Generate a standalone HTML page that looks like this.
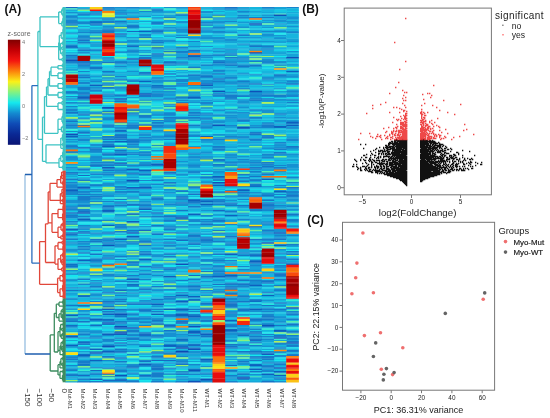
<!DOCTYPE html>
<html><head><meta charset="utf-8"><style>
html,body{margin:0;padding:0;background:#fff;width:550px;height:418px;overflow:hidden}
svg{display:block;font-family:"Liberation Sans",sans-serif;filter:blur(0.3px)}
</style></head><body>
<svg width="550" height="418" viewBox="0 0 550 418">
<rect width="550" height="418" fill="#fff"/>
<defs><linearGradient id="cb" x1="0" y1="0" x2="0" y2="1"><stop offset="0.000" stop-color="#800000"/><stop offset="0.050" stop-color="#a20003"/><stop offset="0.100" stop-color="#c40005"/><stop offset="0.150" stop-color="#dc0b0b"/><stop offset="0.200" stop-color="#f41610"/><stop offset="0.250" stop-color="#f84c0e"/><stop offset="0.300" stop-color="#fc820c"/><stop offset="0.350" stop-color="#fbba12"/><stop offset="0.400" stop-color="#faf219"/><stop offset="0.450" stop-color="#bef24d"/><stop offset="0.500" stop-color="#82f282"/><stop offset="0.550" stop-color="#4bedb8"/><stop offset="0.600" stop-color="#14e8ee"/><stop offset="0.650" stop-color="#14b9df"/><stop offset="0.700" stop-color="#148ad0"/><stop offset="0.750" stop-color="#126ac3"/><stop offset="0.800" stop-color="#0f4bb6"/><stop offset="0.850" stop-color="#0c3aa5"/><stop offset="0.900" stop-color="#0a2894"/><stop offset="0.950" stop-color="#0a1e84"/><stop offset="1.000" stop-color="#0a1473"/></linearGradient></defs><rect x="7.9" y="39.7" width="12.4" height="105.1" fill="url(#cb)"/>
<defs><filter id="bl" x="0" y="0" width="1" height="1"><feGaussianBlur stdDeviation="0.35"/></filter></defs><g filter="url(#bl)"><path fill="#126bc3" d="M65.3 7.0h12.67v1.55h-12.67zM65.3 23.3h12.67v1.55h-12.67zM65.3 45.8h12.67v1.55h-12.67zM65.3 54.5h12.67v1.55h-12.67zM65.3 90.8h12.67v1.55h-12.67zM65.3 95.8h12.67v1.55h-12.67zM65.3 102.1h12.67v1.55h-12.67zM65.3 105.8h12.67v1.55h-12.67zM65.3 130.8h12.67v1.55h-12.67zM65.3 138.4h12.67v1.55h-12.67zM65.3 233.4h12.67v1.55h-12.67zM65.3 263.5h12.67v1.55h-12.67zM65.3 321.0h12.67v1.55h-12.67zM65.3 324.8h12.67v1.55h-12.67zM77.6 70.8h12.67v1.55h-12.67zM77.6 113.3h12.67v1.55h-12.67zM77.6 124.6h12.67v1.55h-12.67zM77.6 172.1h12.67v1.55h-12.67zM77.6 174.6h12.67v1.55h-12.67zM77.6 210.9h12.67v1.55h-12.67zM77.6 215.9h12.67v1.55h-12.67zM77.6 296.0h12.67v1.55h-12.67zM77.6 304.7h12.67v1.55h-12.67zM77.6 341.0h12.67v2.80h-12.67zM77.6 374.8h12.67v1.55h-12.67zM89.8 22.0h12.67v1.55h-12.67zM89.8 240.9h12.67v1.55h-12.67zM89.8 324.8h12.67v1.55h-12.67zM89.8 369.8h12.67v1.55h-12.67zM102.1 28.3h12.67v1.55h-12.67zM102.1 158.4h12.67v1.55h-12.67zM102.1 200.9h12.67v1.55h-12.67zM102.1 205.9h12.67v1.55h-12.67zM102.1 210.9h12.67v1.55h-12.67zM102.1 318.5h12.67v1.55h-12.67zM102.1 373.5h12.67v1.55h-12.67zM102.1 379.8h12.67v1.55h-12.67zM114.4 129.6h12.67v1.55h-12.67zM114.4 267.2h12.67v1.55h-12.67zM114.4 289.7h12.67v1.55h-12.67zM114.4 301.0h12.67v1.55h-12.67zM114.4 303.5h12.67v1.55h-12.67zM114.4 308.5h12.67v1.55h-12.67zM114.4 321.0h12.67v1.55h-12.67zM114.4 331.0h12.67v1.55h-12.67zM114.4 379.8h12.67v1.55h-12.67zM126.6 30.8h12.67v1.55h-12.67zM126.6 45.8h12.67v1.55h-12.67zM126.6 172.1h12.67v1.55h-12.67zM126.6 283.5h12.67v1.55h-12.67zM126.6 292.2h12.67v1.55h-12.67zM126.6 353.5h12.67v1.55h-12.67zM126.6 367.3h12.67v1.55h-12.67zM138.9 229.7h12.67v1.55h-12.67zM138.9 278.5h12.67v1.55h-12.67zM138.9 333.5h12.67v2.80h-12.67zM138.9 346.0h12.67v1.55h-12.67zM138.9 361.0h12.67v1.55h-12.67zM138.9 374.8h12.67v1.55h-12.67zM151.2 8.3h12.67v1.55h-12.67zM151.2 47.0h12.67v1.55h-12.67zM151.2 84.6h12.67v1.55h-12.67zM151.2 98.3h12.67v1.55h-12.67zM151.2 308.5h12.67v1.55h-12.67zM151.2 359.8h12.67v1.55h-12.67zM163.5 324.8h12.67v1.55h-12.67zM163.5 346.0h12.67v1.55h-12.67zM163.5 359.8h12.67v1.55h-12.67zM175.7 47.0h12.67v1.55h-12.67zM175.7 63.3h12.67v1.55h-12.67zM175.7 239.7h12.67v1.55h-12.67zM175.7 317.2h12.67v1.55h-12.67zM175.7 338.5h12.67v1.55h-12.67zM175.7 346.0h12.67v1.55h-12.67zM175.7 371.0h12.67v1.55h-12.67zM188.0 49.5h12.67v1.55h-12.67zM188.0 124.6h12.67v1.55h-12.67zM188.0 242.2h12.67v1.55h-12.67zM188.0 274.7h12.67v1.55h-12.67zM188.0 298.5h12.67v1.55h-12.67zM188.0 344.8h12.67v1.55h-12.67zM188.0 347.3h12.67v1.55h-12.67zM200.3 336.0h12.67v1.55h-12.67zM200.3 351.0h12.67v1.55h-12.67zM212.5 62.0h12.67v1.55h-12.67zM212.5 158.4h12.67v1.55h-12.67zM212.5 163.4h12.67v1.55h-12.67zM212.5 209.7h12.67v1.55h-12.67zM212.5 248.4h12.67v1.55h-12.67zM224.8 64.5h12.67v1.55h-12.67zM224.8 232.2h12.67v1.55h-12.67zM224.8 235.9h12.67v1.55h-12.67zM224.8 282.2h12.67v1.55h-12.67zM224.8 287.2h12.67v1.55h-12.67zM224.8 302.2h12.67v1.55h-12.67zM224.8 328.5h12.67v1.55h-12.67zM224.8 364.8h12.67v1.55h-12.67zM237.1 180.9h12.67v1.55h-12.67zM237.1 185.9h12.67v1.55h-12.67zM237.1 198.4h12.67v1.55h-12.67zM237.1 266.0h12.67v1.55h-12.67zM237.1 334.8h12.67v1.55h-12.67zM237.1 361.0h12.67v1.55h-12.67zM237.1 378.5h12.67v1.55h-12.67zM249.3 64.5h12.67v1.55h-12.67zM249.3 132.1h12.67v1.55h-12.67zM249.3 168.4h12.67v1.55h-12.67zM249.3 185.9h12.67v1.55h-12.67zM249.3 254.7h12.67v1.55h-12.67zM249.3 301.0h12.67v1.55h-12.67zM249.3 323.5h12.67v1.55h-12.67zM249.3 328.5h12.67v1.55h-12.67zM249.3 339.8h12.67v1.55h-12.67zM249.3 356.0h12.67v1.55h-12.67zM249.3 363.5h12.67v1.55h-12.67zM261.6 17.0h12.67v1.55h-12.67zM261.6 165.9h12.67v1.55h-12.67zM261.6 318.5h12.67v1.55h-12.67zM261.6 351.0h12.67v1.55h-12.67zM261.6 358.5h12.67v1.55h-12.67zM261.6 362.3h12.67v1.55h-12.67zM273.9 127.1h12.67v1.55h-12.67zM273.9 193.4h12.67v1.55h-12.67zM273.9 202.2h12.67v1.55h-12.67zM273.9 272.2h12.67v1.55h-12.67zM286.2 102.1h12.67v1.55h-12.67zM286.2 213.4h12.67v1.55h-12.67zM286.2 341.0h12.67v1.55h-12.67z"/><path fill="#44ecbe" d="M65.3 8.3h12.67v1.55h-12.67zM65.3 128.3h12.67v1.55h-12.67zM77.6 276.0h12.67v1.55h-12.67zM77.6 282.2h12.67v1.55h-12.67zM89.8 108.3h12.67v1.55h-12.67zM89.8 135.9h12.67v1.55h-12.67zM102.1 179.6h12.67v1.55h-12.67zM102.1 188.4h12.67v1.55h-12.67zM102.1 272.2h12.67v1.55h-12.67zM102.1 368.5h12.67v1.55h-12.67zM114.4 18.3h12.67v1.55h-12.67zM114.4 291.0h12.67v1.55h-12.67zM138.9 67.0h12.67v1.55h-12.67zM138.9 104.6h12.67v1.55h-12.67zM138.9 149.6h12.67v1.55h-12.67zM138.9 159.6h12.67v1.55h-12.67zM138.9 217.2h12.67v1.55h-12.67zM138.9 294.7h12.67v1.55h-12.67zM138.9 348.5h12.67v1.55h-12.67zM138.9 358.5h12.67v1.55h-12.67zM151.2 269.7h12.67v1.55h-12.67zM151.2 287.2h12.67v1.55h-12.67zM163.5 13.3h12.67v1.55h-12.67zM163.5 49.5h12.67v1.55h-12.67zM163.5 89.6h12.67v1.55h-12.67zM163.5 183.4h12.67v1.55h-12.67zM163.5 209.7h12.67v1.55h-12.67zM163.5 247.2h12.67v1.55h-12.67zM163.5 309.7h12.67v1.55h-12.67zM175.7 167.1h12.67v1.55h-12.67zM175.7 342.3h12.67v1.55h-12.67zM200.3 89.6h12.67v1.55h-12.67zM200.3 94.6h12.67v1.55h-12.67zM200.3 174.6h12.67v1.55h-12.67zM200.3 357.3h12.67v1.55h-12.67zM212.5 135.9h12.67v1.55h-12.67zM212.5 157.1h12.67v1.55h-12.67zM212.5 162.1h12.67v1.55h-12.67zM212.5 167.1h12.67v1.55h-12.67zM212.5 194.7h12.67v1.55h-12.67zM224.8 55.8h12.67v1.55h-12.67zM224.8 207.2h12.67v1.55h-12.67zM224.8 359.8h12.67v1.55h-12.67zM237.1 276.0h12.67v1.55h-12.67zM237.1 337.3h12.67v2.80h-12.67zM249.3 112.1h12.67v1.55h-12.67zM249.3 182.1h12.67v1.55h-12.67zM249.3 376.0h12.67v1.55h-12.67zM261.6 84.6h12.67v1.55h-12.67zM261.6 138.4h12.67v1.55h-12.67zM273.9 13.3h12.67v1.55h-12.67zM273.9 93.3h12.67v1.55h-12.67zM286.2 180.9h12.67v1.55h-12.67zM286.2 309.7h12.67v1.55h-12.67z"/><path fill="#14a3d8" d="M65.3 9.5h12.67v1.55h-12.67zM65.3 14.5h12.67v1.55h-12.67zM65.3 18.3h12.67v1.55h-12.67zM65.3 28.3h12.67v1.55h-12.67zM65.3 32.0h12.67v1.55h-12.67zM65.3 40.8h12.67v1.55h-12.67zM65.3 52.0h12.67v1.55h-12.67zM65.3 63.3h12.67v1.55h-12.67zM65.3 68.3h12.67v2.80h-12.67zM65.3 84.6h12.67v4.05h-12.67zM65.3 99.6h12.67v1.55h-12.67zM65.3 103.3h12.67v1.55h-12.67zM65.3 110.8h12.67v1.55h-12.67zM65.3 119.6h12.67v1.55h-12.67zM65.3 125.8h12.67v1.55h-12.67zM65.3 147.1h12.67v2.80h-12.67zM65.3 159.6h12.67v1.55h-12.67zM65.3 168.4h12.67v1.55h-12.67zM65.3 175.9h12.67v1.55h-12.67zM65.3 183.4h12.67v1.55h-12.67zM65.3 195.9h12.67v1.55h-12.67zM65.3 204.7h12.67v1.55h-12.67zM65.3 209.7h12.67v1.55h-12.67zM65.3 213.4h12.67v1.55h-12.67zM65.3 222.2h12.67v1.55h-12.67zM65.3 237.2h12.67v1.55h-12.67zM65.3 240.9h12.67v1.55h-12.67zM65.3 243.4h12.67v1.55h-12.67zM65.3 250.9h12.67v1.55h-12.67zM65.3 255.9h12.67v1.55h-12.67zM65.3 259.7h12.67v1.55h-12.67zM65.3 262.2h12.67v1.55h-12.67zM65.3 267.2h12.67v1.55h-12.67zM65.3 272.2h12.67v1.55h-12.67zM65.3 278.5h12.67v1.55h-12.67zM65.3 292.2h12.67v2.80h-12.67zM65.3 313.5h12.67v1.55h-12.67zM65.3 327.3h12.67v1.55h-12.67zM65.3 331.0h12.67v1.55h-12.67zM65.3 339.8h12.67v1.55h-12.67zM65.3 346.0h12.67v2.80h-12.67zM65.3 351.0h12.67v1.55h-12.67zM65.3 367.3h12.67v1.55h-12.67zM65.3 381.0h12.67v1.55h-12.67zM77.6 17.0h12.67v1.55h-12.67zM77.6 20.8h12.67v1.55h-12.67zM77.6 25.8h12.67v1.55h-12.67zM77.6 29.5h12.67v2.80h-12.67zM77.6 34.5h12.67v1.55h-12.67zM77.6 40.8h12.67v1.55h-12.67zM77.6 47.0h12.67v1.55h-12.67zM77.6 67.0h12.67v1.55h-12.67zM77.6 73.3h12.67v1.55h-12.67zM77.6 75.8h12.67v1.55h-12.67zM77.6 79.6h12.67v1.55h-12.67zM77.6 83.3h12.67v1.55h-12.67zM77.6 85.8h12.67v1.55h-12.67zM77.6 89.6h12.67v2.80h-12.67zM77.6 94.6h12.67v1.55h-12.67zM77.6 99.6h12.67v1.55h-12.67zM77.6 104.6h12.67v1.55h-12.67zM77.6 112.1h12.67v1.55h-12.67zM77.6 117.1h12.67v1.55h-12.67zM77.6 137.1h12.67v1.55h-12.67zM77.6 143.4h12.67v1.55h-12.67zM77.6 157.1h12.67v1.55h-12.67zM77.6 159.6h12.67v1.55h-12.67zM77.6 164.6h12.67v1.55h-12.67zM77.6 169.6h12.67v1.55h-12.67zM77.6 192.1h12.67v1.55h-12.67zM77.6 203.4h12.67v1.55h-12.67zM77.6 225.9h12.67v1.55h-12.67zM77.6 234.7h12.67v1.55h-12.67zM77.6 247.2h12.67v1.55h-12.67zM77.6 258.5h12.67v1.55h-12.67zM77.6 268.5h12.67v1.55h-12.67zM77.6 271.0h12.67v1.55h-12.67zM77.6 273.5h12.67v1.55h-12.67zM77.6 311.0h12.67v1.55h-12.67zM77.6 318.5h12.67v1.55h-12.67zM77.6 324.8h12.67v1.55h-12.67zM77.6 328.5h12.67v2.80h-12.67zM77.6 332.3h12.67v1.55h-12.67zM77.6 334.8h12.67v1.55h-12.67zM77.6 348.5h12.67v1.55h-12.67zM77.6 357.3h12.67v1.55h-12.67zM77.6 373.5h12.67v1.55h-12.67zM77.6 376.0h12.67v1.55h-12.67zM89.8 12.0h12.67v1.55h-12.67zM89.8 17.0h12.67v1.55h-12.67zM89.8 37.0h12.67v1.55h-12.67zM89.8 43.3h12.67v4.05h-12.67zM89.8 48.3h12.67v1.55h-12.67zM89.8 58.3h12.67v1.55h-12.67zM89.8 65.8h12.67v1.55h-12.67zM89.8 78.3h12.67v2.80h-12.67zM89.8 88.3h12.67v1.55h-12.67zM89.8 90.8h12.67v1.55h-12.67zM89.8 104.6h12.67v1.55h-12.67zM89.8 127.1h12.67v1.55h-12.67zM89.8 137.1h12.67v1.55h-12.67zM89.8 152.1h12.67v1.55h-12.67zM89.8 163.4h12.67v1.55h-12.67zM89.8 172.1h12.67v1.55h-12.67zM89.8 175.9h12.67v2.80h-12.67zM89.8 179.6h12.67v1.55h-12.67zM89.8 183.4h12.67v1.55h-12.67zM89.8 189.6h12.67v1.55h-12.67zM89.8 194.7h12.67v1.55h-12.67zM89.8 207.2h12.67v1.55h-12.67zM89.8 209.7h12.67v2.80h-12.67zM89.8 213.4h12.67v4.05h-12.67zM89.8 224.7h12.67v4.05h-12.67zM89.8 233.4h12.67v1.55h-12.67zM89.8 242.2h12.67v1.55h-12.67zM89.8 257.2h12.67v1.55h-12.67zM89.8 266.0h12.67v1.55h-12.67zM89.8 277.2h12.67v1.55h-12.67zM89.8 283.5h12.67v2.80h-12.67zM89.8 287.2h12.67v1.55h-12.67zM89.8 292.2h12.67v1.55h-12.67zM89.8 298.5h12.67v1.55h-12.67zM89.8 304.7h12.67v1.55h-12.67zM89.8 323.5h12.67v1.55h-12.67zM89.8 329.8h12.67v1.55h-12.67zM89.8 334.8h12.67v1.55h-12.67zM89.8 346.0h12.67v1.55h-12.67zM89.8 353.5h12.67v1.55h-12.67zM102.1 17.0h12.67v1.55h-12.67zM102.1 27.0h12.67v1.55h-12.67zM102.1 59.5h12.67v2.80h-12.67zM102.1 72.1h12.67v1.55h-12.67zM102.1 82.1h12.67v1.55h-12.67zM102.1 94.6h12.67v1.55h-12.67zM102.1 100.8h12.67v1.55h-12.67zM102.1 108.3h12.67v1.55h-12.67zM102.1 119.6h12.67v1.55h-12.67zM102.1 123.3h12.67v1.55h-12.67zM102.1 127.1h12.67v1.55h-12.67zM102.1 130.8h12.67v1.55h-12.67zM102.1 142.1h12.67v1.55h-12.67zM102.1 160.9h12.67v1.55h-12.67zM102.1 163.4h12.67v1.55h-12.67zM102.1 174.6h12.67v1.55h-12.67zM102.1 178.4h12.67v1.55h-12.67zM102.1 192.1h12.67v2.80h-12.67zM102.1 198.4h12.67v1.55h-12.67zM102.1 208.4h12.67v1.55h-12.67zM102.1 212.2h12.67v1.55h-12.67zM102.1 217.2h12.67v1.55h-12.67zM102.1 230.9h12.67v1.55h-12.67zM102.1 233.4h12.67v1.55h-12.67zM102.1 240.9h12.67v1.55h-12.67zM102.1 243.4h12.67v1.55h-12.67zM102.1 247.2h12.67v1.55h-12.67zM102.1 255.9h12.67v1.55h-12.67zM102.1 267.2h12.67v1.55h-12.67zM102.1 271.0h12.67v1.55h-12.67zM102.1 276.0h12.67v1.55h-12.67zM102.1 278.5h12.67v1.55h-12.67zM102.1 281.0h12.67v1.55h-12.67zM102.1 288.5h12.67v4.05h-12.67zM102.1 298.5h12.67v2.80h-12.67zM102.1 303.5h12.67v2.80h-12.67zM102.1 312.2h12.67v1.55h-12.67zM102.1 316.0h12.67v1.55h-12.67zM102.1 321.0h12.67v1.55h-12.67zM102.1 331.0h12.67v1.55h-12.67zM102.1 343.5h12.67v1.55h-12.67zM102.1 363.5h12.67v1.55h-12.67zM114.4 8.3h12.67v1.55h-12.67zM114.4 10.8h12.67v1.55h-12.67zM114.4 15.8h12.67v1.55h-12.67zM114.4 22.0h12.67v1.55h-12.67zM114.4 29.5h12.67v2.80h-12.67zM114.4 34.5h12.67v1.55h-12.67zM114.4 38.3h12.67v1.55h-12.67zM114.4 40.8h12.67v1.55h-12.67zM114.4 47.0h12.67v1.55h-12.67zM114.4 50.8h12.67v1.55h-12.67zM114.4 72.1h12.67v1.55h-12.67zM114.4 79.6h12.67v1.55h-12.67zM114.4 88.3h12.67v2.80h-12.67zM114.4 93.3h12.67v1.55h-12.67zM114.4 95.8h12.67v1.55h-12.67zM114.4 99.6h12.67v1.55h-12.67zM114.4 128.3h12.67v1.55h-12.67zM114.4 144.6h12.67v1.55h-12.67zM114.4 150.9h12.67v1.55h-12.67zM114.4 158.4h12.67v1.55h-12.67zM114.4 163.4h12.67v1.55h-12.67zM114.4 167.1h12.67v2.80h-12.67zM114.4 170.9h12.67v1.55h-12.67zM114.4 173.4h12.67v1.55h-12.67zM114.4 182.1h12.67v2.80h-12.67zM114.4 193.4h12.67v1.55h-12.67zM114.4 195.9h12.67v1.55h-12.67zM114.4 214.7h12.67v1.55h-12.67zM114.4 219.7h12.67v1.55h-12.67zM114.4 228.4h12.67v1.55h-12.67zM114.4 233.4h12.67v1.55h-12.67zM114.4 237.2h12.67v1.55h-12.67zM114.4 242.2h12.67v1.55h-12.67zM114.4 254.7h12.67v1.55h-12.67zM114.4 273.5h12.67v2.80h-12.67zM114.4 279.7h12.67v1.55h-12.67zM114.4 283.5h12.67v1.55h-12.67zM114.4 299.7h12.67v1.55h-12.67zM114.4 306.0h12.67v1.55h-12.67zM114.4 311.0h12.67v1.55h-12.67zM114.4 323.5h12.67v2.80h-12.67zM114.4 358.5h12.67v1.55h-12.67zM114.4 366.0h12.67v1.55h-12.67zM114.4 368.5h12.67v1.55h-12.67zM114.4 376.0h12.67v1.55h-12.67zM126.6 8.3h12.67v1.55h-12.67zM126.6 13.3h12.67v1.55h-12.67zM126.6 15.8h12.67v1.55h-12.67zM126.6 22.0h12.67v1.55h-12.67zM126.6 42.0h12.67v1.55h-12.67zM126.6 48.3h12.67v1.55h-12.67zM126.6 52.0h12.67v1.55h-12.67zM126.6 60.8h12.67v1.55h-12.67zM126.6 63.3h12.67v2.80h-12.67zM126.6 78.3h12.67v1.55h-12.67zM126.6 114.6h12.67v1.55h-12.67zM126.6 119.6h12.67v1.55h-12.67zM126.6 122.1h12.67v1.55h-12.67zM126.6 132.1h12.67v1.55h-12.67zM126.6 134.6h12.67v1.55h-12.67zM126.6 144.6h12.67v1.55h-12.67zM126.6 147.1h12.67v1.55h-12.67zM126.6 165.9h12.67v1.55h-12.67zM126.6 192.1h12.67v1.55h-12.67zM126.6 195.9h12.67v1.55h-12.67zM126.6 207.2h12.67v1.55h-12.67zM126.6 209.7h12.67v1.55h-12.67zM126.6 222.2h12.67v1.55h-12.67zM126.6 227.2h12.67v1.55h-12.67zM126.6 230.9h12.67v1.55h-12.67zM126.6 237.2h12.67v1.55h-12.67zM126.6 249.7h12.67v1.55h-12.67zM126.6 254.7h12.67v1.55h-12.67zM126.6 288.5h12.67v1.55h-12.67zM126.6 294.7h12.67v2.80h-12.67zM126.6 309.7h12.67v1.55h-12.67zM126.6 314.7h12.67v1.55h-12.67zM126.6 319.8h12.67v1.55h-12.67zM126.6 324.8h12.67v1.55h-12.67zM126.6 341.0h12.67v1.55h-12.67zM126.6 348.5h12.67v2.80h-12.67zM126.6 369.8h12.67v1.55h-12.67zM138.9 7.0h12.67v1.55h-12.67zM138.9 20.8h12.67v1.55h-12.67zM138.9 23.3h12.67v1.55h-12.67zM138.9 27.0h12.67v1.55h-12.67zM138.9 35.8h12.67v1.55h-12.67zM138.9 40.8h12.67v1.55h-12.67zM138.9 52.0h12.67v1.55h-12.67zM138.9 74.6h12.67v1.55h-12.67zM138.9 84.6h12.67v1.55h-12.67zM138.9 88.3h12.67v1.55h-12.67zM138.9 92.1h12.67v1.55h-12.67zM138.9 98.3h12.67v1.55h-12.67zM138.9 108.3h12.67v5.30h-12.67zM138.9 119.6h12.67v2.80h-12.67zM138.9 132.1h12.67v1.55h-12.67zM138.9 138.4h12.67v1.55h-12.67zM138.9 140.9h12.67v2.80h-12.67zM138.9 145.9h12.67v1.55h-12.67zM138.9 150.9h12.67v1.55h-12.67zM138.9 158.4h12.67v1.55h-12.67zM138.9 170.9h12.67v2.80h-12.67zM138.9 174.6h12.67v1.55h-12.67zM138.9 184.6h12.67v1.55h-12.67zM138.9 188.4h12.67v1.55h-12.67zM138.9 198.4h12.67v1.55h-12.67zM138.9 202.2h12.67v1.55h-12.67zM138.9 205.9h12.67v1.55h-12.67zM138.9 212.2h12.67v1.55h-12.67zM138.9 228.4h12.67v1.55h-12.67zM138.9 237.2h12.67v2.80h-12.67zM138.9 254.7h12.67v1.55h-12.67zM138.9 262.2h12.67v1.55h-12.67zM138.9 272.2h12.67v1.55h-12.67zM138.9 291.0h12.67v1.55h-12.67zM138.9 301.0h12.67v1.55h-12.67zM138.9 327.3h12.67v1.55h-12.67zM138.9 337.3h12.67v1.55h-12.67zM138.9 343.5h12.67v1.55h-12.67zM138.9 366.0h12.67v1.55h-12.67zM138.9 369.8h12.67v2.80h-12.67zM138.9 373.5h12.67v1.55h-12.67zM151.2 12.0h12.67v1.55h-12.67zM151.2 18.3h12.67v1.55h-12.67zM151.2 20.8h12.67v1.55h-12.67zM151.2 28.3h12.67v1.55h-12.67zM151.2 32.0h12.67v1.55h-12.67zM151.2 37.0h12.67v1.55h-12.67zM151.2 57.0h12.67v2.80h-12.67zM151.2 62.0h12.67v1.55h-12.67zM151.2 78.3h12.67v1.55h-12.67zM151.2 82.1h12.67v1.55h-12.67zM151.2 92.1h12.67v1.55h-12.67zM151.2 99.6h12.67v1.55h-12.67zM151.2 112.1h12.67v2.80h-12.67zM151.2 130.8h12.67v1.55h-12.67zM151.2 137.1h12.67v1.55h-12.67zM151.2 160.9h12.67v1.55h-12.67zM151.2 177.1h12.67v1.55h-12.67zM151.2 187.1h12.67v1.55h-12.67zM151.2 192.1h12.67v1.55h-12.67zM151.2 195.9h12.67v1.55h-12.67zM151.2 199.7h12.67v1.55h-12.67zM151.2 205.9h12.67v1.55h-12.67zM151.2 209.7h12.67v1.55h-12.67zM151.2 213.4h12.67v1.55h-12.67zM151.2 219.7h12.67v1.55h-12.67zM151.2 225.9h12.67v1.55h-12.67zM151.2 232.2h12.67v1.55h-12.67zM151.2 244.7h12.67v1.55h-12.67zM151.2 253.4h12.67v1.55h-12.67zM151.2 259.7h12.67v1.55h-12.67zM151.2 263.5h12.67v1.55h-12.67zM151.2 266.0h12.67v1.55h-12.67zM151.2 272.2h12.67v1.55h-12.67zM151.2 283.5h12.67v1.55h-12.67zM151.2 288.5h12.67v1.55h-12.67zM151.2 292.2h12.67v1.55h-12.67zM151.2 299.7h12.67v4.05h-12.67zM151.2 304.7h12.67v1.55h-12.67zM151.2 322.3h12.67v1.55h-12.67zM151.2 327.3h12.67v1.55h-12.67zM151.2 339.8h12.67v1.55h-12.67zM151.2 346.0h12.67v1.55h-12.67zM151.2 354.8h12.67v1.55h-12.67zM151.2 362.3h12.67v1.55h-12.67zM151.2 369.8h12.67v1.55h-12.67zM151.2 379.8h12.67v1.55h-12.67zM163.5 10.8h12.67v2.80h-12.67zM163.5 14.5h12.67v2.80h-12.67zM163.5 19.5h12.67v2.80h-12.67zM163.5 24.5h12.67v1.55h-12.67zM163.5 28.3h12.67v1.55h-12.67zM163.5 35.8h12.67v1.55h-12.67zM163.5 80.8h12.67v1.55h-12.67zM163.5 84.6h12.67v1.55h-12.67zM163.5 92.1h12.67v2.80h-12.67zM163.5 97.1h12.67v1.55h-12.67zM163.5 123.3h12.67v1.55h-12.67zM163.5 132.1h12.67v2.80h-12.67zM163.5 142.1h12.67v4.05h-12.67zM163.5 178.4h12.67v1.55h-12.67zM163.5 189.6h12.67v1.55h-12.67zM163.5 198.4h12.67v1.55h-12.67zM163.5 200.9h12.67v2.80h-12.67zM163.5 204.7h12.67v1.55h-12.67zM163.5 217.2h12.67v2.80h-12.67zM163.5 224.7h12.67v1.55h-12.67zM163.5 229.7h12.67v1.55h-12.67zM163.5 235.9h12.67v1.55h-12.67zM163.5 240.9h12.67v1.55h-12.67zM163.5 245.9h12.67v1.55h-12.67zM163.5 269.7h12.67v2.80h-12.67zM163.5 279.7h12.67v2.80h-12.67zM163.5 284.7h12.67v1.55h-12.67zM163.5 289.7h12.67v1.55h-12.67zM163.5 292.2h12.67v1.55h-12.67zM163.5 301.0h12.67v1.55h-12.67zM163.5 331.0h12.67v1.55h-12.67zM163.5 351.0h12.67v1.55h-12.67zM163.5 364.8h12.67v1.55h-12.67zM163.5 368.5h12.67v1.55h-12.67zM163.5 371.0h12.67v1.55h-12.67zM163.5 377.3h12.67v1.55h-12.67zM163.5 381.0h12.67v1.55h-12.67zM175.7 8.3h12.67v1.55h-12.67zM175.7 27.0h12.67v1.55h-12.67zM175.7 32.0h12.67v1.55h-12.67zM175.7 40.8h12.67v1.55h-12.67zM175.7 43.3h12.67v1.55h-12.67zM175.7 53.3h12.67v4.05h-12.67zM175.7 60.8h12.67v1.55h-12.67zM175.7 64.5h12.67v1.55h-12.67zM175.7 69.6h12.67v1.55h-12.67zM175.7 72.1h12.67v1.55h-12.67zM175.7 74.6h12.67v1.55h-12.67zM175.7 85.8h12.67v1.55h-12.67zM175.7 113.3h12.67v1.55h-12.67zM175.7 149.6h12.67v2.80h-12.67zM175.7 153.4h12.67v1.55h-12.67zM175.7 163.4h12.67v2.80h-12.67zM175.7 169.6h12.67v2.80h-12.67zM175.7 174.6h12.67v1.55h-12.67zM175.7 193.4h12.67v2.80h-12.67zM175.7 199.7h12.67v2.80h-12.67zM175.7 227.2h12.67v1.55h-12.67zM175.7 230.9h12.67v1.55h-12.67zM175.7 235.9h12.67v2.80h-12.67zM175.7 243.4h12.67v2.80h-12.67zM175.7 252.2h12.67v2.80h-12.67zM175.7 261.0h12.67v1.55h-12.67zM175.7 271.0h12.67v1.55h-12.67zM175.7 273.5h12.67v1.55h-12.67zM175.7 284.7h12.67v1.55h-12.67zM175.7 303.5h12.67v1.55h-12.67zM175.7 307.2h12.67v1.55h-12.67zM175.7 312.2h12.67v1.55h-12.67zM175.7 334.8h12.67v2.80h-12.67zM175.7 341.0h12.67v1.55h-12.67zM175.7 343.5h12.67v1.55h-12.67zM175.7 353.5h12.67v2.80h-12.67zM175.7 358.5h12.67v1.55h-12.67zM175.7 366.0h12.67v1.55h-12.67zM175.7 377.3h12.67v1.55h-12.67zM188.0 52.0h12.67v1.55h-12.67zM188.0 57.0h12.67v1.55h-12.67zM188.0 65.8h12.67v1.55h-12.67zM188.0 73.3h12.67v1.55h-12.67zM188.0 75.8h12.67v1.55h-12.67zM188.0 79.6h12.67v1.55h-12.67zM188.0 87.1h12.67v1.55h-12.67zM188.0 93.3h12.67v2.80h-12.67zM188.0 99.6h12.67v2.80h-12.67zM188.0 104.6h12.67v1.55h-12.67zM188.0 109.6h12.67v1.55h-12.67zM188.0 113.3h12.67v1.55h-12.67zM188.0 125.8h12.67v2.80h-12.67zM188.0 132.1h12.67v1.55h-12.67zM188.0 152.1h12.67v1.55h-12.67zM188.0 158.4h12.67v2.80h-12.67zM188.0 162.1h12.67v2.80h-12.67zM188.0 167.1h12.67v1.55h-12.67zM188.0 169.6h12.67v1.55h-12.67zM188.0 175.9h12.67v2.80h-12.67zM188.0 188.4h12.67v1.55h-12.67zM188.0 195.9h12.67v1.55h-12.67zM188.0 203.4h12.67v1.55h-12.67zM188.0 207.2h12.67v1.55h-12.67zM188.0 214.7h12.67v1.55h-12.67zM188.0 224.7h12.67v1.55h-12.67zM188.0 233.4h12.67v1.55h-12.67zM188.0 237.2h12.67v2.80h-12.67zM188.0 240.9h12.67v1.55h-12.67zM188.0 245.9h12.67v1.55h-12.67zM188.0 249.7h12.67v1.55h-12.67zM188.0 263.5h12.67v4.05h-12.67zM188.0 292.2h12.67v1.55h-12.67zM188.0 306.0h12.67v1.55h-12.67zM188.0 319.8h12.67v1.55h-12.67zM188.0 324.8h12.67v1.55h-12.67zM188.0 346.0h12.67v1.55h-12.67zM188.0 353.5h12.67v2.80h-12.67zM188.0 358.5h12.67v1.55h-12.67zM188.0 364.8h12.67v1.55h-12.67zM188.0 377.3h12.67v2.80h-12.67zM200.3 15.8h12.67v1.55h-12.67zM200.3 20.8h12.67v1.55h-12.67zM200.3 23.3h12.67v1.55h-12.67zM200.3 27.0h12.67v1.55h-12.67zM200.3 29.5h12.67v1.55h-12.67zM200.3 32.0h12.67v1.55h-12.67zM200.3 34.5h12.67v2.80h-12.67zM200.3 49.5h12.67v1.55h-12.67zM200.3 55.8h12.67v1.55h-12.67zM200.3 70.8h12.67v4.05h-12.67zM200.3 93.3h12.67v1.55h-12.67zM200.3 103.3h12.67v2.80h-12.67zM200.3 109.6h12.67v1.55h-12.67zM200.3 112.1h12.67v1.55h-12.67zM200.3 122.1h12.67v1.55h-12.67zM200.3 124.6h12.67v1.55h-12.67zM200.3 140.9h12.67v2.80h-12.67zM200.3 144.6h12.67v2.80h-12.67zM200.3 150.9h12.67v1.55h-12.67zM200.3 153.4h12.67v1.55h-12.67zM200.3 157.1h12.67v1.55h-12.67zM200.3 162.1h12.67v4.05h-12.67zM200.3 167.1h12.67v1.55h-12.67zM200.3 169.6h12.67v1.55h-12.67zM200.3 175.9h12.67v1.55h-12.67zM200.3 198.4h12.67v1.55h-12.67zM200.3 205.9h12.67v1.55h-12.67zM200.3 215.9h12.67v1.55h-12.67zM200.3 219.7h12.67v1.55h-12.67zM200.3 222.2h12.67v1.55h-12.67zM200.3 224.7h12.67v1.55h-12.67zM200.3 230.9h12.67v1.55h-12.67zM200.3 235.9h12.67v1.55h-12.67zM200.3 244.7h12.67v1.55h-12.67zM200.3 250.9h12.67v1.55h-12.67zM200.3 254.7h12.67v1.55h-12.67zM200.3 261.0h12.67v1.55h-12.67zM200.3 264.7h12.67v1.55h-12.67zM200.3 273.5h12.67v2.80h-12.67zM200.3 284.7h12.67v1.55h-12.67zM200.3 297.2h12.67v1.55h-12.67zM200.3 329.8h12.67v2.80h-12.67zM200.3 337.3h12.67v1.55h-12.67zM200.3 342.3h12.67v1.55h-12.67zM200.3 346.0h12.67v1.55h-12.67zM200.3 354.8h12.67v1.55h-12.67zM200.3 368.5h12.67v2.80h-12.67zM200.3 376.0h12.67v1.55h-12.67zM212.5 7.0h12.67v1.55h-12.67zM212.5 10.8h12.67v1.55h-12.67zM212.5 17.0h12.67v1.55h-12.67zM212.5 23.3h12.67v1.55h-12.67zM212.5 25.8h12.67v1.55h-12.67zM212.5 39.5h12.67v2.80h-12.67zM212.5 53.3h12.67v1.55h-12.67zM212.5 75.8h12.67v2.80h-12.67zM212.5 79.6h12.67v1.55h-12.67zM212.5 82.1h12.67v2.80h-12.67zM212.5 85.8h12.67v2.80h-12.67zM212.5 104.6h12.67v1.55h-12.67zM212.5 108.3h12.67v1.55h-12.67zM212.5 113.3h12.67v1.55h-12.67zM212.5 119.6h12.67v1.55h-12.67zM212.5 134.6h12.67v1.55h-12.67zM212.5 137.1h12.67v1.55h-12.67zM212.5 139.6h12.67v5.30h-12.67zM212.5 153.4h12.67v1.55h-12.67zM212.5 155.9h12.67v1.55h-12.67zM212.5 160.9h12.67v1.55h-12.67zM212.5 165.9h12.67v1.55h-12.67zM212.5 172.1h12.67v2.80h-12.67zM212.5 187.1h12.67v1.55h-12.67zM212.5 202.2h12.67v1.55h-12.67zM212.5 207.2h12.67v1.55h-12.67zM212.5 210.9h12.67v1.55h-12.67zM212.5 213.4h12.67v2.80h-12.67zM212.5 218.4h12.67v1.55h-12.67zM212.5 233.4h12.67v1.55h-12.67zM212.5 238.4h12.67v2.80h-12.67zM212.5 250.9h12.67v1.55h-12.67zM212.5 257.2h12.67v2.80h-12.67zM212.5 261.0h12.67v1.55h-12.67zM212.5 268.5h12.67v1.55h-12.67zM212.5 278.5h12.67v1.55h-12.67zM212.5 289.7h12.67v1.55h-12.67zM224.8 9.5h12.67v1.55h-12.67zM224.8 17.0h12.67v1.55h-12.67zM224.8 23.3h12.67v1.55h-12.67zM224.8 25.8h12.67v2.80h-12.67zM224.8 30.8h12.67v1.55h-12.67zM224.8 40.8h12.67v2.80h-12.67zM224.8 49.5h12.67v4.05h-12.67zM224.8 58.3h12.67v2.80h-12.67zM224.8 67.0h12.67v1.55h-12.67zM224.8 69.6h12.67v1.55h-12.67zM224.8 74.6h12.67v2.80h-12.67zM224.8 85.8h12.67v1.55h-12.67zM224.8 110.8h12.67v1.55h-12.67zM224.8 115.8h12.67v1.55h-12.67zM224.8 118.3h12.67v4.05h-12.67zM224.8 125.8h12.67v2.80h-12.67zM224.8 129.6h12.67v2.80h-12.67zM224.8 133.4h12.67v2.80h-12.67zM224.8 137.1h12.67v1.55h-12.67zM224.8 142.1h12.67v1.55h-12.67zM224.8 145.9h12.67v2.80h-12.67zM224.8 155.9h12.67v1.55h-12.67zM224.8 158.4h12.67v1.55h-12.67zM224.8 163.4h12.67v1.55h-12.67zM224.8 167.1h12.67v1.55h-12.67zM224.8 185.9h12.67v1.55h-12.67zM224.8 197.2h12.67v1.55h-12.67zM224.8 209.7h12.67v1.55h-12.67zM224.8 219.7h12.67v2.80h-12.67zM224.8 233.4h12.67v2.80h-12.67zM224.8 248.4h12.67v1.55h-12.67zM224.8 263.5h12.67v1.55h-12.67zM224.8 271.0h12.67v1.55h-12.67zM224.8 273.5h12.67v1.55h-12.67zM224.8 278.5h12.67v1.55h-12.67zM224.8 284.7h12.67v1.55h-12.67zM224.8 299.7h12.67v1.55h-12.67zM224.8 321.0h12.67v1.55h-12.67zM224.8 334.8h12.67v4.05h-12.67zM224.8 341.0h12.67v1.55h-12.67zM224.8 358.5h12.67v1.55h-12.67zM224.8 376.0h12.67v1.55h-12.67zM224.8 378.5h12.67v1.55h-12.67zM237.1 7.0h12.67v1.55h-12.67zM237.1 12.0h12.67v1.55h-12.67zM237.1 15.8h12.67v1.55h-12.67zM237.1 18.3h12.67v1.55h-12.67zM237.1 25.8h12.67v1.55h-12.67zM237.1 29.5h12.67v1.55h-12.67zM237.1 33.3h12.67v1.55h-12.67zM237.1 40.8h12.67v1.55h-12.67zM237.1 44.5h12.67v1.55h-12.67zM237.1 48.3h12.67v1.55h-12.67zM237.1 55.8h12.67v1.55h-12.67zM237.1 59.5h12.67v1.55h-12.67zM237.1 63.3h12.67v1.55h-12.67zM237.1 67.0h12.67v1.55h-12.67zM237.1 72.1h12.67v1.55h-12.67zM237.1 79.6h12.67v1.55h-12.67zM237.1 82.1h12.67v1.55h-12.67zM237.1 84.6h12.67v1.55h-12.67zM237.1 99.6h12.67v1.55h-12.67zM237.1 103.3h12.67v1.55h-12.67zM237.1 105.8h12.67v1.55h-12.67zM237.1 109.6h12.67v1.55h-12.67zM237.1 113.3h12.67v5.30h-12.67zM237.1 138.4h12.67v1.55h-12.67zM237.1 144.6h12.67v2.80h-12.67zM237.1 148.4h12.67v5.30h-12.67zM237.1 159.6h12.67v1.55h-12.67zM237.1 164.6h12.67v1.55h-12.67zM237.1 174.6h12.67v1.55h-12.67zM237.1 193.4h12.67v1.55h-12.67zM237.1 202.2h12.67v1.55h-12.67zM237.1 205.9h12.67v2.80h-12.67zM237.1 225.9h12.67v2.80h-12.67zM237.1 248.4h12.67v4.05h-12.67zM237.1 253.4h12.67v1.55h-12.67zM237.1 269.7h12.67v1.55h-12.67zM237.1 278.5h12.67v1.55h-12.67zM237.1 287.2h12.67v1.55h-12.67zM237.1 289.7h12.67v1.55h-12.67zM237.1 297.2h12.67v4.05h-12.67zM237.1 304.7h12.67v1.55h-12.67zM237.1 307.2h12.67v1.55h-12.67zM237.1 311.0h12.67v1.55h-12.67zM237.1 326.0h12.67v1.55h-12.67zM237.1 358.5h12.67v2.80h-12.67zM237.1 381.0h12.67v1.55h-12.67zM249.3 10.8h12.67v1.55h-12.67zM249.3 20.8h12.67v2.80h-12.67zM249.3 29.5h12.67v4.05h-12.67zM249.3 34.5h12.67v1.55h-12.67zM249.3 49.5h12.67v1.55h-12.67zM249.3 63.3h12.67v1.55h-12.67zM249.3 74.6h12.67v1.55h-12.67zM249.3 80.8h12.67v2.80h-12.67zM249.3 88.3h12.67v1.55h-12.67zM249.3 97.1h12.67v1.55h-12.67zM249.3 102.1h12.67v1.55h-12.67zM249.3 119.6h12.67v1.55h-12.67zM249.3 125.8h12.67v1.55h-12.67zM249.3 134.6h12.67v1.55h-12.67zM249.3 144.6h12.67v1.55h-12.67zM249.3 148.4h12.67v1.55h-12.67zM249.3 150.9h12.67v2.80h-12.67zM249.3 154.6h12.67v1.55h-12.67zM249.3 157.1h12.67v1.55h-12.67zM249.3 160.9h12.67v1.55h-12.67zM249.3 163.4h12.67v1.55h-12.67zM249.3 173.4h12.67v2.80h-12.67zM249.3 215.9h12.67v1.55h-12.67zM249.3 218.4h12.67v6.56h-12.67zM249.3 233.4h12.67v1.55h-12.67zM249.3 239.7h12.67v1.55h-12.67zM249.3 249.7h12.67v1.55h-12.67zM249.3 263.5h12.67v1.55h-12.67zM249.3 266.0h12.67v4.05h-12.67zM249.3 287.2h12.67v2.80h-12.67zM249.3 296.0h12.67v1.55h-12.67zM249.3 304.7h12.67v1.55h-12.67zM249.3 321.0h12.67v1.55h-12.67zM249.3 327.3h12.67v1.55h-12.67zM249.3 333.5h12.67v2.80h-12.67zM249.3 337.3h12.67v1.55h-12.67zM249.3 341.0h12.67v1.55h-12.67zM249.3 349.8h12.67v1.55h-12.67zM249.3 353.5h12.67v1.55h-12.67zM249.3 377.3h12.67v2.80h-12.67zM249.3 381.0h12.67v1.55h-12.67zM261.6 12.0h12.67v1.55h-12.67zM261.6 24.5h12.67v1.55h-12.67zM261.6 35.8h12.67v1.55h-12.67zM261.6 44.5h12.67v1.55h-12.67zM261.6 47.0h12.67v1.55h-12.67zM261.6 49.5h12.67v5.30h-12.67zM261.6 63.3h12.67v1.55h-12.67zM261.6 73.3h12.67v1.55h-12.67zM261.6 75.8h12.67v1.55h-12.67zM261.6 79.6h12.67v1.55h-12.67zM261.6 85.8h12.67v1.55h-12.67zM261.6 88.3h12.67v1.55h-12.67zM261.6 92.1h12.67v1.55h-12.67zM261.6 100.8h12.67v1.55h-12.67zM261.6 105.8h12.67v1.55h-12.67zM261.6 108.3h12.67v1.55h-12.67zM261.6 144.6h12.67v1.55h-12.67zM261.6 150.9h12.67v1.55h-12.67zM261.6 155.9h12.67v1.55h-12.67zM261.6 168.4h12.67v2.80h-12.67zM261.6 195.9h12.67v1.55h-12.67zM261.6 198.4h12.67v1.55h-12.67zM261.6 215.9h12.67v1.55h-12.67zM261.6 224.7h12.67v1.55h-12.67zM261.6 230.9h12.67v1.55h-12.67zM261.6 233.4h12.67v1.55h-12.67zM261.6 263.5h12.67v1.55h-12.67zM261.6 267.2h12.67v1.55h-12.67zM261.6 284.7h12.67v2.80h-12.67zM261.6 291.0h12.67v1.55h-12.67zM261.6 302.2h12.67v1.55h-12.67zM261.6 309.7h12.67v1.55h-12.67zM261.6 339.8h12.67v2.80h-12.67zM261.6 344.8h12.67v1.55h-12.67zM261.6 361.0h12.67v1.55h-12.67zM261.6 368.5h12.67v1.55h-12.67zM261.6 374.8h12.67v4.05h-12.67zM261.6 379.8h12.67v1.55h-12.67zM273.9 7.0h12.67v2.80h-12.67zM273.9 15.8h12.67v4.05h-12.67zM273.9 25.8h12.67v1.55h-12.67zM273.9 29.5h12.67v1.55h-12.67zM273.9 40.8h12.67v2.80h-12.67zM273.9 52.0h12.67v2.80h-12.67zM273.9 77.1h12.67v1.55h-12.67zM273.9 79.6h12.67v1.55h-12.67zM273.9 102.1h12.67v1.55h-12.67zM273.9 105.8h12.67v1.55h-12.67zM273.9 112.1h12.67v1.55h-12.67zM273.9 114.6h12.67v1.55h-12.67zM273.9 133.4h12.67v1.55h-12.67zM273.9 138.4h12.67v1.55h-12.67zM273.9 143.4h12.67v1.55h-12.67zM273.9 145.9h12.67v1.55h-12.67zM273.9 154.6h12.67v1.55h-12.67zM273.9 159.6h12.67v1.55h-12.67zM273.9 205.9h12.67v2.80h-12.67zM273.9 233.4h12.67v1.55h-12.67zM273.9 235.9h12.67v1.55h-12.67zM273.9 243.4h12.67v1.55h-12.67zM273.9 249.7h12.67v1.55h-12.67zM273.9 253.4h12.67v1.55h-12.67zM273.9 258.5h12.67v4.05h-12.67zM273.9 268.5h12.67v1.55h-12.67zM273.9 298.5h12.67v1.55h-12.67zM273.9 306.0h12.67v1.55h-12.67zM273.9 311.0h12.67v1.55h-12.67zM273.9 318.5h12.67v2.80h-12.67zM273.9 322.3h12.67v1.55h-12.67zM273.9 327.3h12.67v1.55h-12.67zM273.9 339.8h12.67v1.55h-12.67zM273.9 346.0h12.67v1.55h-12.67zM273.9 348.5h12.67v1.55h-12.67zM273.9 361.0h12.67v1.55h-12.67zM273.9 364.8h12.67v1.55h-12.67zM273.9 372.3h12.67v1.55h-12.67zM286.2 12.0h12.67v1.55h-12.67zM286.2 15.8h12.67v1.55h-12.67zM286.2 22.0h12.67v2.80h-12.67zM286.2 38.3h12.67v2.80h-12.67zM286.2 45.8h12.67v1.55h-12.67zM286.2 48.3h12.67v1.55h-12.67zM286.2 53.3h12.67v4.05h-12.67zM286.2 60.8h12.67v1.55h-12.67zM286.2 63.3h12.67v2.80h-12.67zM286.2 73.3h12.67v2.80h-12.67zM286.2 77.1h12.67v1.55h-12.67zM286.2 79.6h12.67v1.55h-12.67zM286.2 82.1h12.67v1.55h-12.67zM286.2 89.6h12.67v1.55h-12.67zM286.2 92.1h12.67v2.80h-12.67zM286.2 104.6h12.67v2.80h-12.67zM286.2 110.8h12.67v4.05h-12.67zM286.2 119.6h12.67v1.55h-12.67zM286.2 128.3h12.67v1.55h-12.67zM286.2 133.4h12.67v1.55h-12.67zM286.2 135.9h12.67v2.80h-12.67zM286.2 154.6h12.67v2.80h-12.67zM286.2 158.4h12.67v2.80h-12.67zM286.2 167.1h12.67v1.55h-12.67zM286.2 173.4h12.67v1.55h-12.67zM286.2 175.9h12.67v1.55h-12.67zM286.2 197.2h12.67v1.55h-12.67zM286.2 209.7h12.67v1.55h-12.67zM286.2 212.2h12.67v1.55h-12.67zM286.2 222.2h12.67v1.55h-12.67zM286.2 224.7h12.67v1.55h-12.67zM286.2 237.2h12.67v1.55h-12.67zM286.2 240.9h12.67v1.55h-12.67zM286.2 245.9h12.67v1.55h-12.67zM286.2 252.2h12.67v1.55h-12.67zM286.2 261.0h12.67v1.55h-12.67zM286.2 314.7h12.67v1.55h-12.67zM286.2 329.8h12.67v1.55h-12.67zM286.2 336.0h12.67v1.55h-12.67zM286.2 339.8h12.67v1.55h-12.67zM286.2 343.5h12.67v1.55h-12.67z"/><path fill="#14c7e3" d="M65.3 10.8h12.67v1.55h-12.67zM65.3 13.3h12.67v1.55h-12.67zM65.3 37.0h12.67v1.55h-12.67zM65.3 42.0h12.67v2.80h-12.67zM65.3 49.5h12.67v1.55h-12.67zM65.3 65.8h12.67v1.55h-12.67zM65.3 88.3h12.67v1.55h-12.67zM65.3 97.1h12.67v1.55h-12.67zM65.3 113.3h12.67v1.55h-12.67zM65.3 115.8h12.67v1.55h-12.67zM65.3 122.1h12.67v1.55h-12.67zM65.3 137.1h12.67v1.55h-12.67zM65.3 142.1h12.67v1.55h-12.67zM65.3 165.9h12.67v1.55h-12.67zM65.3 170.9h12.67v1.55h-12.67zM65.3 177.1h12.67v1.55h-12.67zM65.3 180.9h12.67v1.55h-12.67zM65.3 194.7h12.67v1.55h-12.67zM65.3 197.2h12.67v2.80h-12.67zM65.3 210.9h12.67v1.55h-12.67zM65.3 219.7h12.67v1.55h-12.67zM65.3 225.9h12.67v1.55h-12.67zM65.3 235.9h12.67v1.55h-12.67zM65.3 239.7h12.67v1.55h-12.67zM65.3 257.2h12.67v1.55h-12.67zM65.3 286.0h12.67v1.55h-12.67zM65.3 299.7h12.67v2.80h-12.67zM65.3 303.5h12.67v1.55h-12.67zM65.3 307.2h12.67v1.55h-12.67zM65.3 311.0h12.67v1.55h-12.67zM65.3 322.3h12.67v1.55h-12.67zM65.3 362.3h12.67v1.55h-12.67zM65.3 372.3h12.67v1.55h-12.67zM65.3 376.0h12.67v1.55h-12.67zM77.6 53.3h12.67v1.55h-12.67zM77.6 72.1h12.67v1.55h-12.67zM77.6 103.3h12.67v1.55h-12.67zM77.6 105.8h12.67v1.55h-12.67zM77.6 120.8h12.67v2.80h-12.67zM77.6 140.9h12.67v1.55h-12.67zM77.6 145.9h12.67v1.55h-12.67zM77.6 148.4h12.67v2.80h-12.67zM77.6 152.1h12.67v2.80h-12.67zM77.6 158.4h12.67v1.55h-12.67zM77.6 170.9h12.67v1.55h-12.67zM77.6 178.4h12.67v1.55h-12.67zM77.6 213.4h12.67v1.55h-12.67zM77.6 220.9h12.67v1.55h-12.67zM77.6 229.7h12.67v1.55h-12.67zM77.6 239.7h12.67v1.55h-12.67zM77.6 263.5h12.67v2.80h-12.67zM77.6 269.7h12.67v1.55h-12.67zM77.6 274.7h12.67v1.55h-12.67zM77.6 277.2h12.67v1.55h-12.67zM77.6 284.7h12.67v2.80h-12.67zM77.6 292.2h12.67v1.55h-12.67zM77.6 301.0h12.67v1.55h-12.67zM77.6 303.5h12.67v1.55h-12.67zM77.6 316.0h12.67v1.55h-12.67zM77.6 319.8h12.67v1.55h-12.67zM77.6 322.3h12.67v1.55h-12.67zM77.6 336.0h12.67v1.55h-12.67zM77.6 338.5h12.67v1.55h-12.67zM89.8 33.3h12.67v1.55h-12.67zM89.8 54.5h12.67v1.55h-12.67zM89.8 64.5h12.67v1.55h-12.67zM89.8 73.3h12.67v1.55h-12.67zM89.8 77.1h12.67v1.55h-12.67zM89.8 83.3h12.67v1.55h-12.67zM89.8 85.8h12.67v1.55h-12.67zM89.8 103.3h12.67v1.55h-12.67zM89.8 117.1h12.67v1.55h-12.67zM89.8 119.6h12.67v1.55h-12.67zM89.8 123.3h12.67v4.05h-12.67zM89.8 153.4h12.67v1.55h-12.67zM89.8 160.9h12.67v1.55h-12.67zM89.8 174.6h12.67v1.55h-12.67zM89.8 205.9h12.67v1.55h-12.67zM89.8 220.9h12.67v1.55h-12.67zM89.8 252.2h12.67v1.55h-12.67zM89.8 255.9h12.67v1.55h-12.67zM89.8 267.2h12.67v1.55h-12.67zM89.8 271.0h12.67v1.55h-12.67zM89.8 281.0h12.67v1.55h-12.67zM89.8 288.5h12.67v1.55h-12.67zM89.8 317.2h12.67v1.55h-12.67zM89.8 333.5h12.67v1.55h-12.67zM89.8 338.5h12.67v1.55h-12.67zM89.8 357.3h12.67v2.80h-12.67zM89.8 377.3h12.67v1.55h-12.67zM102.1 65.8h12.67v2.80h-12.67zM102.1 78.3h12.67v1.55h-12.67zM102.1 97.1h12.67v1.55h-12.67zM102.1 104.6h12.67v2.80h-12.67zM102.1 114.6h12.67v1.55h-12.67zM102.1 120.8h12.67v2.80h-12.67zM102.1 139.6h12.67v1.55h-12.67zM102.1 165.9h12.67v1.55h-12.67zM102.1 168.4h12.67v1.55h-12.67zM102.1 170.9h12.67v1.55h-12.67zM102.1 185.9h12.67v1.55h-12.67zM102.1 199.7h12.67v1.55h-12.67zM102.1 218.4h12.67v1.55h-12.67zM102.1 222.2h12.67v1.55h-12.67zM102.1 227.2h12.67v2.80h-12.67zM102.1 245.9h12.67v1.55h-12.67zM102.1 262.2h12.67v1.55h-12.67zM102.1 277.2h12.67v1.55h-12.67zM102.1 309.7h12.67v1.55h-12.67zM102.1 326.0h12.67v1.55h-12.67zM102.1 336.0h12.67v1.55h-12.67zM102.1 354.8h12.67v1.55h-12.67zM102.1 361.0h12.67v1.55h-12.67zM114.4 14.5h12.67v1.55h-12.67zM114.4 19.5h12.67v1.55h-12.67zM114.4 37.0h12.67v1.55h-12.67zM114.4 48.3h12.67v1.55h-12.67zM114.4 58.3h12.67v1.55h-12.67zM114.4 70.8h12.67v1.55h-12.67zM114.4 82.1h12.67v1.55h-12.67zM114.4 90.8h12.67v1.55h-12.67zM114.4 97.1h12.67v1.55h-12.67zM114.4 132.1h12.67v1.55h-12.67zM114.4 175.9h12.67v1.55h-12.67zM114.4 184.6h12.67v1.55h-12.67zM114.4 189.6h12.67v1.55h-12.67zM114.4 209.7h12.67v2.80h-12.67zM114.4 220.9h12.67v1.55h-12.67zM114.4 232.2h12.67v1.55h-12.67zM114.4 247.2h12.67v1.55h-12.67zM114.4 252.2h12.67v1.55h-12.67zM114.4 259.7h12.67v1.55h-12.67zM114.4 268.5h12.67v1.55h-12.67zM114.4 293.5h12.67v1.55h-12.67zM114.4 317.2h12.67v1.55h-12.67zM114.4 338.5h12.67v1.55h-12.67zM114.4 346.0h12.67v1.55h-12.67zM114.4 359.8h12.67v1.55h-12.67zM114.4 373.5h12.67v1.55h-12.67zM114.4 377.3h12.67v1.55h-12.67zM126.6 19.5h12.67v1.55h-12.67zM126.6 23.3h12.67v1.55h-12.67zM126.6 28.3h12.67v1.55h-12.67zM126.6 43.3h12.67v1.55h-12.67zM126.6 57.0h12.67v1.55h-12.67zM126.6 67.0h12.67v1.55h-12.67zM126.6 69.6h12.67v1.55h-12.67zM126.6 102.1h12.67v1.55h-12.67zM126.6 117.1h12.67v1.55h-12.67zM126.6 120.8h12.67v1.55h-12.67zM126.6 130.8h12.67v1.55h-12.67zM126.6 133.4h12.67v1.55h-12.67zM126.6 135.9h12.67v2.80h-12.67zM126.6 150.9h12.67v1.55h-12.67zM126.6 154.6h12.67v1.55h-12.67zM126.6 167.1h12.67v1.55h-12.67zM126.6 170.9h12.67v1.55h-12.67zM126.6 182.1h12.67v1.55h-12.67zM126.6 193.4h12.67v1.55h-12.67zM126.6 198.4h12.67v1.55h-12.67zM126.6 212.2h12.67v1.55h-12.67zM126.6 219.7h12.67v1.55h-12.67zM126.6 267.2h12.67v1.55h-12.67zM126.6 279.7h12.67v1.55h-12.67zM126.6 282.2h12.67v1.55h-12.67zM126.6 291.0h12.67v1.55h-12.67zM126.6 297.2h12.67v1.55h-12.67zM126.6 301.0h12.67v1.55h-12.67zM126.6 306.0h12.67v2.80h-12.67zM126.6 316.0h12.67v1.55h-12.67zM126.6 339.8h12.67v1.55h-12.67zM126.6 346.0h12.67v2.80h-12.67zM126.6 354.8h12.67v1.55h-12.67zM126.6 359.8h12.67v1.55h-12.67zM138.9 29.5h12.67v1.55h-12.67zM138.9 43.3h12.67v1.55h-12.67zM138.9 47.0h12.67v1.55h-12.67zM138.9 55.8h12.67v1.55h-12.67zM138.9 105.8h12.67v1.55h-12.67zM138.9 130.8h12.67v1.55h-12.67zM138.9 135.9h12.67v1.55h-12.67zM138.9 155.9h12.67v1.55h-12.67zM138.9 160.9h12.67v1.55h-12.67zM138.9 165.9h12.67v2.80h-12.67zM138.9 182.1h12.67v1.55h-12.67zM138.9 197.2h12.67v1.55h-12.67zM138.9 214.7h12.67v1.55h-12.67zM138.9 219.7h12.67v1.55h-12.67zM138.9 234.7h12.67v2.80h-12.67zM138.9 249.7h12.67v1.55h-12.67zM138.9 255.9h12.67v1.55h-12.67zM138.9 267.2h12.67v2.80h-12.67zM138.9 279.7h12.67v1.55h-12.67zM138.9 283.5h12.67v1.55h-12.67zM138.9 286.0h12.67v1.55h-12.67zM138.9 306.0h12.67v2.80h-12.67zM138.9 328.5h12.67v1.55h-12.67zM138.9 331.0h12.67v1.55h-12.67zM138.9 362.3h12.67v1.55h-12.67zM151.2 25.8h12.67v2.80h-12.67zM151.2 43.3h12.67v1.55h-12.67zM151.2 52.0h12.67v1.55h-12.67zM151.2 63.3h12.67v1.55h-12.67zM151.2 89.6h12.67v1.55h-12.67zM151.2 97.1h12.67v1.55h-12.67zM151.2 100.8h12.67v1.55h-12.67zM151.2 103.3h12.67v1.55h-12.67zM151.2 120.8h12.67v1.55h-12.67zM151.2 139.6h12.67v1.55h-12.67zM151.2 150.9h12.67v1.55h-12.67zM151.2 153.4h12.67v1.55h-12.67zM151.2 157.1h12.67v1.55h-12.67zM151.2 159.6h12.67v1.55h-12.67zM151.2 165.9h12.67v1.55h-12.67zM151.2 178.4h12.67v1.55h-12.67zM151.2 182.1h12.67v1.55h-12.67zM151.2 184.6h12.67v1.55h-12.67zM151.2 193.4h12.67v1.55h-12.67zM151.2 207.2h12.67v1.55h-12.67zM151.2 210.9h12.67v1.55h-12.67zM151.2 217.2h12.67v1.55h-12.67zM151.2 234.7h12.67v4.05h-12.67zM151.2 240.9h12.67v1.55h-12.67zM151.2 245.9h12.67v1.55h-12.67zM151.2 258.5h12.67v1.55h-12.67zM151.2 277.2h12.67v1.55h-12.67zM151.2 294.7h12.67v2.80h-12.67zM151.2 309.7h12.67v1.55h-12.67zM151.2 348.5h12.67v1.55h-12.67zM151.2 353.5h12.67v1.55h-12.67zM163.5 25.8h12.67v1.55h-12.67zM163.5 33.3h12.67v1.55h-12.67zM163.5 42.0h12.67v2.80h-12.67zM163.5 53.3h12.67v1.55h-12.67zM163.5 77.1h12.67v1.55h-12.67zM163.5 87.1h12.67v1.55h-12.67zM163.5 99.6h12.67v2.80h-12.67zM163.5 109.6h12.67v1.55h-12.67zM163.5 122.1h12.67v1.55h-12.67zM163.5 137.1h12.67v1.55h-12.67zM163.5 140.9h12.67v1.55h-12.67zM163.5 180.9h12.67v1.55h-12.67zM163.5 208.4h12.67v1.55h-12.67zM163.5 210.9h12.67v1.55h-12.67zM163.5 239.7h12.67v1.55h-12.67zM163.5 254.7h12.67v1.55h-12.67zM163.5 257.2h12.67v1.55h-12.67zM163.5 272.2h12.67v1.55h-12.67zM163.5 294.7h12.67v1.55h-12.67zM163.5 318.5h12.67v1.55h-12.67zM163.5 358.5h12.67v1.55h-12.67zM163.5 363.5h12.67v1.55h-12.67zM163.5 369.8h12.67v1.55h-12.67zM163.5 372.3h12.67v1.55h-12.67zM163.5 376.0h12.67v1.55h-12.67zM175.7 9.5h12.67v2.80h-12.67zM175.7 23.3h12.67v2.80h-12.67zM175.7 33.3h12.67v1.55h-12.67zM175.7 35.8h12.67v1.55h-12.67zM175.7 42.0h12.67v1.55h-12.67zM175.7 45.8h12.67v1.55h-12.67zM175.7 49.5h12.67v1.55h-12.67zM175.7 59.5h12.67v1.55h-12.67zM175.7 67.0h12.67v1.55h-12.67zM175.7 70.8h12.67v1.55h-12.67zM175.7 73.3h12.67v1.55h-12.67zM175.7 88.3h12.67v2.80h-12.67zM175.7 93.3h12.67v1.55h-12.67zM175.7 98.3h12.67v1.55h-12.67zM175.7 100.8h12.67v1.55h-12.67zM175.7 110.8h12.67v1.55h-12.67zM175.7 172.1h12.67v1.55h-12.67zM175.7 178.4h12.67v1.55h-12.67zM175.7 183.4h12.67v1.55h-12.67zM175.7 185.9h12.67v1.55h-12.67zM175.7 234.7h12.67v1.55h-12.67zM175.7 245.9h12.67v1.55h-12.67zM175.7 250.9h12.67v1.55h-12.67zM175.7 255.9h12.67v2.80h-12.67zM175.7 262.2h12.67v1.55h-12.67zM175.7 268.5h12.67v2.80h-12.67zM175.7 282.2h12.67v2.80h-12.67zM175.7 304.7h12.67v1.55h-12.67zM175.7 332.3h12.67v1.55h-12.67zM175.7 368.5h12.67v1.55h-12.67zM188.0 47.0h12.67v1.55h-12.67zM188.0 60.8h12.67v2.80h-12.67zM188.0 72.1h12.67v1.55h-12.67zM188.0 80.8h12.67v1.55h-12.67zM188.0 85.8h12.67v1.55h-12.67zM188.0 98.3h12.67v1.55h-12.67zM188.0 133.4h12.67v1.55h-12.67zM188.0 178.4h12.67v1.55h-12.67zM188.0 192.1h12.67v1.55h-12.67zM188.0 210.9h12.67v1.55h-12.67zM188.0 215.9h12.67v1.55h-12.67zM188.0 228.4h12.67v1.55h-12.67zM188.0 253.4h12.67v2.80h-12.67zM188.0 259.7h12.67v2.80h-12.67zM188.0 267.2h12.67v1.55h-12.67zM188.0 273.5h12.67v1.55h-12.67zM188.0 281.0h12.67v1.55h-12.67zM188.0 291.0h12.67v1.55h-12.67zM188.0 302.2h12.67v1.55h-12.67zM188.0 309.7h12.67v1.55h-12.67zM188.0 321.0h12.67v1.55h-12.67zM188.0 328.5h12.67v1.55h-12.67zM188.0 333.5h12.67v1.55h-12.67zM188.0 339.8h12.67v1.55h-12.67zM188.0 349.8h12.67v1.55h-12.67zM188.0 372.3h12.67v1.55h-12.67zM188.0 374.8h12.67v2.80h-12.67zM200.3 19.5h12.67v1.55h-12.67zM200.3 43.3h12.67v1.55h-12.67zM200.3 63.3h12.67v1.55h-12.67zM200.3 85.8h12.67v1.55h-12.67zM200.3 88.3h12.67v1.55h-12.67zM200.3 90.8h12.67v1.55h-12.67zM200.3 97.1h12.67v1.55h-12.67zM200.3 108.3h12.67v1.55h-12.67zM200.3 128.3h12.67v4.05h-12.67zM200.3 133.4h12.67v1.55h-12.67zM200.3 147.1h12.67v2.80h-12.67zM200.3 210.9h12.67v1.55h-12.67zM200.3 229.7h12.67v1.55h-12.67zM200.3 232.2h12.67v1.55h-12.67zM200.3 278.5h12.67v2.80h-12.67zM200.3 283.5h12.67v1.55h-12.67zM200.3 286.0h12.67v1.55h-12.67zM200.3 291.0h12.67v1.55h-12.67zM200.3 298.5h12.67v1.55h-12.67zM200.3 323.5h12.67v1.55h-12.67zM200.3 338.5h12.67v1.55h-12.67zM200.3 347.3h12.67v1.55h-12.67zM200.3 356.0h12.67v1.55h-12.67zM200.3 363.5h12.67v2.80h-12.67zM200.3 374.8h12.67v1.55h-12.67zM212.5 9.5h12.67v1.55h-12.67zM212.5 12.0h12.67v2.80h-12.67zM212.5 19.5h12.67v1.55h-12.67zM212.5 33.3h12.67v1.55h-12.67zM212.5 35.8h12.67v1.55h-12.67zM212.5 43.3h12.67v1.55h-12.67zM212.5 45.8h12.67v2.80h-12.67zM212.5 52.0h12.67v1.55h-12.67zM212.5 57.0h12.67v1.55h-12.67zM212.5 67.0h12.67v2.80h-12.67zM212.5 88.3h12.67v1.55h-12.67zM212.5 92.1h12.67v1.55h-12.67zM212.5 103.3h12.67v1.55h-12.67zM212.5 105.8h12.67v1.55h-12.67zM212.5 110.8h12.67v2.80h-12.67zM212.5 115.8h12.67v1.55h-12.67zM212.5 118.3h12.67v1.55h-12.67zM212.5 125.8h12.67v1.55h-12.67zM212.5 154.6h12.67v1.55h-12.67zM212.5 185.9h12.67v1.55h-12.67zM212.5 212.2h12.67v1.55h-12.67zM212.5 249.7h12.67v1.55h-12.67zM212.5 294.7h12.67v2.80h-12.67zM224.8 10.8h12.67v1.55h-12.67zM224.8 15.8h12.67v1.55h-12.67zM224.8 19.5h12.67v1.55h-12.67zM224.8 28.3h12.67v1.55h-12.67zM224.8 43.3h12.67v1.55h-12.67zM224.8 72.1h12.67v1.55h-12.67zM224.8 84.6h12.67v1.55h-12.67zM224.8 89.6h12.67v1.55h-12.67zM224.8 102.1h12.67v1.55h-12.67zM224.8 109.6h12.67v1.55h-12.67zM224.8 113.3h12.67v1.55h-12.67zM224.8 132.1h12.67v1.55h-12.67zM224.8 140.9h12.67v1.55h-12.67zM224.8 148.4h12.67v1.55h-12.67zM224.8 198.4h12.67v1.55h-12.67zM224.8 213.4h12.67v1.55h-12.67zM224.8 217.2h12.67v1.55h-12.67zM224.8 224.7h12.67v1.55h-12.67zM224.8 228.4h12.67v1.55h-12.67zM224.8 238.4h12.67v1.55h-12.67zM224.8 261.0h12.67v1.55h-12.67zM224.8 281.0h12.67v1.55h-12.67zM224.8 291.0h12.67v1.55h-12.67zM224.8 317.2h12.67v2.80h-12.67zM224.8 322.3h12.67v1.55h-12.67zM224.8 327.3h12.67v1.55h-12.67zM224.8 348.5h12.67v1.55h-12.67zM224.8 353.5h12.67v1.55h-12.67zM224.8 357.3h12.67v1.55h-12.67zM237.1 30.8h12.67v2.80h-12.67zM237.1 35.8h12.67v1.55h-12.67zM237.1 38.3h12.67v1.55h-12.67zM237.1 45.8h12.67v1.55h-12.67zM237.1 49.5h12.67v1.55h-12.67zM237.1 54.5h12.67v1.55h-12.67zM237.1 69.6h12.67v2.80h-12.67zM237.1 75.8h12.67v2.80h-12.67zM237.1 90.8h12.67v1.55h-12.67zM237.1 93.3h12.67v1.55h-12.67zM237.1 110.8h12.67v1.55h-12.67zM237.1 129.6h12.67v2.80h-12.67zM237.1 143.4h12.67v1.55h-12.67zM237.1 147.1h12.67v1.55h-12.67zM237.1 154.6h12.67v1.55h-12.67zM237.1 175.9h12.67v1.55h-12.67zM237.1 182.1h12.67v1.55h-12.67zM237.1 208.4h12.67v1.55h-12.67zM237.1 213.4h12.67v1.55h-12.67zM237.1 215.9h12.67v1.55h-12.67zM237.1 235.9h12.67v1.55h-12.67zM237.1 263.5h12.67v1.55h-12.67zM237.1 273.5h12.67v1.55h-12.67zM237.1 288.5h12.67v1.55h-12.67zM237.1 302.2h12.67v2.80h-12.67zM237.1 306.0h12.67v1.55h-12.67zM237.1 341.0h12.67v1.55h-12.67zM237.1 346.0h12.67v1.55h-12.67zM237.1 348.5h12.67v1.55h-12.67zM237.1 353.5h12.67v1.55h-12.67zM237.1 364.8h12.67v1.55h-12.67zM237.1 379.8h12.67v1.55h-12.67zM249.3 9.5h12.67v1.55h-12.67zM249.3 13.3h12.67v1.55h-12.67zM249.3 15.8h12.67v1.55h-12.67zM249.3 25.8h12.67v1.55h-12.67zM249.3 28.3h12.67v1.55h-12.67zM249.3 38.3h12.67v1.55h-12.67zM249.3 43.3h12.67v1.55h-12.67zM249.3 47.0h12.67v1.55h-12.67zM249.3 69.6h12.67v2.80h-12.67zM249.3 75.8h12.67v1.55h-12.67zM249.3 84.6h12.67v1.55h-12.67zM249.3 87.1h12.67v1.55h-12.67zM249.3 104.6h12.67v1.55h-12.67zM249.3 115.8h12.67v1.55h-12.67zM249.3 120.8h12.67v1.55h-12.67zM249.3 129.6h12.67v1.55h-12.67zM249.3 189.6h12.67v2.80h-12.67zM249.3 193.4h12.67v1.55h-12.67zM249.3 234.7h12.67v1.55h-12.67zM249.3 245.9h12.67v1.55h-12.67zM249.3 258.5h12.67v1.55h-12.67zM249.3 292.2h12.67v1.55h-12.67zM249.3 329.8h12.67v1.55h-12.67zM249.3 347.3h12.67v1.55h-12.67zM249.3 358.5h12.67v1.55h-12.67zM249.3 362.3h12.67v1.55h-12.67zM249.3 367.3h12.67v1.55h-12.67zM249.3 369.8h12.67v1.55h-12.67zM261.6 13.3h12.67v1.55h-12.67zM261.6 65.8h12.67v1.55h-12.67zM261.6 68.3h12.67v2.80h-12.67zM261.6 74.6h12.67v1.55h-12.67zM261.6 87.1h12.67v1.55h-12.67zM261.6 107.1h12.67v1.55h-12.67zM261.6 114.6h12.67v2.80h-12.67zM261.6 118.3h12.67v1.55h-12.67zM261.6 132.1h12.67v1.55h-12.67zM261.6 158.4h12.67v1.55h-12.67zM261.6 177.1h12.67v1.55h-12.67zM261.6 182.1h12.67v1.55h-12.67zM261.6 197.2h12.67v1.55h-12.67zM261.6 210.9h12.67v2.80h-12.67zM261.6 225.9h12.67v2.80h-12.67zM261.6 235.9h12.67v1.55h-12.67zM261.6 271.0h12.67v1.55h-12.67zM261.6 296.0h12.67v2.80h-12.67zM261.6 327.3h12.67v1.55h-12.67zM261.6 331.0h12.67v1.55h-12.67zM261.6 334.8h12.67v1.55h-12.67zM261.6 337.3h12.67v1.55h-12.67zM273.9 9.5h12.67v2.80h-12.67zM273.9 32.0h12.67v1.55h-12.67zM273.9 63.3h12.67v1.55h-12.67zM273.9 70.8h12.67v1.55h-12.67zM273.9 83.3h12.67v2.80h-12.67zM273.9 87.1h12.67v1.55h-12.67zM273.9 107.1h12.67v1.55h-12.67zM273.9 124.6h12.67v1.55h-12.67zM273.9 128.3h12.67v1.55h-12.67zM273.9 139.6h12.67v2.80h-12.67zM273.9 149.6h12.67v2.80h-12.67zM273.9 160.9h12.67v1.55h-12.67zM273.9 177.1h12.67v1.55h-12.67zM273.9 180.9h12.67v2.80h-12.67zM273.9 185.9h12.67v1.55h-12.67zM273.9 192.1h12.67v1.55h-12.67zM273.9 199.7h12.67v1.55h-12.67zM273.9 239.7h12.67v1.55h-12.67zM273.9 282.2h12.67v2.80h-12.67zM273.9 287.2h12.67v1.55h-12.67zM273.9 292.2h12.67v1.55h-12.67zM273.9 297.2h12.67v1.55h-12.67zM273.9 301.0h12.67v1.55h-12.67zM273.9 312.2h12.67v1.55h-12.67zM273.9 326.0h12.67v1.55h-12.67zM273.9 328.5h12.67v1.55h-12.67zM273.9 333.5h12.67v1.55h-12.67zM273.9 358.5h12.67v1.55h-12.67zM273.9 376.0h12.67v1.55h-12.67zM273.9 379.8h12.67v1.55h-12.67zM286.2 10.8h12.67v1.55h-12.67zM286.2 19.5h12.67v1.55h-12.67zM286.2 24.5h12.67v1.55h-12.67zM286.2 27.0h12.67v1.55h-12.67zM286.2 42.0h12.67v2.80h-12.67zM286.2 47.0h12.67v1.55h-12.67zM286.2 52.0h12.67v1.55h-12.67zM286.2 62.0h12.67v1.55h-12.67zM286.2 65.8h12.67v1.55h-12.67zM286.2 69.6h12.67v1.55h-12.67zM286.2 72.1h12.67v1.55h-12.67zM286.2 84.6h12.67v1.55h-12.67zM286.2 100.8h12.67v1.55h-12.67zM286.2 103.3h12.67v1.55h-12.67zM286.2 118.3h12.67v1.55h-12.67zM286.2 129.6h12.67v1.55h-12.67zM286.2 132.1h12.67v1.55h-12.67zM286.2 140.9h12.67v1.55h-12.67zM286.2 143.4h12.67v2.80h-12.67zM286.2 152.1h12.67v1.55h-12.67zM286.2 160.9h12.67v1.55h-12.67zM286.2 184.6h12.67v1.55h-12.67zM286.2 215.9h12.67v1.55h-12.67zM286.2 235.9h12.67v1.55h-12.67zM286.2 308.5h12.67v1.55h-12.67zM286.2 322.3h12.67v1.55h-12.67zM286.2 326.0h12.67v1.55h-12.67z"/><path fill="#1491d2" d="M65.3 12.0h12.67v1.55h-12.67zM65.3 17.0h12.67v1.55h-12.67zM65.3 24.5h12.67v1.55h-12.67zM65.3 27.0h12.67v1.55h-12.67zM65.3 33.3h12.67v1.55h-12.67zM65.3 38.3h12.67v1.55h-12.67zM65.3 55.8h12.67v2.80h-12.67zM65.3 98.3h12.67v1.55h-12.67zM65.3 118.3h12.67v1.55h-12.67zM65.3 123.3h12.67v1.55h-12.67zM65.3 127.1h12.67v1.55h-12.67zM65.3 134.6h12.67v1.55h-12.67zM65.3 140.9h12.67v1.55h-12.67zM65.3 157.1h12.67v2.80h-12.67zM65.3 167.1h12.67v1.55h-12.67zM65.3 188.4h12.67v1.55h-12.67zM65.3 199.7h12.67v4.05h-12.67zM65.3 205.9h12.67v1.55h-12.67zM65.3 229.7h12.67v1.55h-12.67zM65.3 234.7h12.67v1.55h-12.67zM65.3 242.2h12.67v1.55h-12.67zM65.3 248.4h12.67v2.80h-12.67zM65.3 269.7h12.67v1.55h-12.67zM65.3 279.7h12.67v1.55h-12.67zM65.3 298.5h12.67v1.55h-12.67zM65.3 334.8h12.67v1.55h-12.67zM65.3 337.3h12.67v1.55h-12.67zM65.3 361.0h12.67v1.55h-12.67zM65.3 368.5h12.67v1.55h-12.67zM65.3 377.3h12.67v1.55h-12.67zM77.6 12.0h12.67v1.55h-12.67zM77.6 18.3h12.67v1.55h-12.67zM77.6 28.3h12.67v1.55h-12.67zM77.6 37.0h12.67v1.55h-12.67zM77.6 48.3h12.67v1.55h-12.67zM77.6 65.8h12.67v1.55h-12.67zM77.6 68.3h12.67v1.55h-12.67zM77.6 110.8h12.67v1.55h-12.67zM77.6 127.1h12.67v1.55h-12.67zM77.6 130.8h12.67v1.55h-12.67zM77.6 134.6h12.67v1.55h-12.67zM77.6 150.9h12.67v1.55h-12.67zM77.6 177.1h12.67v1.55h-12.67zM77.6 183.4h12.67v1.55h-12.67zM77.6 188.4h12.67v1.55h-12.67zM77.6 200.9h12.67v2.80h-12.67zM77.6 205.9h12.67v1.55h-12.67zM77.6 228.4h12.67v1.55h-12.67zM77.6 242.2h12.67v2.80h-12.67zM77.6 255.9h12.67v1.55h-12.67zM77.6 287.2h12.67v1.55h-12.67zM77.6 306.0h12.67v1.55h-12.67zM77.6 309.7h12.67v1.55h-12.67zM77.6 331.0h12.67v1.55h-12.67zM77.6 337.3h12.67v1.55h-12.67zM77.6 356.0h12.67v1.55h-12.67zM77.6 359.8h12.67v1.55h-12.67zM77.6 371.0h12.67v1.55h-12.67zM89.8 10.8h12.67v1.55h-12.67zM89.8 18.3h12.67v1.55h-12.67zM89.8 29.5h12.67v2.80h-12.67zM89.8 42.0h12.67v1.55h-12.67zM89.8 53.3h12.67v1.55h-12.67zM89.8 60.8h12.67v4.05h-12.67zM89.8 75.8h12.67v1.55h-12.67zM89.8 87.1h12.67v1.55h-12.67zM89.8 112.1h12.67v1.55h-12.67zM89.8 115.8h12.67v1.55h-12.67zM89.8 120.8h12.67v1.55h-12.67zM89.8 138.4h12.67v1.55h-12.67zM89.8 143.4h12.67v2.80h-12.67zM89.8 157.1h12.67v4.05h-12.67zM89.8 165.9h12.67v1.55h-12.67zM89.8 188.4h12.67v1.55h-12.67zM89.8 197.2h12.67v2.80h-12.67zM89.8 203.4h12.67v1.55h-12.67zM89.8 239.7h12.67v1.55h-12.67zM89.8 244.7h12.67v1.55h-12.67zM89.8 261.0h12.67v1.55h-12.67zM89.8 264.7h12.67v1.55h-12.67zM89.8 274.7h12.67v1.55h-12.67zM89.8 279.7h12.67v1.55h-12.67zM89.8 293.5h12.67v2.80h-12.67zM89.8 297.2h12.67v1.55h-12.67zM89.8 303.5h12.67v1.55h-12.67zM89.8 314.7h12.67v1.55h-12.67zM89.8 331.0h12.67v2.80h-12.67zM89.8 336.0h12.67v1.55h-12.67zM89.8 341.0h12.67v2.80h-12.67zM89.8 362.3h12.67v1.55h-12.67zM89.8 372.3h12.67v1.55h-12.67zM102.1 25.8h12.67v1.55h-12.67zM102.1 58.3h12.67v1.55h-12.67zM102.1 77.1h12.67v1.55h-12.67zM102.1 79.6h12.67v1.55h-12.67zM102.1 84.6h12.67v1.55h-12.67zM102.1 95.8h12.67v1.55h-12.67zM102.1 137.1h12.67v1.55h-12.67zM102.1 154.6h12.67v1.55h-12.67zM102.1 172.1h12.67v1.55h-12.67zM102.1 182.1h12.67v4.05h-12.67zM102.1 194.7h12.67v2.80h-12.67zM102.1 238.4h12.67v1.55h-12.67zM102.1 254.7h12.67v1.55h-12.67zM102.1 258.5h12.67v1.55h-12.67zM102.1 268.5h12.67v1.55h-12.67zM102.1 296.0h12.67v1.55h-12.67zM102.1 341.0h12.67v1.55h-12.67zM102.1 349.8h12.67v1.55h-12.67zM102.1 352.3h12.67v1.55h-12.67zM102.1 357.3h12.67v1.55h-12.67zM102.1 381.0h12.67v1.55h-12.67zM114.4 7.0h12.67v1.55h-12.67zM114.4 9.5h12.67v1.55h-12.67zM114.4 12.0h12.67v1.55h-12.67zM114.4 23.3h12.67v1.55h-12.67zM114.4 25.8h12.67v1.55h-12.67zM114.4 28.3h12.67v1.55h-12.67zM114.4 35.8h12.67v1.55h-12.67zM114.4 42.0h12.67v1.55h-12.67zM114.4 52.0h12.67v1.55h-12.67zM114.4 63.3h12.67v1.55h-12.67zM114.4 68.3h12.67v1.55h-12.67zM114.4 124.6h12.67v1.55h-12.67zM114.4 133.4h12.67v1.55h-12.67zM114.4 152.1h12.67v1.55h-12.67zM114.4 154.6h12.67v1.55h-12.67zM114.4 157.1h12.67v1.55h-12.67zM114.4 159.6h12.67v1.55h-12.67zM114.4 172.1h12.67v1.55h-12.67zM114.4 178.4h12.67v1.55h-12.67zM114.4 180.9h12.67v1.55h-12.67zM114.4 187.1h12.67v1.55h-12.67zM114.4 192.1h12.67v1.55h-12.67zM114.4 213.4h12.67v1.55h-12.67zM114.4 217.2h12.67v1.55h-12.67zM114.4 224.7h12.67v1.55h-12.67zM114.4 243.4h12.67v4.05h-12.67zM114.4 262.2h12.67v1.55h-12.67zM114.4 266.0h12.67v1.55h-12.67zM114.4 288.5h12.67v1.55h-12.67zM114.4 309.7h12.67v1.55h-12.67zM114.4 312.2h12.67v1.55h-12.67zM114.4 339.8h12.67v1.55h-12.67zM114.4 349.8h12.67v1.55h-12.67zM114.4 363.5h12.67v1.55h-12.67zM114.4 367.3h12.67v1.55h-12.67zM114.4 381.0h12.67v1.55h-12.67zM126.6 12.0h12.67v1.55h-12.67zM126.6 17.0h12.67v1.55h-12.67zM126.6 39.5h12.67v2.80h-12.67zM126.6 49.5h12.67v1.55h-12.67zM126.6 62.0h12.67v1.55h-12.67zM126.6 70.8h12.67v1.55h-12.67zM126.6 74.6h12.67v1.55h-12.67zM126.6 79.6h12.67v1.55h-12.67zM126.6 112.1h12.67v1.55h-12.67zM126.6 123.3h12.67v1.55h-12.67zM126.6 142.1h12.67v1.55h-12.67zM126.6 145.9h12.67v1.55h-12.67zM126.6 152.1h12.67v1.55h-12.67zM126.6 158.4h12.67v1.55h-12.67zM126.6 169.6h12.67v1.55h-12.67zM126.6 197.2h12.67v1.55h-12.67zM126.6 200.9h12.67v1.55h-12.67zM126.6 238.4h12.67v1.55h-12.67zM126.6 242.2h12.67v2.80h-12.67zM126.6 255.9h12.67v1.55h-12.67zM126.6 263.5h12.67v2.80h-12.67zM126.6 268.5h12.67v1.55h-12.67zM126.6 286.0h12.67v1.55h-12.67zM126.6 289.7h12.67v1.55h-12.67zM126.6 308.5h12.67v1.55h-12.67zM126.6 312.2h12.67v1.55h-12.67zM126.6 321.0h12.67v1.55h-12.67zM126.6 333.5h12.67v1.55h-12.67zM126.6 351.0h12.67v1.55h-12.67zM126.6 363.5h12.67v1.55h-12.67zM126.6 373.5h12.67v1.55h-12.67zM126.6 379.8h12.67v1.55h-12.67zM138.9 8.3h12.67v1.55h-12.67zM138.9 13.3h12.67v1.55h-12.67zM138.9 15.8h12.67v1.55h-12.67zM138.9 49.5h12.67v1.55h-12.67zM138.9 78.3h12.67v1.55h-12.67zM138.9 85.8h12.67v1.55h-12.67zM138.9 99.6h12.67v1.55h-12.67zM138.9 102.1h12.67v1.55h-12.67zM138.9 117.1h12.67v1.55h-12.67zM138.9 133.4h12.67v2.80h-12.67zM138.9 147.1h12.67v1.55h-12.67zM138.9 153.4h12.67v1.55h-12.67zM138.9 162.1h12.67v2.80h-12.67zM138.9 183.4h12.67v1.55h-12.67zM138.9 185.9h12.67v1.55h-12.67zM138.9 193.4h12.67v1.55h-12.67zM138.9 203.4h12.67v1.55h-12.67zM138.9 215.9h12.67v1.55h-12.67zM138.9 223.4h12.67v1.55h-12.67zM138.9 232.2h12.67v1.55h-12.67zM138.9 239.7h12.67v1.55h-12.67zM138.9 247.2h12.67v1.55h-12.67zM138.9 252.2h12.67v1.55h-12.67zM138.9 259.7h12.67v1.55h-12.67zM138.9 269.7h12.67v1.55h-12.67zM138.9 287.2h12.67v1.55h-12.67zM138.9 297.2h12.67v1.55h-12.67zM138.9 299.7h12.67v1.55h-12.67zM138.9 311.0h12.67v1.55h-12.67zM138.9 316.0h12.67v1.55h-12.67zM138.9 336.0h12.67v1.55h-12.67zM138.9 338.5h12.67v2.80h-12.67zM138.9 352.3h12.67v1.55h-12.67zM138.9 356.0h12.67v1.55h-12.67zM151.2 10.8h12.67v1.55h-12.67zM151.2 14.5h12.67v1.55h-12.67zM151.2 17.0h12.67v1.55h-12.67zM151.2 33.3h12.67v1.55h-12.67zM151.2 40.8h12.67v1.55h-12.67zM151.2 44.5h12.67v1.55h-12.67zM151.2 54.5h12.67v2.80h-12.67zM151.2 79.6h12.67v2.80h-12.67zM151.2 88.3h12.67v1.55h-12.67zM151.2 90.8h12.67v1.55h-12.67zM151.2 127.1h12.67v1.55h-12.67zM151.2 129.6h12.67v1.55h-12.67zM151.2 138.4h12.67v1.55h-12.67zM151.2 144.6h12.67v1.55h-12.67zM151.2 149.6h12.67v1.55h-12.67zM151.2 238.4h12.67v1.55h-12.67zM151.2 242.2h12.67v1.55h-12.67zM151.2 247.2h12.67v2.80h-12.67zM151.2 254.7h12.67v2.80h-12.67zM151.2 264.7h12.67v1.55h-12.67zM151.2 271.0h12.67v1.55h-12.67zM151.2 289.7h12.67v1.55h-12.67zM151.2 306.0h12.67v1.55h-12.67zM151.2 317.2h12.67v2.80h-12.67zM151.2 321.0h12.67v1.55h-12.67zM151.2 331.0h12.67v1.55h-12.67zM151.2 336.0h12.67v1.55h-12.67zM151.2 351.0h12.67v1.55h-12.67zM151.2 378.5h12.67v1.55h-12.67zM163.5 7.0h12.67v1.55h-12.67zM163.5 27.0h12.67v1.55h-12.67zM163.5 29.5h12.67v1.55h-12.67zM163.5 39.5h12.67v2.80h-12.67zM163.5 48.3h12.67v1.55h-12.67zM163.5 54.5h12.67v1.55h-12.67zM163.5 63.3h12.67v1.55h-12.67zM163.5 70.8h12.67v1.55h-12.67zM163.5 79.6h12.67v1.55h-12.67zM163.5 90.8h12.67v1.55h-12.67zM163.5 94.6h12.67v1.55h-12.67zM163.5 108.3h12.67v1.55h-12.67zM163.5 118.3h12.67v2.80h-12.67zM163.5 124.6h12.67v4.05h-12.67zM163.5 184.6h12.67v1.55h-12.67zM163.5 188.4h12.67v1.55h-12.67zM163.5 220.9h12.67v1.55h-12.67zM163.5 225.9h12.67v1.55h-12.67zM163.5 248.4h12.67v1.55h-12.67zM163.5 252.2h12.67v1.55h-12.67zM163.5 262.2h12.67v1.55h-12.67zM163.5 288.5h12.67v1.55h-12.67zM163.5 302.2h12.67v1.55h-12.67zM163.5 313.5h12.67v1.55h-12.67zM163.5 323.5h12.67v1.55h-12.67zM163.5 332.3h12.67v5.30h-12.67zM163.5 341.0h12.67v1.55h-12.67zM163.5 343.5h12.67v1.55h-12.67zM163.5 362.3h12.67v1.55h-12.67zM175.7 7.0h12.67v1.55h-12.67zM175.7 13.3h12.67v1.55h-12.67zM175.7 18.3h12.67v1.55h-12.67zM175.7 20.8h12.67v2.80h-12.67zM175.7 28.3h12.67v4.05h-12.67zM175.7 34.5h12.67v1.55h-12.67zM175.7 48.3h12.67v1.55h-12.67zM175.7 58.3h12.67v1.55h-12.67zM175.7 62.0h12.67v1.55h-12.67zM175.7 75.8h12.67v1.55h-12.67zM175.7 84.6h12.67v1.55h-12.67zM175.7 95.8h12.67v1.55h-12.67zM175.7 120.8h12.67v1.55h-12.67zM175.7 157.1h12.67v1.55h-12.67zM175.7 173.4h12.67v1.55h-12.67zM175.7 189.6h12.67v1.55h-12.67zM175.7 203.4h12.67v2.80h-12.67zM175.7 214.7h12.67v1.55h-12.67zM175.7 222.2h12.67v1.55h-12.67zM175.7 238.4h12.67v1.55h-12.67zM175.7 247.2h12.67v2.80h-12.67zM175.7 259.7h12.67v1.55h-12.67zM175.7 266.0h12.67v1.55h-12.67zM175.7 287.2h12.67v1.55h-12.67zM175.7 299.7h12.67v1.55h-12.67zM175.7 316.0h12.67v1.55h-12.67zM175.7 319.8h12.67v1.55h-12.67zM175.7 327.3h12.67v1.55h-12.67zM175.7 331.0h12.67v1.55h-12.67zM175.7 333.5h12.67v1.55h-12.67zM175.7 337.3h12.67v1.55h-12.67zM175.7 349.8h12.67v1.55h-12.67zM175.7 352.3h12.67v1.55h-12.67zM175.7 359.8h12.67v1.55h-12.67zM175.7 362.3h12.67v1.55h-12.67zM175.7 372.3h12.67v1.55h-12.67zM175.7 376.0h12.67v1.55h-12.67zM175.7 378.5h12.67v1.55h-12.67zM188.0 38.3h12.67v1.55h-12.67zM188.0 45.8h12.67v1.55h-12.67zM188.0 70.8h12.67v1.55h-12.67zM188.0 77.1h12.67v2.80h-12.67zM188.0 84.6h12.67v1.55h-12.67zM188.0 92.1h12.67v1.55h-12.67zM188.0 102.1h12.67v1.55h-12.67zM188.0 157.1h12.67v1.55h-12.67zM188.0 165.9h12.67v1.55h-12.67zM188.0 190.9h12.67v1.55h-12.67zM188.0 218.4h12.67v1.55h-12.67zM188.0 223.4h12.67v1.55h-12.67zM188.0 232.2h12.67v1.55h-12.67zM188.0 239.7h12.67v1.55h-12.67zM188.0 252.2h12.67v1.55h-12.67zM188.0 255.9h12.67v1.55h-12.67zM188.0 282.2h12.67v1.55h-12.67zM188.0 284.7h12.67v1.55h-12.67zM188.0 287.2h12.67v1.55h-12.67zM188.0 289.7h12.67v1.55h-12.67zM188.0 317.2h12.67v2.80h-12.67zM188.0 323.5h12.67v1.55h-12.67zM188.0 329.8h12.67v1.55h-12.67zM188.0 337.3h12.67v1.55h-12.67zM188.0 351.0h12.67v2.80h-12.67zM188.0 357.3h12.67v1.55h-12.67zM188.0 361.0h12.67v1.55h-12.67zM188.0 371.0h12.67v1.55h-12.67zM188.0 379.8h12.67v1.55h-12.67zM200.3 10.8h12.67v2.80h-12.67zM200.3 28.3h12.67v1.55h-12.67zM200.3 30.8h12.67v1.55h-12.67zM200.3 37.0h12.67v2.80h-12.67zM200.3 45.8h12.67v1.55h-12.67zM200.3 57.0h12.67v1.55h-12.67zM200.3 74.6h12.67v1.55h-12.67zM200.3 77.1h12.67v1.55h-12.67zM200.3 79.6h12.67v4.05h-12.67zM200.3 87.1h12.67v1.55h-12.67zM200.3 99.6h12.67v1.55h-12.67zM200.3 107.1h12.67v1.55h-12.67zM200.3 114.6h12.67v1.55h-12.67zM200.3 117.1h12.67v1.55h-12.67zM200.3 120.8h12.67v1.55h-12.67zM200.3 125.8h12.67v1.55h-12.67zM200.3 139.6h12.67v1.55h-12.67zM200.3 152.1h12.67v1.55h-12.67zM200.3 155.9h12.67v1.55h-12.67zM200.3 170.9h12.67v1.55h-12.67zM200.3 180.9h12.67v2.80h-12.67zM200.3 204.7h12.67v1.55h-12.67zM200.3 209.7h12.67v1.55h-12.67zM200.3 240.9h12.67v2.80h-12.67zM200.3 248.4h12.67v1.55h-12.67zM200.3 253.4h12.67v1.55h-12.67zM200.3 258.5h12.67v1.55h-12.67zM200.3 268.5h12.67v1.55h-12.67zM200.3 277.2h12.67v1.55h-12.67zM200.3 281.0h12.67v1.55h-12.67zM200.3 294.7h12.67v1.55h-12.67zM200.3 324.8h12.67v2.80h-12.67zM200.3 332.3h12.67v1.55h-12.67zM200.3 341.0h12.67v1.55h-12.67zM200.3 352.3h12.67v2.80h-12.67zM200.3 366.0h12.67v1.55h-12.67zM200.3 373.5h12.67v1.55h-12.67zM200.3 381.0h12.67v1.55h-12.67zM212.5 8.3h12.67v1.55h-12.67zM212.5 18.3h12.67v1.55h-12.67zM212.5 20.8h12.67v2.80h-12.67zM212.5 28.3h12.67v1.55h-12.67zM212.5 32.0h12.67v1.55h-12.67zM212.5 37.0h12.67v2.80h-12.67zM212.5 50.8h12.67v1.55h-12.67zM212.5 59.5h12.67v1.55h-12.67zM212.5 63.3h12.67v2.80h-12.67zM212.5 70.8h12.67v1.55h-12.67zM212.5 95.8h12.67v1.55h-12.67zM212.5 98.3h12.67v1.55h-12.67zM212.5 100.8h12.67v1.55h-12.67zM212.5 109.6h12.67v1.55h-12.67zM212.5 114.6h12.67v1.55h-12.67zM212.5 120.8h12.67v2.80h-12.67zM212.5 133.4h12.67v1.55h-12.67zM212.5 147.1h12.67v1.55h-12.67zM212.5 149.6h12.67v1.55h-12.67zM212.5 168.4h12.67v1.55h-12.67zM212.5 178.4h12.67v1.55h-12.67zM212.5 223.4h12.67v2.80h-12.67zM212.5 247.2h12.67v1.55h-12.67zM212.5 264.7h12.67v1.55h-12.67zM212.5 267.2h12.67v1.55h-12.67zM212.5 269.7h12.67v1.55h-12.67zM212.5 272.2h12.67v2.80h-12.67zM212.5 279.7h12.67v1.55h-12.67zM212.5 288.5h12.67v1.55h-12.67zM212.5 291.0h12.67v1.55h-12.67zM224.8 18.3h12.67v1.55h-12.67zM224.8 32.0h12.67v1.55h-12.67zM224.8 38.3h12.67v2.80h-12.67zM224.8 54.5h12.67v1.55h-12.67zM224.8 60.8h12.67v2.80h-12.67zM224.8 78.3h12.67v1.55h-12.67zM224.8 80.8h12.67v4.05h-12.67zM224.8 112.1h12.67v1.55h-12.67zM224.8 114.6h12.67v1.55h-12.67zM224.8 117.1h12.67v1.55h-12.67zM224.8 153.4h12.67v2.80h-12.67zM224.8 157.1h12.67v1.55h-12.67zM224.8 160.9h12.67v1.55h-12.67zM224.8 164.6h12.67v1.55h-12.67zM224.8 168.4h12.67v2.80h-12.67zM224.8 189.6h12.67v1.55h-12.67zM224.8 192.1h12.67v1.55h-12.67zM224.8 195.9h12.67v1.55h-12.67zM224.8 199.7h12.67v1.55h-12.67zM224.8 203.4h12.67v1.55h-12.67zM224.8 237.2h12.67v1.55h-12.67zM224.8 240.9h12.67v1.55h-12.67zM224.8 243.4h12.67v2.80h-12.67zM224.8 262.2h12.67v1.55h-12.67zM224.8 277.2h12.67v1.55h-12.67zM224.8 307.2h12.67v1.55h-12.67zM224.8 313.5h12.67v4.05h-12.67zM224.8 332.3h12.67v2.80h-12.67zM224.8 344.8h12.67v1.55h-12.67zM224.8 371.0h12.67v1.55h-12.67zM224.8 377.3h12.67v1.55h-12.67zM237.1 8.3h12.67v1.55h-12.67zM237.1 22.0h12.67v1.55h-12.67zM237.1 27.0h12.67v1.55h-12.67zM237.1 37.0h12.67v1.55h-12.67zM237.1 43.3h12.67v1.55h-12.67zM237.1 57.0h12.67v1.55h-12.67zM237.1 60.8h12.67v1.55h-12.67zM237.1 64.5h12.67v1.55h-12.67zM237.1 73.3h12.67v1.55h-12.67zM237.1 83.3h12.67v1.55h-12.67zM237.1 85.8h12.67v1.55h-12.67zM237.1 94.6h12.67v1.55h-12.67zM237.1 98.3h12.67v1.55h-12.67zM237.1 100.8h12.67v2.80h-12.67zM237.1 107.1h12.67v1.55h-12.67zM237.1 112.1h12.67v1.55h-12.67zM237.1 118.3h12.67v1.55h-12.67zM237.1 120.8h12.67v1.55h-12.67zM237.1 133.4h12.67v1.55h-12.67zM237.1 137.1h12.67v1.55h-12.67zM237.1 142.1h12.67v1.55h-12.67zM237.1 155.9h12.67v1.55h-12.67zM237.1 160.9h12.67v2.80h-12.67zM237.1 167.1h12.67v1.55h-12.67zM237.1 179.6h12.67v1.55h-12.67zM237.1 188.4h12.67v1.55h-12.67zM237.1 195.9h12.67v1.55h-12.67zM237.1 212.2h12.67v1.55h-12.67zM237.1 214.7h12.67v1.55h-12.67zM237.1 224.7h12.67v1.55h-12.67zM237.1 282.2h12.67v1.55h-12.67zM237.1 284.7h12.67v1.55h-12.67zM237.1 294.7h12.67v1.55h-12.67zM237.1 313.5h12.67v1.55h-12.67zM237.1 324.8h12.67v1.55h-12.67zM237.1 327.3h12.67v4.05h-12.67zM237.1 347.3h12.67v1.55h-12.67zM237.1 352.3h12.67v1.55h-12.67zM237.1 356.0h12.67v1.55h-12.67zM237.1 362.3h12.67v2.80h-12.67zM237.1 372.3h12.67v1.55h-12.67zM249.3 24.5h12.67v1.55h-12.67zM249.3 37.0h12.67v1.55h-12.67zM249.3 40.8h12.67v1.55h-12.67zM249.3 44.5h12.67v1.55h-12.67zM249.3 48.3h12.67v1.55h-12.67zM249.3 53.3h12.67v1.55h-12.67zM249.3 57.0h12.67v1.55h-12.67zM249.3 65.8h12.67v1.55h-12.67zM249.3 73.3h12.67v1.55h-12.67zM249.3 92.1h12.67v2.80h-12.67zM249.3 95.8h12.67v1.55h-12.67zM249.3 108.3h12.67v1.55h-12.67zM249.3 113.3h12.67v1.55h-12.67zM249.3 124.6h12.67v1.55h-12.67zM249.3 142.1h12.67v1.55h-12.67zM249.3 159.6h12.67v1.55h-12.67zM249.3 164.6h12.67v1.55h-12.67zM249.3 178.4h12.67v1.55h-12.67zM249.3 192.1h12.67v1.55h-12.67zM249.3 194.7h12.67v2.80h-12.67zM249.3 242.2h12.67v2.80h-12.67zM249.3 250.9h12.67v1.55h-12.67zM249.3 255.9h12.67v1.55h-12.67zM249.3 269.7h12.67v1.55h-12.67zM249.3 274.7h12.67v4.05h-12.67zM249.3 281.0h12.67v4.05h-12.67zM249.3 298.5h12.67v1.55h-12.67zM249.3 303.5h12.67v1.55h-12.67zM249.3 309.7h12.67v2.80h-12.67zM261.6 8.3h12.67v1.55h-12.67zM261.6 14.5h12.67v1.55h-12.67zM261.6 19.5h12.67v1.55h-12.67zM261.6 22.0h12.67v1.55h-12.67zM261.6 27.0h12.67v1.55h-12.67zM261.6 33.3h12.67v2.80h-12.67zM261.6 38.3h12.67v1.55h-12.67zM261.6 40.8h12.67v1.55h-12.67zM261.6 58.3h12.67v2.80h-12.67zM261.6 77.1h12.67v1.55h-12.67zM261.6 93.3h12.67v1.55h-12.67zM261.6 95.8h12.67v1.55h-12.67zM261.6 99.6h12.67v1.55h-12.67zM261.6 109.6h12.67v4.05h-12.67zM261.6 123.3h12.67v1.55h-12.67zM261.6 147.1h12.67v2.80h-12.67zM261.6 154.6h12.67v1.55h-12.67zM261.6 164.6h12.67v1.55h-12.67zM261.6 167.1h12.67v1.55h-12.67zM261.6 192.1h12.67v2.80h-12.67zM261.6 205.9h12.67v1.55h-12.67zM261.6 208.4h12.67v1.55h-12.67zM261.6 214.7h12.67v1.55h-12.67zM261.6 220.9h12.67v1.55h-12.67zM261.6 223.4h12.67v1.55h-12.67zM261.6 239.7h12.67v1.55h-12.67zM261.6 299.7h12.67v1.55h-12.67zM261.6 307.2h12.67v1.55h-12.67zM261.6 319.8h12.67v1.55h-12.67zM261.6 322.3h12.67v2.80h-12.67zM261.6 346.0h12.67v1.55h-12.67zM261.6 348.5h12.67v1.55h-12.67zM261.6 367.3h12.67v1.55h-12.67zM273.9 19.5h12.67v2.80h-12.67zM273.9 34.5h12.67v1.55h-12.67zM273.9 37.0h12.67v2.80h-12.67zM273.9 58.3h12.67v1.55h-12.67zM273.9 60.8h12.67v2.80h-12.67zM273.9 67.0h12.67v1.55h-12.67zM273.9 75.8h12.67v1.55h-12.67zM273.9 82.1h12.67v1.55h-12.67zM273.9 88.3h12.67v1.55h-12.67zM273.9 98.3h12.67v2.80h-12.67zM273.9 119.6h12.67v2.80h-12.67zM273.9 123.3h12.67v1.55h-12.67zM273.9 135.9h12.67v1.55h-12.67zM273.9 144.6h12.67v1.55h-12.67zM273.9 147.1h12.67v1.55h-12.67zM273.9 153.4h12.67v1.55h-12.67zM273.9 170.9h12.67v1.55h-12.67zM273.9 189.6h12.67v1.55h-12.67zM273.9 228.4h12.67v4.05h-12.67zM273.9 237.2h12.67v1.55h-12.67zM273.9 248.4h12.67v1.55h-12.67zM273.9 266.0h12.67v2.80h-12.67zM273.9 276.0h12.67v1.55h-12.67zM273.9 279.7h12.67v1.55h-12.67zM273.9 293.5h12.67v1.55h-12.67zM273.9 304.7h12.67v1.55h-12.67zM273.9 309.7h12.67v1.55h-12.67zM273.9 316.0h12.67v2.80h-12.67zM273.9 321.0h12.67v1.55h-12.67zM273.9 351.0h12.67v2.80h-12.67zM273.9 356.0h12.67v1.55h-12.67zM273.9 362.3h12.67v1.55h-12.67zM273.9 378.5h12.67v1.55h-12.67zM273.9 381.0h12.67v1.55h-12.67zM286.2 17.0h12.67v2.80h-12.67zM286.2 20.8h12.67v1.55h-12.67zM286.2 25.8h12.67v1.55h-12.67zM286.2 30.8h12.67v1.55h-12.67zM286.2 40.8h12.67v1.55h-12.67zM286.2 50.8h12.67v1.55h-12.67zM286.2 75.8h12.67v1.55h-12.67zM286.2 99.6h12.67v1.55h-12.67zM286.2 108.3h12.67v1.55h-12.67zM286.2 117.1h12.67v1.55h-12.67zM286.2 147.1h12.67v2.80h-12.67zM286.2 153.4h12.67v1.55h-12.67zM286.2 163.4h12.67v4.05h-12.67zM286.2 168.4h12.67v1.55h-12.67zM286.2 172.1h12.67v1.55h-12.67zM286.2 188.4h12.67v1.55h-12.67zM286.2 192.1h12.67v2.80h-12.67zM286.2 198.4h12.67v2.80h-12.67zM286.2 204.7h12.67v1.55h-12.67zM286.2 208.4h12.67v1.55h-12.67zM286.2 214.7h12.67v1.55h-12.67zM286.2 220.9h12.67v1.55h-12.67zM286.2 225.9h12.67v1.55h-12.67zM286.2 244.7h12.67v1.55h-12.67zM286.2 262.2h12.67v1.55h-12.67zM286.2 312.2h12.67v1.55h-12.67zM286.2 324.8h12.67v1.55h-12.67zM286.2 332.3h12.67v1.55h-12.67z"/><path fill="#1485ce" d="M65.3 15.8h12.67v1.55h-12.67zM65.3 19.5h12.67v4.05h-12.67zM65.3 44.5h12.67v1.55h-12.67zM65.3 62.0h12.67v1.55h-12.67zM65.3 108.3h12.67v2.80h-12.67zM65.3 144.6h12.67v1.55h-12.67zM65.3 150.9h12.67v2.80h-12.67zM65.3 155.9h12.67v1.55h-12.67zM65.3 163.4h12.67v1.55h-12.67zM65.3 182.1h12.67v1.55h-12.67zM65.3 184.6h12.67v4.05h-12.67zM65.3 190.9h12.67v4.05h-12.67zM65.3 208.4h12.67v1.55h-12.67zM65.3 215.9h12.67v2.80h-12.67zM65.3 220.9h12.67v1.55h-12.67zM65.3 223.4h12.67v1.55h-12.67zM65.3 273.5h12.67v1.55h-12.67zM65.3 287.2h12.67v1.55h-12.67zM65.3 297.2h12.67v1.55h-12.67zM65.3 308.5h12.67v1.55h-12.67zM65.3 318.5h12.67v2.80h-12.67zM65.3 326.0h12.67v1.55h-12.67zM65.3 356.0h12.67v2.80h-12.67zM65.3 364.8h12.67v1.55h-12.67zM65.3 373.5h12.67v1.55h-12.67zM77.6 13.3h12.67v2.80h-12.67zM77.6 22.0h12.67v2.80h-12.67zM77.6 32.0h12.67v1.55h-12.67zM77.6 35.8h12.67v1.55h-12.67zM77.6 38.3h12.67v1.55h-12.67zM77.6 52.0h12.67v1.55h-12.67zM77.6 64.5h12.67v1.55h-12.67zM77.6 74.6h12.67v1.55h-12.67zM77.6 92.1h12.67v1.55h-12.67zM77.6 102.1h12.67v1.55h-12.67zM77.6 114.6h12.67v1.55h-12.67zM77.6 118.3h12.67v1.55h-12.67zM77.6 138.4h12.67v2.80h-12.67zM77.6 185.9h12.67v1.55h-12.67zM77.6 199.7h12.67v1.55h-12.67zM77.6 208.4h12.67v2.80h-12.67zM77.6 219.7h12.67v1.55h-12.67zM77.6 224.7h12.67v1.55h-12.67zM77.6 227.2h12.67v1.55h-12.67zM77.6 230.9h12.67v1.55h-12.67zM77.6 240.9h12.67v1.55h-12.67zM77.6 262.2h12.67v1.55h-12.67zM77.6 272.2h12.67v1.55h-12.67zM77.6 283.5h12.67v1.55h-12.67zM77.6 289.7h12.67v1.55h-12.67zM77.6 351.0h12.67v1.55h-12.67zM77.6 367.3h12.67v1.55h-12.67zM89.8 24.5h12.67v1.55h-12.67zM89.8 80.8h12.67v1.55h-12.67zM89.8 89.6h12.67v1.55h-12.67zM89.8 113.3h12.67v1.55h-12.67zM89.8 149.6h12.67v2.80h-12.67zM89.8 155.9h12.67v1.55h-12.67zM89.8 162.1h12.67v1.55h-12.67zM89.8 173.4h12.67v1.55h-12.67zM89.8 190.9h12.67v1.55h-12.67zM89.8 193.4h12.67v1.55h-12.67zM89.8 232.2h12.67v1.55h-12.67zM89.8 247.2h12.67v1.55h-12.67zM89.8 249.7h12.67v1.55h-12.67zM89.8 258.5h12.67v1.55h-12.67zM89.8 262.2h12.67v1.55h-12.67zM89.8 272.2h12.67v1.55h-12.67zM89.8 282.2h12.67v1.55h-12.67zM89.8 289.7h12.67v1.55h-12.67zM89.8 309.7h12.67v1.55h-12.67zM89.8 337.3h12.67v1.55h-12.67zM102.1 7.0h12.67v1.55h-12.67zM102.1 22.0h12.67v1.55h-12.67zM102.1 29.5h12.67v1.55h-12.67zM102.1 32.0h12.67v1.55h-12.67zM102.1 57.0h12.67v1.55h-12.67zM102.1 83.3h12.67v1.55h-12.67zM102.1 93.3h12.67v1.55h-12.67zM102.1 98.3h12.67v1.55h-12.67zM102.1 117.1h12.67v2.80h-12.67zM102.1 124.6h12.67v2.80h-12.67zM102.1 143.4h12.67v1.55h-12.67zM102.1 152.1h12.67v1.55h-12.67zM102.1 157.1h12.67v1.55h-12.67zM102.1 162.1h12.67v1.55h-12.67zM102.1 173.4h12.67v1.55h-12.67zM102.1 204.7h12.67v1.55h-12.67zM102.1 207.2h12.67v1.55h-12.67zM102.1 219.7h12.67v1.55h-12.67zM102.1 237.2h12.67v1.55h-12.67zM102.1 239.7h12.67v1.55h-12.67zM102.1 252.2h12.67v1.55h-12.67zM102.1 263.5h12.67v1.55h-12.67zM102.1 273.5h12.67v2.80h-12.67zM102.1 287.2h12.67v1.55h-12.67zM102.1 334.8h12.67v1.55h-12.67zM102.1 338.5h12.67v2.80h-12.67zM102.1 359.8h12.67v1.55h-12.67zM114.4 17.0h12.67v1.55h-12.67zM114.4 60.8h12.67v1.55h-12.67zM114.4 65.8h12.67v1.55h-12.67zM114.4 75.8h12.67v1.55h-12.67zM114.4 83.3h12.67v1.55h-12.67zM114.4 87.1h12.67v1.55h-12.67zM114.4 122.1h12.67v1.55h-12.67zM114.4 127.1h12.67v1.55h-12.67zM114.4 135.9h12.67v1.55h-12.67zM114.4 145.9h12.67v1.55h-12.67zM114.4 164.6h12.67v1.55h-12.67zM114.4 169.6h12.67v1.55h-12.67zM114.4 185.9h12.67v1.55h-12.67zM114.4 188.4h12.67v1.55h-12.67zM114.4 190.9h12.67v1.55h-12.67zM114.4 200.9h12.67v1.55h-12.67zM114.4 223.4h12.67v1.55h-12.67zM114.4 225.9h12.67v2.80h-12.67zM114.4 240.9h12.67v1.55h-12.67zM114.4 258.5h12.67v1.55h-12.67zM114.4 276.0h12.67v1.55h-12.67zM114.4 281.0h12.67v1.55h-12.67zM114.4 294.7h12.67v1.55h-12.67zM114.4 344.8h12.67v1.55h-12.67zM114.4 352.3h12.67v1.55h-12.67zM126.6 7.0h12.67v1.55h-12.67zM126.6 24.5h12.67v1.55h-12.67zM126.6 27.0h12.67v1.55h-12.67zM126.6 37.0h12.67v1.55h-12.67zM126.6 44.5h12.67v1.55h-12.67zM126.6 50.8h12.67v1.55h-12.67zM126.6 80.8h12.67v1.55h-12.67zM126.6 97.1h12.67v1.55h-12.67zM126.6 113.3h12.67v1.55h-12.67zM126.6 125.8h12.67v1.55h-12.67zM126.6 128.3h12.67v1.55h-12.67zM126.6 138.4h12.67v1.55h-12.67zM126.6 143.4h12.67v1.55h-12.67zM126.6 153.4h12.67v1.55h-12.67zM126.6 164.6h12.67v1.55h-12.67zM126.6 177.1h12.67v1.55h-12.67zM126.6 180.9h12.67v1.55h-12.67zM126.6 188.4h12.67v1.55h-12.67zM126.6 204.7h12.67v1.55h-12.67zM126.6 217.2h12.67v1.55h-12.67zM126.6 225.9h12.67v1.55h-12.67zM126.6 271.0h12.67v1.55h-12.67zM126.6 277.2h12.67v1.55h-12.67zM126.6 281.0h12.67v1.55h-12.67zM126.6 302.2h12.67v1.55h-12.67zM126.6 313.5h12.67v1.55h-12.67zM126.6 334.8h12.67v1.55h-12.67zM126.6 343.5h12.67v1.55h-12.67zM126.6 364.8h12.67v1.55h-12.67zM126.6 372.3h12.67v1.55h-12.67zM138.9 10.8h12.67v1.55h-12.67zM138.9 33.3h12.67v2.80h-12.67zM138.9 44.5h12.67v1.55h-12.67zM138.9 54.5h12.67v1.55h-12.67zM138.9 65.8h12.67v1.55h-12.67zM138.9 83.3h12.67v1.55h-12.67zM138.9 123.3h12.67v1.55h-12.67zM138.9 137.1h12.67v1.55h-12.67zM138.9 139.6h12.67v1.55h-12.67zM138.9 152.1h12.67v1.55h-12.67zM138.9 154.6h12.67v1.55h-12.67zM138.9 179.6h12.67v1.55h-12.67zM138.9 192.1h12.67v1.55h-12.67zM138.9 194.7h12.67v1.55h-12.67zM138.9 200.9h12.67v1.55h-12.67zM138.9 210.9h12.67v1.55h-12.67zM138.9 225.9h12.67v1.55h-12.67zM138.9 242.2h12.67v1.55h-12.67zM138.9 250.9h12.67v1.55h-12.67zM138.9 292.2h12.67v1.55h-12.67zM138.9 302.2h12.67v1.55h-12.67zM138.9 317.2h12.67v2.80h-12.67zM138.9 321.0h12.67v2.80h-12.67zM138.9 324.8h12.67v1.55h-12.67zM138.9 344.8h12.67v1.55h-12.67zM138.9 359.8h12.67v1.55h-12.67zM138.9 376.0h12.67v1.55h-12.67zM151.2 9.5h12.67v1.55h-12.67zM151.2 29.5h12.67v1.55h-12.67zM151.2 39.5h12.67v1.55h-12.67zM151.2 48.3h12.67v1.55h-12.67zM151.2 77.1h12.67v1.55h-12.67zM151.2 93.3h12.67v4.05h-12.67zM151.2 114.6h12.67v1.55h-12.67zM151.2 119.6h12.67v1.55h-12.67zM151.2 125.8h12.67v1.55h-12.67zM151.2 135.9h12.67v1.55h-12.67zM151.2 168.4h12.67v1.55h-12.67zM151.2 183.4h12.67v1.55h-12.67zM151.2 274.7h12.67v1.55h-12.67zM151.2 337.3h12.67v1.55h-12.67zM151.2 342.3h12.67v1.55h-12.67zM151.2 357.3h12.67v1.55h-12.67zM151.2 363.5h12.67v2.80h-12.67zM163.5 17.0h12.67v1.55h-12.67zM163.5 58.3h12.67v1.55h-12.67zM163.5 60.8h12.67v1.55h-12.67zM163.5 64.5h12.67v1.55h-12.67zM163.5 75.8h12.67v1.55h-12.67zM163.5 85.8h12.67v1.55h-12.67zM163.5 105.8h12.67v1.55h-12.67zM163.5 112.1h12.67v4.05h-12.67zM163.5 120.8h12.67v1.55h-12.67zM163.5 130.8h12.67v1.55h-12.67zM163.5 134.6h12.67v1.55h-12.67zM163.5 173.4h12.67v1.55h-12.67zM163.5 175.9h12.67v1.55h-12.67zM163.5 203.4h12.67v1.55h-12.67zM163.5 214.7h12.67v1.55h-12.67zM163.5 227.2h12.67v1.55h-12.67zM163.5 244.7h12.67v1.55h-12.67zM163.5 253.4h12.67v1.55h-12.67zM163.5 282.2h12.67v1.55h-12.67zM163.5 286.0h12.67v1.55h-12.67zM163.5 297.2h12.67v2.80h-12.67zM163.5 316.0h12.67v1.55h-12.67zM163.5 352.3h12.67v2.80h-12.67zM163.5 357.3h12.67v1.55h-12.67zM175.7 52.0h12.67v1.55h-12.67zM175.7 57.0h12.67v1.55h-12.67zM175.7 78.3h12.67v4.05h-12.67zM175.7 99.6h12.67v1.55h-12.67zM175.7 118.3h12.67v1.55h-12.67zM175.7 160.9h12.67v1.55h-12.67zM175.7 195.9h12.67v1.55h-12.67zM175.7 198.4h12.67v1.55h-12.67zM175.7 215.9h12.67v1.55h-12.67zM175.7 218.4h12.67v1.55h-12.67zM175.7 225.9h12.67v1.55h-12.67zM175.7 267.2h12.67v1.55h-12.67zM175.7 286.0h12.67v1.55h-12.67zM175.7 356.0h12.67v1.55h-12.67zM175.7 361.0h12.67v1.55h-12.67zM188.0 37.0h12.67v1.55h-12.67zM188.0 40.8h12.67v1.55h-12.67zM188.0 50.8h12.67v1.55h-12.67zM188.0 95.8h12.67v1.55h-12.67zM188.0 108.3h12.67v1.55h-12.67zM188.0 134.6h12.67v2.80h-12.67zM188.0 138.4h12.67v1.55h-12.67zM188.0 145.9h12.67v1.55h-12.67zM188.0 155.9h12.67v1.55h-12.67zM188.0 164.6h12.67v1.55h-12.67zM188.0 170.9h12.67v2.80h-12.67zM188.0 182.1h12.67v1.55h-12.67zM188.0 187.1h12.67v1.55h-12.67zM188.0 198.4h12.67v1.55h-12.67zM188.0 219.7h12.67v2.80h-12.67zM188.0 248.4h12.67v1.55h-12.67zM188.0 257.2h12.67v1.55h-12.67zM188.0 262.2h12.67v1.55h-12.67zM188.0 288.5h12.67v1.55h-12.67zM188.0 311.0h12.67v1.55h-12.67zM188.0 313.5h12.67v1.55h-12.67zM188.0 363.5h12.67v1.55h-12.67zM188.0 373.5h12.67v1.55h-12.67zM200.3 8.3h12.67v1.55h-12.67zM200.3 17.0h12.67v1.55h-12.67zM200.3 22.0h12.67v1.55h-12.67zM200.3 54.5h12.67v1.55h-12.67zM200.3 113.3h12.67v1.55h-12.67zM200.3 123.3h12.67v1.55h-12.67zM200.3 127.1h12.67v1.55h-12.67zM200.3 138.4h12.67v1.55h-12.67zM200.3 173.4h12.67v1.55h-12.67zM200.3 214.7h12.67v1.55h-12.67zM200.3 218.4h12.67v1.55h-12.67zM200.3 220.9h12.67v1.55h-12.67zM200.3 233.4h12.67v1.55h-12.67zM200.3 259.7h12.67v1.55h-12.67zM200.3 263.5h12.67v1.55h-12.67zM200.3 267.2h12.67v1.55h-12.67zM200.3 287.2h12.67v1.55h-12.67zM200.3 289.7h12.67v1.55h-12.67zM200.3 292.2h12.67v1.55h-12.67zM200.3 308.5h12.67v1.55h-12.67zM200.3 316.0h12.67v1.55h-12.67zM200.3 321.0h12.67v1.55h-12.67zM200.3 334.8h12.67v1.55h-12.67zM200.3 344.8h12.67v1.55h-12.67zM200.3 372.3h12.67v1.55h-12.67zM212.5 27.0h12.67v1.55h-12.67zM212.5 30.8h12.67v1.55h-12.67zM212.5 48.3h12.67v1.55h-12.67zM212.5 60.8h12.67v1.55h-12.67zM212.5 69.6h12.67v1.55h-12.67zM212.5 94.6h12.67v1.55h-12.67zM212.5 164.6h12.67v1.55h-12.67zM212.5 170.9h12.67v1.55h-12.67zM212.5 177.1h12.67v1.55h-12.67zM212.5 179.6h12.67v1.55h-12.67zM212.5 190.9h12.67v2.80h-12.67zM212.5 195.9h12.67v1.55h-12.67zM212.5 198.4h12.67v2.80h-12.67zM212.5 217.2h12.67v1.55h-12.67zM212.5 227.2h12.67v1.55h-12.67zM212.5 262.2h12.67v1.55h-12.67zM212.5 266.0h12.67v1.55h-12.67zM212.5 274.7h12.67v1.55h-12.67zM212.5 286.0h12.67v1.55h-12.67zM224.8 8.3h12.67v1.55h-12.67zM224.8 20.8h12.67v1.55h-12.67zM224.8 48.3h12.67v1.55h-12.67zM224.8 53.3h12.67v1.55h-12.67zM224.8 63.3h12.67v1.55h-12.67zM224.8 77.1h12.67v1.55h-12.67zM224.8 92.1h12.67v1.55h-12.67zM224.8 97.1h12.67v1.55h-12.67zM224.8 124.6h12.67v1.55h-12.67zM224.8 135.9h12.67v1.55h-12.67zM224.8 138.4h12.67v1.55h-12.67zM224.8 162.1h12.67v1.55h-12.67zM224.8 223.4h12.67v1.55h-12.67zM224.8 242.2h12.67v1.55h-12.67zM224.8 259.7h12.67v1.55h-12.67zM224.8 276.0h12.67v1.55h-12.67zM224.8 286.0h12.67v1.55h-12.67zM224.8 288.5h12.67v1.55h-12.67zM224.8 297.2h12.67v2.80h-12.67zM224.8 301.0h12.67v1.55h-12.67zM224.8 311.0h12.67v1.55h-12.67zM224.8 323.5h12.67v1.55h-12.67zM224.8 331.0h12.67v1.55h-12.67zM224.8 339.8h12.67v1.55h-12.67zM224.8 356.0h12.67v1.55h-12.67zM224.8 362.3h12.67v1.55h-12.67zM237.1 10.8h12.67v1.55h-12.67zM237.1 14.5h12.67v1.55h-12.67zM237.1 17.0h12.67v1.55h-12.67zM237.1 58.3h12.67v1.55h-12.67zM237.1 125.8h12.67v1.55h-12.67zM237.1 135.9h12.67v1.55h-12.67zM237.1 158.4h12.67v1.55h-12.67zM237.1 194.7h12.67v1.55h-12.67zM237.1 252.2h12.67v1.55h-12.67zM237.1 268.5h12.67v1.55h-12.67zM237.1 274.7h12.67v1.55h-12.67zM237.1 286.0h12.67v1.55h-12.67zM237.1 292.2h12.67v1.55h-12.67zM237.1 333.5h12.67v1.55h-12.67zM237.1 343.5h12.67v2.80h-12.67zM237.1 376.0h12.67v1.55h-12.67zM249.3 94.6h12.67v1.55h-12.67zM249.3 109.6h12.67v1.55h-12.67zM249.3 127.1h12.67v1.55h-12.67zM249.3 139.6h12.67v1.55h-12.67zM249.3 162.1h12.67v1.55h-12.67zM249.3 183.4h12.67v1.55h-12.67zM249.3 208.4h12.67v1.55h-12.67zM249.3 247.2h12.67v1.55h-12.67zM249.3 264.7h12.67v1.55h-12.67zM249.3 313.5h12.67v1.55h-12.67zM249.3 317.2h12.67v1.55h-12.67zM249.3 331.0h12.67v1.55h-12.67zM249.3 373.5h12.67v1.55h-12.67zM261.6 7.0h12.67v1.55h-12.67zM261.6 30.8h12.67v1.55h-12.67zM261.6 48.3h12.67v1.55h-12.67zM261.6 60.8h12.67v2.80h-12.67zM261.6 78.3h12.67v1.55h-12.67zM261.6 83.3h12.67v1.55h-12.67zM261.6 90.8h12.67v1.55h-12.67zM261.6 122.1h12.67v1.55h-12.67zM261.6 127.1h12.67v1.55h-12.67zM261.6 134.6h12.67v2.80h-12.67zM261.6 153.4h12.67v1.55h-12.67zM261.6 157.1h12.67v1.55h-12.67zM261.6 163.4h12.67v1.55h-12.67zM261.6 172.1h12.67v1.55h-12.67zM261.6 185.9h12.67v1.55h-12.67zM261.6 209.7h12.67v1.55h-12.67zM261.6 222.2h12.67v1.55h-12.67zM261.6 232.2h12.67v1.55h-12.67zM261.6 279.7h12.67v1.55h-12.67zM261.6 311.0h12.67v1.55h-12.67zM261.6 313.5h12.67v2.80h-12.67zM261.6 317.2h12.67v1.55h-12.67zM261.6 326.0h12.67v1.55h-12.67zM261.6 333.5h12.67v1.55h-12.67zM261.6 336.0h12.67v1.55h-12.67zM261.6 338.5h12.67v1.55h-12.67zM261.6 352.3h12.67v1.55h-12.67zM261.6 364.8h12.67v1.55h-12.67zM261.6 369.8h12.67v2.80h-12.67zM273.9 23.3h12.67v1.55h-12.67zM273.9 30.8h12.67v1.55h-12.67zM273.9 64.5h12.67v1.55h-12.67zM273.9 73.3h12.67v1.55h-12.67zM273.9 90.8h12.67v1.55h-12.67zM273.9 113.3h12.67v1.55h-12.67zM273.9 117.1h12.67v1.55h-12.67zM273.9 142.1h12.67v1.55h-12.67zM273.9 164.6h12.67v1.55h-12.67zM273.9 168.4h12.67v1.55h-12.67zM273.9 184.6h12.67v1.55h-12.67zM273.9 187.1h12.67v1.55h-12.67zM273.9 195.9h12.67v2.80h-12.67zM273.9 204.7h12.67v1.55h-12.67zM273.9 234.7h12.67v1.55h-12.67zM273.9 252.2h12.67v1.55h-12.67zM273.9 255.9h12.67v1.55h-12.67zM273.9 264.7h12.67v1.55h-12.67zM273.9 269.7h12.67v1.55h-12.67zM273.9 288.5h12.67v1.55h-12.67zM273.9 336.0h12.67v1.55h-12.67zM273.9 342.3h12.67v2.80h-12.67zM273.9 347.3h12.67v1.55h-12.67zM273.9 354.8h12.67v1.55h-12.67zM286.2 7.0h12.67v1.55h-12.67zM286.2 32.0h12.67v1.55h-12.67zM286.2 80.8h12.67v1.55h-12.67zM286.2 90.8h12.67v1.55h-12.67zM286.2 94.6h12.67v2.80h-12.67zM286.2 98.3h12.67v1.55h-12.67zM286.2 120.8h12.67v1.55h-12.67zM286.2 127.1h12.67v1.55h-12.67zM286.2 138.4h12.67v2.80h-12.67zM286.2 177.1h12.67v1.55h-12.67zM286.2 182.1h12.67v1.55h-12.67zM286.2 195.9h12.67v1.55h-12.67zM286.2 205.9h12.67v1.55h-12.67zM286.2 218.4h12.67v1.55h-12.67zM286.2 302.2h12.67v1.55h-12.67zM286.2 311.0h12.67v1.55h-12.67zM286.2 337.3h12.67v2.80h-12.67zM286.2 346.0h12.67v1.55h-12.67zM286.2 351.0h12.67v1.55h-12.67zM286.2 353.5h12.67v1.55h-12.67z"/><path fill="#9bf26c" d="M65.3 25.8h12.67v1.55h-12.67zM65.3 117.1h12.67v1.55h-12.67zM65.3 153.4h12.67v1.55h-12.67zM65.3 379.8h12.67v1.55h-12.67zM77.6 155.9h12.67v1.55h-12.67zM89.8 114.6h12.67v1.55h-12.67zM89.8 129.6h12.67v1.55h-12.67zM89.8 228.4h12.67v1.55h-12.67zM89.8 356.0h12.67v1.55h-12.67zM102.1 23.3h12.67v1.55h-12.67zM102.1 85.8h12.67v1.55h-12.67zM102.1 102.1h12.67v1.55h-12.67zM102.1 112.1h12.67v1.55h-12.67zM102.1 134.6h12.67v1.55h-12.67zM102.1 159.6h12.67v1.55h-12.67zM102.1 187.1h12.67v1.55h-12.67zM102.1 266.0h12.67v1.55h-12.67zM102.1 307.2h12.67v1.55h-12.67zM102.1 358.5h12.67v1.55h-12.67zM114.4 27.0h12.67v1.55h-12.67zM114.4 147.1h12.67v1.55h-12.67zM114.4 174.6h12.67v1.55h-12.67zM114.4 222.2h12.67v1.55h-12.67zM114.4 229.7h12.67v1.55h-12.67zM114.4 329.8h12.67v1.55h-12.67zM126.6 148.4h12.67v1.55h-12.67zM126.6 162.1h12.67v1.55h-12.67zM126.6 210.9h12.67v1.55h-12.67zM126.6 223.4h12.67v1.55h-12.67zM138.9 243.4h12.67v1.55h-12.67zM138.9 351.0h12.67v1.55h-12.67zM151.2 118.3h12.67v1.55h-12.67zM151.2 203.4h12.67v1.55h-12.67zM151.2 349.8h12.67v1.55h-12.67zM163.5 18.3h12.67v1.55h-12.67zM163.5 52.0h12.67v1.55h-12.67zM163.5 261.0h12.67v1.55h-12.67zM175.7 12.0h12.67v1.55h-12.67zM175.7 219.7h12.67v1.55h-12.67zM175.7 329.8h12.67v1.55h-12.67zM175.7 364.8h12.67v1.55h-12.67zM212.5 319.8h12.67v2.80h-12.67zM249.3 33.3h12.67v1.55h-12.67zM249.3 114.6h12.67v1.55h-12.67zM261.6 55.8h12.67v1.55h-12.67zM261.6 113.3h12.67v1.55h-12.67zM261.6 160.9h12.67v1.55h-12.67zM261.6 243.4h12.67v1.55h-12.67zM273.9 134.6h12.67v1.55h-12.67zM273.9 247.2h12.67v1.55h-12.67zM273.9 286.0h12.67v1.55h-12.67zM286.2 185.9h12.67v1.55h-12.67zM286.2 202.2h12.67v1.55h-12.67zM286.2 254.7h12.67v1.55h-12.67zM286.2 306.0h12.67v1.55h-12.67z"/><path fill="#14e6ed" d="M65.3 29.5h12.67v1.55h-12.67zM65.3 34.5h12.67v1.55h-12.67zM65.3 39.5h12.67v1.55h-12.67zM65.3 48.3h12.67v1.55h-12.67zM65.3 50.8h12.67v1.55h-12.67zM65.3 94.6h12.67v1.55h-12.67zM65.3 100.8h12.67v1.55h-12.67zM65.3 132.1h12.67v1.55h-12.67zM65.3 230.9h12.67v1.55h-12.67zM65.3 274.7h12.67v2.80h-12.67zM65.3 338.5h12.67v1.55h-12.67zM65.3 341.0h12.67v1.55h-12.67zM65.3 348.5h12.67v1.55h-12.67zM77.6 10.8h12.67v1.55h-12.67zM77.6 54.5h12.67v1.55h-12.67zM77.6 144.6h12.67v1.55h-12.67zM77.6 175.9h12.67v1.55h-12.67zM77.6 222.2h12.67v1.55h-12.67zM77.6 253.4h12.67v1.55h-12.67zM77.6 257.2h12.67v1.55h-12.67zM77.6 266.0h12.67v1.55h-12.67zM77.6 307.2h12.67v1.55h-12.67zM77.6 323.5h12.67v1.55h-12.67zM77.6 344.8h12.67v1.55h-12.67zM77.6 349.8h12.67v1.55h-12.67zM89.8 15.8h12.67v1.55h-12.67zM89.8 105.8h12.67v1.55h-12.67zM89.8 167.1h12.67v1.55h-12.67zM89.8 222.2h12.67v1.55h-12.67zM89.8 278.5h12.67v1.55h-12.67zM89.8 311.0h12.67v1.55h-12.67zM89.8 327.3h12.67v1.55h-12.67zM89.8 379.8h12.67v1.55h-12.67zM102.1 55.8h12.67v1.55h-12.67zM102.1 64.5h12.67v1.55h-12.67zM102.1 103.3h12.67v1.55h-12.67zM102.1 128.3h12.67v1.55h-12.67zM102.1 149.6h12.67v1.55h-12.67zM102.1 197.2h12.67v1.55h-12.67zM102.1 234.7h12.67v1.55h-12.67zM102.1 269.7h12.67v1.55h-12.67zM102.1 324.8h12.67v1.55h-12.67zM102.1 347.3h12.67v1.55h-12.67zM114.4 53.3h12.67v1.55h-12.67zM114.4 92.1h12.67v1.55h-12.67zM114.4 142.1h12.67v1.55h-12.67zM114.4 155.9h12.67v1.55h-12.67zM114.4 199.7h12.67v1.55h-12.67zM114.4 235.9h12.67v1.55h-12.67zM114.4 248.4h12.67v1.55h-12.67zM114.4 257.2h12.67v1.55h-12.67zM114.4 282.2h12.67v1.55h-12.67zM114.4 341.0h12.67v1.55h-12.67zM114.4 353.5h12.67v1.55h-12.67zM126.6 77.1h12.67v1.55h-12.67zM126.6 178.4h12.67v1.55h-12.67zM126.6 205.9h12.67v1.55h-12.67zM126.6 247.2h12.67v1.55h-12.67zM126.6 273.5h12.67v1.55h-12.67zM126.6 287.2h12.67v1.55h-12.67zM126.6 311.0h12.67v1.55h-12.67zM126.6 357.3h12.67v1.55h-12.67zM126.6 378.5h12.67v1.55h-12.67zM138.9 17.0h12.67v1.55h-12.67zM138.9 22.0h12.67v1.55h-12.67zM138.9 24.5h12.67v1.55h-12.67zM138.9 143.4h12.67v2.80h-12.67zM138.9 168.4h12.67v1.55h-12.67zM138.9 178.4h12.67v1.55h-12.67zM138.9 209.7h12.67v1.55h-12.67zM138.9 218.4h12.67v1.55h-12.67zM138.9 224.7h12.67v1.55h-12.67zM138.9 296.0h12.67v1.55h-12.67zM138.9 349.8h12.67v1.55h-12.67zM138.9 357.3h12.67v1.55h-12.67zM138.9 367.3h12.67v1.55h-12.67zM138.9 379.8h12.67v1.55h-12.67zM151.2 24.5h12.67v1.55h-12.67zM151.2 35.8h12.67v1.55h-12.67zM151.2 108.3h12.67v1.55h-12.67zM151.2 133.4h12.67v1.55h-12.67zM151.2 152.1h12.67v1.55h-12.67zM151.2 180.9h12.67v1.55h-12.67zM151.2 189.6h12.67v1.55h-12.67zM151.2 228.4h12.67v1.55h-12.67zM151.2 249.7h12.67v1.55h-12.67zM151.2 278.5h12.67v1.55h-12.67zM151.2 312.2h12.67v1.55h-12.67zM151.2 341.0h12.67v1.55h-12.67zM163.5 74.6h12.67v1.55h-12.67zM163.5 222.2h12.67v1.55h-12.67zM163.5 237.2h12.67v1.55h-12.67zM163.5 264.7h12.67v2.80h-12.67zM163.5 291.0h12.67v1.55h-12.67zM175.7 19.5h12.67v1.55h-12.67zM175.7 39.5h12.67v1.55h-12.67zM175.7 114.6h12.67v1.55h-12.67zM175.7 233.4h12.67v1.55h-12.67zM175.7 281.0h12.67v1.55h-12.67zM175.7 291.0h12.67v1.55h-12.67zM175.7 306.0h12.67v1.55h-12.67zM188.0 103.3h12.67v1.55h-12.67zM188.0 105.8h12.67v1.55h-12.67zM188.0 137.1h12.67v1.55h-12.67zM188.0 174.6h12.67v1.55h-12.67zM188.0 179.6h12.67v1.55h-12.67zM188.0 197.2h12.67v1.55h-12.67zM188.0 217.2h12.67v1.55h-12.67zM188.0 250.9h12.67v1.55h-12.67zM188.0 303.5h12.67v1.55h-12.67zM188.0 362.3h12.67v1.55h-12.67zM200.3 9.5h12.67v1.55h-12.67zM200.3 52.0h12.67v1.55h-12.67zM200.3 110.8h12.67v1.55h-12.67zM200.3 132.1h12.67v1.55h-12.67zM200.3 172.1h12.67v1.55h-12.67zM200.3 197.2h12.67v1.55h-12.67zM200.3 234.7h12.67v1.55h-12.67zM200.3 313.5h12.67v2.80h-12.67zM200.3 322.3h12.67v1.55h-12.67zM200.3 377.3h12.67v1.55h-12.67zM212.5 102.1h12.67v1.55h-12.67zM212.5 180.9h12.67v1.55h-12.67zM212.5 222.2h12.67v1.55h-12.67zM212.5 228.4h12.67v1.55h-12.67zM212.5 242.2h12.67v1.55h-12.67zM212.5 254.7h12.67v1.55h-12.67zM224.8 170.9h12.67v1.55h-12.67zM224.8 188.4h12.67v1.55h-12.67zM224.8 249.7h12.67v1.55h-12.67zM224.8 269.7h12.67v1.55h-12.67zM237.1 203.4h12.67v1.55h-12.67zM237.1 257.2h12.67v1.55h-12.67zM237.1 349.8h12.67v1.55h-12.67zM249.3 72.1h12.67v1.55h-12.67zM249.3 212.2h12.67v1.55h-12.67zM249.3 354.8h12.67v1.55h-12.67zM249.3 361.0h12.67v1.55h-12.67zM249.3 372.3h12.67v1.55h-12.67zM261.6 129.6h12.67v1.55h-12.67zM261.6 140.9h12.67v1.55h-12.67zM261.6 143.4h12.67v1.55h-12.67zM261.6 149.6h12.67v1.55h-12.67zM261.6 200.9h12.67v1.55h-12.67zM261.6 247.2h12.67v1.55h-12.67zM261.6 332.3h12.67v1.55h-12.67zM261.6 349.8h12.67v1.55h-12.67zM273.9 33.3h12.67v1.55h-12.67zM273.9 55.8h12.67v1.55h-12.67zM273.9 137.1h12.67v1.55h-12.67zM273.9 174.6h12.67v1.55h-12.67zM273.9 307.2h12.67v1.55h-12.67zM273.9 359.8h12.67v1.55h-12.67zM286.2 49.5h12.67v1.55h-12.67zM286.2 78.3h12.67v1.55h-12.67zM286.2 107.1h12.67v1.55h-12.67zM286.2 170.9h12.67v1.55h-12.67zM286.2 174.6h12.67v1.55h-12.67zM286.2 247.2h12.67v1.55h-12.67zM286.2 249.7h12.67v1.55h-12.67zM286.2 255.9h12.67v1.55h-12.67zM286.2 347.3h12.67v1.55h-12.67z"/><path fill="#14d7e9" d="M65.3 30.8h12.67v1.55h-12.67zM65.3 35.8h12.67v1.55h-12.67zM65.3 89.6h12.67v1.55h-12.67zM65.3 104.6h12.67v1.55h-12.67zM65.3 154.6h12.67v1.55h-12.67zM65.3 160.9h12.67v1.55h-12.67zM65.3 245.9h12.67v1.55h-12.67zM65.3 261.0h12.67v1.55h-12.67zM65.3 277.2h12.67v1.55h-12.67zM65.3 282.2h12.67v1.55h-12.67zM65.3 296.0h12.67v1.55h-12.67zM65.3 342.3h12.67v1.55h-12.67zM65.3 349.8h12.67v1.55h-12.67zM65.3 363.5h12.67v1.55h-12.67zM65.3 371.0h12.67v1.55h-12.67zM77.6 15.8h12.67v1.55h-12.67zM77.6 19.5h12.67v1.55h-12.67zM77.6 24.5h12.67v1.55h-12.67zM77.6 27.0h12.67v1.55h-12.67zM77.6 44.5h12.67v2.80h-12.67zM77.6 69.6h12.67v1.55h-12.67zM77.6 109.6h12.67v1.55h-12.67zM77.6 115.8h12.67v1.55h-12.67zM77.6 128.3h12.67v1.55h-12.67zM77.6 133.4h12.67v1.55h-12.67zM77.6 160.9h12.67v1.55h-12.67zM77.6 173.4h12.67v1.55h-12.67zM77.6 223.4h12.67v1.55h-12.67zM77.6 233.4h12.67v1.55h-12.67zM77.6 235.9h12.67v1.55h-12.67zM77.6 254.7h12.67v1.55h-12.67zM77.6 261.0h12.67v1.55h-12.67zM77.6 267.2h12.67v1.55h-12.67zM77.6 279.7h12.67v1.55h-12.67zM77.6 326.0h12.67v2.80h-12.67zM77.6 339.8h12.67v1.55h-12.67zM77.6 368.5h12.67v1.55h-12.67zM89.8 19.5h12.67v1.55h-12.67zM89.8 25.8h12.67v1.55h-12.67zM89.8 40.8h12.67v1.55h-12.67zM89.8 47.0h12.67v1.55h-12.67zM89.8 52.0h12.67v1.55h-12.67zM89.8 70.8h12.67v2.80h-12.67zM89.8 92.1h12.67v1.55h-12.67zM89.8 107.1h12.67v1.55h-12.67zM89.8 142.1h12.67v1.55h-12.67zM89.8 178.4h12.67v1.55h-12.67zM89.8 187.1h12.67v1.55h-12.67zM89.8 218.4h12.67v1.55h-12.67zM89.8 223.4h12.67v1.55h-12.67zM89.8 235.9h12.67v1.55h-12.67zM89.8 250.9h12.67v1.55h-12.67zM89.8 254.7h12.67v1.55h-12.67zM89.8 291.0h12.67v1.55h-12.67zM89.8 299.7h12.67v1.55h-12.67zM89.8 312.2h12.67v1.55h-12.67zM89.8 328.5h12.67v1.55h-12.67zM89.8 343.5h12.67v1.55h-12.67zM102.1 69.6h12.67v1.55h-12.67zM102.1 99.6h12.67v1.55h-12.67zM102.1 109.6h12.67v1.55h-12.67zM102.1 150.9h12.67v1.55h-12.67zM102.1 155.9h12.67v1.55h-12.67zM102.1 177.1h12.67v1.55h-12.67zM102.1 180.9h12.67v1.55h-12.67zM102.1 214.7h12.67v2.80h-12.67zM102.1 229.7h12.67v1.55h-12.67zM102.1 259.7h12.67v2.80h-12.67zM102.1 283.5h12.67v1.55h-12.67zM102.1 328.5h12.67v2.80h-12.67zM114.4 32.0h12.67v1.55h-12.67zM114.4 39.5h12.67v1.55h-12.67zM114.4 45.8h12.67v1.55h-12.67zM114.4 49.5h12.67v1.55h-12.67zM114.4 69.6h12.67v1.55h-12.67zM114.4 102.1h12.67v1.55h-12.67zM114.4 207.2h12.67v1.55h-12.67zM114.4 249.7h12.67v1.55h-12.67zM114.4 264.7h12.67v1.55h-12.67zM114.4 278.5h12.67v1.55h-12.67zM114.4 307.2h12.67v1.55h-12.67zM114.4 347.3h12.67v1.55h-12.67zM114.4 372.3h12.67v1.55h-12.67zM126.6 29.5h12.67v1.55h-12.67zM126.6 32.0h12.67v1.55h-12.67zM126.6 34.5h12.67v2.80h-12.67zM126.6 55.8h12.67v1.55h-12.67zM126.6 95.8h12.67v1.55h-12.67zM126.6 99.6h12.67v1.55h-12.67zM126.6 159.6h12.67v1.55h-12.67zM126.6 185.9h12.67v1.55h-12.67zM126.6 233.4h12.67v1.55h-12.67zM126.6 244.7h12.67v2.80h-12.67zM126.6 248.4h12.67v1.55h-12.67zM126.6 269.7h12.67v1.55h-12.67zM126.6 298.5h12.67v1.55h-12.67zM126.6 304.7h12.67v1.55h-12.67zM126.6 322.3h12.67v1.55h-12.67zM126.6 361.0h12.67v1.55h-12.67zM126.6 374.8h12.67v1.55h-12.67zM138.9 19.5h12.67v1.55h-12.67zM138.9 25.8h12.67v1.55h-12.67zM138.9 32.0h12.67v1.55h-12.67zM138.9 48.3h12.67v1.55h-12.67zM138.9 68.3h12.67v1.55h-12.67zM138.9 70.8h12.67v1.55h-12.67zM138.9 77.1h12.67v1.55h-12.67zM138.9 82.1h12.67v1.55h-12.67zM138.9 107.1h12.67v1.55h-12.67zM138.9 180.9h12.67v1.55h-12.67zM138.9 195.9h12.67v1.55h-12.67zM138.9 220.9h12.67v2.80h-12.67zM138.9 264.7h12.67v1.55h-12.67zM138.9 293.5h12.67v1.55h-12.67zM138.9 298.5h12.67v1.55h-12.67zM138.9 304.7h12.67v1.55h-12.67zM138.9 313.5h12.67v2.80h-12.67zM138.9 329.8h12.67v1.55h-12.67zM138.9 341.0h12.67v2.80h-12.67zM138.9 347.3h12.67v1.55h-12.67zM138.9 354.8h12.67v1.55h-12.67zM138.9 368.5h12.67v1.55h-12.67zM138.9 381.0h12.67v1.55h-12.67zM151.2 7.0h12.67v1.55h-12.67zM151.2 15.8h12.67v1.55h-12.67zM151.2 19.5h12.67v1.55h-12.67zM151.2 34.5h12.67v1.55h-12.67zM151.2 75.8h12.67v1.55h-12.67zM151.2 102.1h12.67v1.55h-12.67zM151.2 104.6h12.67v1.55h-12.67zM151.2 115.8h12.67v1.55h-12.67zM151.2 148.4h12.67v1.55h-12.67zM151.2 154.6h12.67v1.55h-12.67zM151.2 167.1h12.67v1.55h-12.67zM151.2 172.1h12.67v1.55h-12.67zM151.2 174.6h12.67v1.55h-12.67zM151.2 223.4h12.67v1.55h-12.67zM151.2 252.2h12.67v1.55h-12.67zM151.2 262.2h12.67v1.55h-12.67zM151.2 284.7h12.67v1.55h-12.67zM151.2 293.5h12.67v1.55h-12.67zM151.2 314.7h12.67v1.55h-12.67zM151.2 328.5h12.67v1.55h-12.67zM151.2 347.3h12.67v1.55h-12.67zM151.2 361.0h12.67v1.55h-12.67zM163.5 9.5h12.67v1.55h-12.67zM163.5 37.0h12.67v1.55h-12.67zM163.5 44.5h12.67v1.55h-12.67zM163.5 57.0h12.67v1.55h-12.67zM163.5 59.5h12.67v1.55h-12.67zM163.5 67.0h12.67v1.55h-12.67zM163.5 69.6h12.67v1.55h-12.67zM163.5 72.1h12.67v1.55h-12.67zM163.5 110.8h12.67v1.55h-12.67zM163.5 128.3h12.67v1.55h-12.67zM163.5 139.6h12.67v1.55h-12.67zM163.5 170.9h12.67v1.55h-12.67zM163.5 174.6h12.67v1.55h-12.67zM163.5 213.4h12.67v1.55h-12.67zM163.5 230.9h12.67v1.55h-12.67zM163.5 234.7h12.67v1.55h-12.67zM163.5 249.7h12.67v2.80h-12.67zM163.5 306.0h12.67v1.55h-12.67zM163.5 311.0h12.67v2.80h-12.67zM163.5 337.3h12.67v1.55h-12.67zM163.5 347.3h12.67v1.55h-12.67zM163.5 379.8h12.67v1.55h-12.67zM175.7 77.1h12.67v1.55h-12.67zM175.7 87.1h12.67v1.55h-12.67zM175.7 175.9h12.67v1.55h-12.67zM175.7 205.9h12.67v1.55h-12.67zM175.7 208.4h12.67v1.55h-12.67zM175.7 212.2h12.67v2.80h-12.67zM175.7 240.9h12.67v1.55h-12.67zM175.7 249.7h12.67v1.55h-12.67zM175.7 264.7h12.67v1.55h-12.67zM175.7 277.2h12.67v2.80h-12.67zM175.7 323.5h12.67v1.55h-12.67zM175.7 374.8h12.67v1.55h-12.67zM188.0 39.5h12.67v1.55h-12.67zM188.0 107.1h12.67v1.55h-12.67zM188.0 128.3h12.67v1.55h-12.67zM188.0 139.6h12.67v1.55h-12.67zM188.0 142.1h12.67v4.05h-12.67zM188.0 189.6h12.67v1.55h-12.67zM188.0 194.7h12.67v1.55h-12.67zM188.0 212.2h12.67v1.55h-12.67zM188.0 222.2h12.67v1.55h-12.67zM188.0 244.7h12.67v1.55h-12.67zM188.0 277.2h12.67v1.55h-12.67zM188.0 304.7h12.67v1.55h-12.67zM188.0 312.2h12.67v1.55h-12.67zM188.0 327.3h12.67v1.55h-12.67zM188.0 359.8h12.67v1.55h-12.67zM200.3 33.3h12.67v1.55h-12.67zM200.3 44.5h12.67v1.55h-12.67zM200.3 47.0h12.67v1.55h-12.67zM200.3 60.8h12.67v1.55h-12.67zM200.3 69.6h12.67v1.55h-12.67zM200.3 143.4h12.67v1.55h-12.67zM200.3 165.9h12.67v1.55h-12.67zM200.3 178.4h12.67v1.55h-12.67zM200.3 183.4h12.67v1.55h-12.67zM200.3 202.2h12.67v1.55h-12.67zM200.3 245.9h12.67v1.55h-12.67zM200.3 257.2h12.67v1.55h-12.67zM200.3 269.7h12.67v1.55h-12.67zM200.3 299.7h12.67v1.55h-12.67zM200.3 343.5h12.67v1.55h-12.67zM200.3 362.3h12.67v1.55h-12.67zM212.5 44.5h12.67v1.55h-12.67zM212.5 58.3h12.67v1.55h-12.67zM212.5 97.1h12.67v1.55h-12.67zM212.5 107.1h12.67v1.55h-12.67zM212.5 129.6h12.67v4.05h-12.67zM212.5 150.9h12.67v1.55h-12.67zM212.5 183.4h12.67v1.55h-12.67zM212.5 189.6h12.67v1.55h-12.67zM212.5 197.2h12.67v1.55h-12.67zM212.5 215.9h12.67v1.55h-12.67zM212.5 245.9h12.67v1.55h-12.67zM212.5 263.5h12.67v1.55h-12.67zM212.5 284.7h12.67v1.55h-12.67zM224.8 33.3h12.67v1.55h-12.67zM224.8 99.6h12.67v1.55h-12.67zM224.8 105.8h12.67v1.55h-12.67zM224.8 208.4h12.67v1.55h-12.67zM224.8 225.9h12.67v1.55h-12.67zM224.8 245.9h12.67v2.80h-12.67zM224.8 255.9h12.67v1.55h-12.67zM224.8 279.7h12.67v1.55h-12.67zM224.8 368.5h12.67v1.55h-12.67zM224.8 373.5h12.67v1.55h-12.67zM237.1 19.5h12.67v1.55h-12.67zM237.1 78.3h12.67v1.55h-12.67zM237.1 122.1h12.67v1.55h-12.67zM237.1 199.7h12.67v1.55h-12.67zM237.1 222.2h12.67v1.55h-12.67zM237.1 255.9h12.67v1.55h-12.67zM237.1 261.0h12.67v2.80h-12.67zM237.1 264.7h12.67v1.55h-12.67zM237.1 267.2h12.67v1.55h-12.67zM237.1 281.0h12.67v1.55h-12.67zM237.1 312.2h12.67v1.55h-12.67zM237.1 369.8h12.67v1.55h-12.67zM249.3 19.5h12.67v1.55h-12.67zM249.3 78.3h12.67v1.55h-12.67zM249.3 107.1h12.67v1.55h-12.67zM249.3 153.4h12.67v1.55h-12.67zM249.3 188.4h12.67v1.55h-12.67zM249.3 210.9h12.67v1.55h-12.67zM249.3 214.7h12.67v1.55h-12.67zM249.3 235.9h12.67v1.55h-12.67zM249.3 244.7h12.67v1.55h-12.67zM249.3 257.2h12.67v1.55h-12.67zM249.3 294.7h12.67v1.55h-12.67zM249.3 297.2h12.67v1.55h-12.67zM249.3 302.2h12.67v1.55h-12.67zM249.3 312.2h12.67v1.55h-12.67zM249.3 314.7h12.67v2.80h-12.67zM261.6 28.3h12.67v1.55h-12.67zM261.6 43.3h12.67v1.55h-12.67zM261.6 67.0h12.67v1.55h-12.67zM261.6 82.1h12.67v1.55h-12.67zM261.6 97.1h12.67v1.55h-12.67zM261.6 120.8h12.67v1.55h-12.67zM261.6 159.6h12.67v1.55h-12.67zM261.6 180.9h12.67v1.55h-12.67zM261.6 188.4h12.67v1.55h-12.67zM261.6 244.7h12.67v1.55h-12.67zM261.6 264.7h12.67v1.55h-12.67zM261.6 278.5h12.67v1.55h-12.67zM261.6 283.5h12.67v1.55h-12.67zM261.6 287.2h12.67v1.55h-12.67zM261.6 347.3h12.67v1.55h-12.67zM261.6 354.8h12.67v1.55h-12.67zM261.6 372.3h12.67v1.55h-12.67zM273.9 43.3h12.67v1.55h-12.67zM273.9 49.5h12.67v1.55h-12.67zM273.9 59.5h12.67v1.55h-12.67zM273.9 72.1h12.67v1.55h-12.67zM273.9 97.1h12.67v1.55h-12.67zM273.9 108.3h12.67v1.55h-12.67zM273.9 183.4h12.67v1.55h-12.67zM273.9 194.7h12.67v1.55h-12.67zM273.9 245.9h12.67v1.55h-12.67zM273.9 254.7h12.67v1.55h-12.67zM273.9 263.5h12.67v1.55h-12.67zM273.9 271.0h12.67v1.55h-12.67zM273.9 357.3h12.67v1.55h-12.67zM286.2 85.8h12.67v1.55h-12.67zM286.2 97.1h12.67v1.55h-12.67zM286.2 217.2h12.67v1.55h-12.67zM286.2 223.4h12.67v1.55h-12.67zM286.2 298.5h12.67v1.55h-12.67zM286.2 304.7h12.67v1.55h-12.67zM286.2 316.0h12.67v1.55h-12.67zM286.2 328.5h12.67v1.55h-12.67z"/><path fill="#1274c7" d="M65.3 47.0h12.67v1.55h-12.67zM65.3 112.1h12.67v1.55h-12.67zM65.3 120.8h12.67v1.55h-12.67zM65.3 173.4h12.67v1.55h-12.67zM65.3 212.2h12.67v1.55h-12.67zM65.3 232.2h12.67v1.55h-12.67zM65.3 266.0h12.67v1.55h-12.67zM65.3 289.7h12.67v1.55h-12.67zM65.3 304.7h12.67v1.55h-12.67zM65.3 317.2h12.67v1.55h-12.67zM65.3 374.8h12.67v1.55h-12.67zM77.6 8.3h12.67v1.55h-12.67zM77.6 39.5h12.67v1.55h-12.67zM77.6 60.8h12.67v1.55h-12.67zM77.6 63.3h12.67v1.55h-12.67zM77.6 77.1h12.67v1.55h-12.67zM77.6 82.1h12.67v1.55h-12.67zM77.6 93.3h12.67v1.55h-12.67zM77.6 95.8h12.67v1.55h-12.67zM77.6 132.1h12.67v1.55h-12.67zM77.6 190.9h12.67v1.55h-12.67zM77.6 232.2h12.67v1.55h-12.67zM77.6 248.4h12.67v1.55h-12.67zM77.6 294.7h12.67v1.55h-12.67zM77.6 313.5h12.67v1.55h-12.67zM77.6 317.2h12.67v1.55h-12.67zM77.6 321.0h12.67v1.55h-12.67zM77.6 353.5h12.67v1.55h-12.67zM77.6 363.5h12.67v1.55h-12.67zM77.6 381.0h12.67v1.55h-12.67zM89.8 20.8h12.67v1.55h-12.67zM89.8 23.3h12.67v1.55h-12.67zM89.8 49.5h12.67v1.55h-12.67zM89.8 67.0h12.67v2.80h-12.67zM89.8 147.1h12.67v1.55h-12.67zM89.8 164.6h12.67v1.55h-12.67zM89.8 200.9h12.67v1.55h-12.67zM89.8 238.4h12.67v1.55h-12.67zM89.8 253.4h12.67v1.55h-12.67zM89.8 259.7h12.67v1.55h-12.67zM89.8 373.5h12.67v1.55h-12.67zM102.1 30.8h12.67v1.55h-12.67zM102.1 62.0h12.67v1.55h-12.67zM102.1 70.8h12.67v1.55h-12.67zM102.1 138.4h12.67v1.55h-12.67zM102.1 144.6h12.67v1.55h-12.67zM102.1 169.6h12.67v1.55h-12.67zM102.1 292.2h12.67v1.55h-12.67zM102.1 301.0h12.67v1.55h-12.67zM102.1 319.8h12.67v1.55h-12.67zM102.1 323.5h12.67v1.55h-12.67zM102.1 344.8h12.67v1.55h-12.67zM102.1 367.3h12.67v1.55h-12.67zM114.4 20.8h12.67v1.55h-12.67zM114.4 33.3h12.67v1.55h-12.67zM114.4 78.3h12.67v1.55h-12.67zM114.4 100.8h12.67v1.55h-12.67zM114.4 130.8h12.67v1.55h-12.67zM114.4 134.6h12.67v1.55h-12.67zM114.4 137.1h12.67v1.55h-12.67zM114.4 149.6h12.67v1.55h-12.67zM114.4 316.0h12.67v1.55h-12.67zM114.4 337.3h12.67v1.55h-12.67zM114.4 348.5h12.67v1.55h-12.67zM114.4 351.0h12.67v1.55h-12.67zM114.4 378.5h12.67v1.55h-12.67zM126.6 25.8h12.67v1.55h-12.67zM126.6 83.3h12.67v1.55h-12.67zM126.6 140.9h12.67v1.55h-12.67zM126.6 173.4h12.67v1.55h-12.67zM126.6 203.4h12.67v1.55h-12.67zM126.6 229.7h12.67v1.55h-12.67zM126.6 284.7h12.67v1.55h-12.67zM138.9 57.0h12.67v2.80h-12.67zM138.9 72.1h12.67v1.55h-12.67zM138.9 94.6h12.67v2.80h-12.67zM138.9 173.4h12.67v1.55h-12.67zM138.9 244.7h12.67v1.55h-12.67zM138.9 253.4h12.67v1.55h-12.67zM138.9 266.0h12.67v1.55h-12.67zM138.9 309.7h12.67v1.55h-12.67zM138.9 332.3h12.67v1.55h-12.67zM151.2 30.8h12.67v1.55h-12.67zM151.2 53.3h12.67v1.55h-12.67zM151.2 164.6h12.67v1.55h-12.67zM151.2 212.2h12.67v1.55h-12.67zM151.2 224.7h12.67v1.55h-12.67zM151.2 233.4h12.67v1.55h-12.67zM151.2 267.2h12.67v1.55h-12.67zM151.2 281.0h12.67v1.55h-12.67zM151.2 298.5h12.67v1.55h-12.67zM151.2 319.8h12.67v1.55h-12.67zM151.2 352.3h12.67v1.55h-12.67zM151.2 367.3h12.67v2.80h-12.67zM163.5 62.0h12.67v1.55h-12.67zM163.5 88.3h12.67v1.55h-12.67zM163.5 172.1h12.67v1.55h-12.67zM163.5 192.1h12.67v1.55h-12.67zM163.5 215.9h12.67v1.55h-12.67zM163.5 232.2h12.67v1.55h-12.67zM163.5 267.2h12.67v1.55h-12.67zM163.5 329.8h12.67v1.55h-12.67zM175.7 14.5h12.67v1.55h-12.67zM175.7 117.1h12.67v1.55h-12.67zM175.7 197.2h12.67v1.55h-12.67zM175.7 209.7h12.67v1.55h-12.67zM175.7 292.2h12.67v1.55h-12.67zM175.7 321.0h12.67v1.55h-12.67zM175.7 339.8h12.67v1.55h-12.67zM175.7 363.5h12.67v1.55h-12.67zM175.7 381.0h12.67v1.55h-12.67zM188.0 54.5h12.67v1.55h-12.67zM188.0 114.6h12.67v1.55h-12.67zM188.0 153.4h12.67v1.55h-12.67zM188.0 193.4h12.67v1.55h-12.67zM188.0 234.7h12.67v1.55h-12.67zM188.0 286.0h12.67v1.55h-12.67zM188.0 308.5h12.67v1.55h-12.67zM188.0 314.7h12.67v1.55h-12.67zM188.0 343.5h12.67v1.55h-12.67zM200.3 64.5h12.67v1.55h-12.67zM200.3 75.8h12.67v1.55h-12.67zM200.3 83.3h12.67v1.55h-12.67zM200.3 102.1h12.67v1.55h-12.67zM200.3 223.4h12.67v1.55h-12.67zM200.3 237.2h12.67v1.55h-12.67zM200.3 239.7h12.67v1.55h-12.67zM200.3 276.0h12.67v1.55h-12.67zM200.3 302.2h12.67v2.80h-12.67zM200.3 379.8h12.67v1.55h-12.67zM212.5 54.5h12.67v1.55h-12.67zM212.5 78.3h12.67v1.55h-12.67zM212.5 219.7h12.67v1.55h-12.67zM212.5 232.2h12.67v1.55h-12.67zM212.5 283.5h12.67v1.55h-12.67zM224.8 7.0h12.67v1.55h-12.67zM224.8 202.2h12.67v1.55h-12.67zM224.8 204.7h12.67v1.55h-12.67zM224.8 303.5h12.67v2.80h-12.67zM224.8 343.5h12.67v1.55h-12.67zM224.8 346.0h12.67v1.55h-12.67zM224.8 351.0h12.67v1.55h-12.67zM224.8 369.8h12.67v1.55h-12.67zM224.8 381.0h12.67v1.55h-12.67zM237.1 65.8h12.67v1.55h-12.67zM237.1 204.7h12.67v1.55h-12.67zM237.1 218.4h12.67v1.55h-12.67zM237.1 254.7h12.67v1.55h-12.67zM237.1 279.7h12.67v1.55h-12.67zM237.1 283.5h12.67v1.55h-12.67zM237.1 301.0h12.67v1.55h-12.67zM237.1 308.5h12.67v2.80h-12.67zM237.1 332.3h12.67v1.55h-12.67zM237.1 351.0h12.67v1.55h-12.67zM249.3 45.8h12.67v1.55h-12.67zM249.3 98.3h12.67v1.55h-12.67zM249.3 133.4h12.67v1.55h-12.67zM249.3 175.9h12.67v1.55h-12.67zM249.3 184.6h12.67v1.55h-12.67zM249.3 209.7h12.67v1.55h-12.67zM249.3 238.4h12.67v1.55h-12.67zM249.3 299.7h12.67v1.55h-12.67zM249.3 318.5h12.67v1.55h-12.67zM249.3 332.3h12.67v1.55h-12.67zM249.3 338.5h12.67v1.55h-12.67zM249.3 342.3h12.67v1.55h-12.67zM249.3 351.0h12.67v1.55h-12.67zM249.3 371.0h12.67v1.55h-12.67zM261.6 194.7h12.67v1.55h-12.67zM261.6 199.7h12.67v1.55h-12.67zM261.6 202.2h12.67v1.55h-12.67zM261.6 204.7h12.67v1.55h-12.67zM261.6 207.2h12.67v1.55h-12.67zM261.6 272.2h12.67v1.55h-12.67zM261.6 281.0h12.67v1.55h-12.67zM261.6 292.2h12.67v1.55h-12.67zM261.6 304.7h12.67v1.55h-12.67zM261.6 381.0h12.67v1.55h-12.67zM273.9 238.4h12.67v1.55h-12.67zM273.9 257.2h12.67v1.55h-12.67zM273.9 273.5h12.67v2.80h-12.67zM273.9 278.5h12.67v1.55h-12.67zM273.9 308.5h12.67v1.55h-12.67zM273.9 324.8h12.67v1.55h-12.67zM273.9 331.0h12.67v1.55h-12.67zM273.9 334.8h12.67v1.55h-12.67zM286.2 83.3h12.67v1.55h-12.67zM286.2 145.9h12.67v1.55h-12.67zM286.2 187.1h12.67v1.55h-12.67zM286.2 190.9h12.67v1.55h-12.67zM286.2 194.7h12.67v1.55h-12.67zM286.2 323.5h12.67v1.55h-12.67zM286.2 349.8h12.67v1.55h-12.67zM286.2 354.8h12.67v1.55h-12.67z"/><path fill="#14b5de" d="M65.3 53.3h12.67v1.55h-12.67zM65.3 64.5h12.67v1.55h-12.67zM65.3 67.0h12.67v1.55h-12.67zM65.3 72.1h12.67v1.55h-12.67zM65.3 93.3h12.67v1.55h-12.67zM65.3 107.1h12.67v1.55h-12.67zM65.3 114.6h12.67v1.55h-12.67zM65.3 139.6h12.67v1.55h-12.67zM65.3 143.4h12.67v1.55h-12.67zM65.3 164.6h12.67v1.55h-12.67zM65.3 169.6h12.67v1.55h-12.67zM65.3 174.6h12.67v1.55h-12.67zM65.3 179.6h12.67v1.55h-12.67zM65.3 203.4h12.67v1.55h-12.67zM65.3 218.4h12.67v1.55h-12.67zM65.3 244.7h12.67v1.55h-12.67zM65.3 247.2h12.67v1.55h-12.67zM65.3 252.2h12.67v1.55h-12.67zM65.3 258.5h12.67v1.55h-12.67zM65.3 271.0h12.67v1.55h-12.67zM65.3 281.0h12.67v1.55h-12.67zM65.3 283.5h12.67v2.80h-12.67zM65.3 288.5h12.67v1.55h-12.67zM65.3 291.0h12.67v1.55h-12.67zM65.3 294.7h12.67v1.55h-12.67zM65.3 302.2h12.67v1.55h-12.67zM65.3 306.0h12.67v1.55h-12.67zM65.3 323.5h12.67v1.55h-12.67zM65.3 328.5h12.67v2.80h-12.67zM65.3 343.5h12.67v1.55h-12.67zM65.3 354.8h12.67v1.55h-12.67zM65.3 359.8h12.67v1.55h-12.67zM65.3 366.0h12.67v1.55h-12.67zM65.3 378.5h12.67v1.55h-12.67zM77.6 7.0h12.67v1.55h-12.67zM77.6 33.3h12.67v1.55h-12.67zM77.6 43.3h12.67v1.55h-12.67zM77.6 50.8h12.67v1.55h-12.67zM77.6 78.3h12.67v1.55h-12.67zM77.6 80.8h12.67v1.55h-12.67zM77.6 84.6h12.67v1.55h-12.67zM77.6 108.3h12.67v1.55h-12.67zM77.6 129.6h12.67v1.55h-12.67zM77.6 135.9h12.67v1.55h-12.67zM77.6 142.1h12.67v1.55h-12.67zM77.6 162.1h12.67v2.80h-12.67zM77.6 167.1h12.67v1.55h-12.67zM77.6 182.1h12.67v1.55h-12.67zM77.6 184.6h12.67v1.55h-12.67zM77.6 189.6h12.67v1.55h-12.67zM77.6 194.7h12.67v1.55h-12.67zM77.6 214.7h12.67v1.55h-12.67zM77.6 217.2h12.67v1.55h-12.67zM77.6 237.2h12.67v2.80h-12.67zM77.6 244.7h12.67v1.55h-12.67zM77.6 249.7h12.67v2.80h-12.67zM77.6 281.0h12.67v1.55h-12.67zM77.6 288.5h12.67v1.55h-12.67zM77.6 291.0h12.67v1.55h-12.67zM77.6 297.2h12.67v4.05h-12.67zM77.6 312.2h12.67v1.55h-12.67zM77.6 314.7h12.67v1.55h-12.67zM77.6 346.0h12.67v1.55h-12.67zM77.6 352.3h12.67v1.55h-12.67zM77.6 358.5h12.67v1.55h-12.67zM77.6 372.3h12.67v1.55h-12.67zM77.6 377.3h12.67v1.55h-12.67zM77.6 379.8h12.67v1.55h-12.67zM89.8 14.5h12.67v1.55h-12.67zM89.8 27.0h12.67v2.80h-12.67zM89.8 34.5h12.67v1.55h-12.67zM89.8 50.8h12.67v1.55h-12.67zM89.8 55.8h12.67v2.80h-12.67zM89.8 69.6h12.67v1.55h-12.67zM89.8 74.6h12.67v1.55h-12.67zM89.8 82.1h12.67v1.55h-12.67zM89.8 93.3h12.67v1.55h-12.67zM89.8 110.8h12.67v1.55h-12.67zM89.8 130.8h12.67v5.30h-12.67zM89.8 145.9h12.67v1.55h-12.67zM89.8 154.6h12.67v1.55h-12.67zM89.8 168.4h12.67v1.55h-12.67zM89.8 170.9h12.67v1.55h-12.67zM89.8 180.9h12.67v1.55h-12.67zM89.8 185.9h12.67v1.55h-12.67zM89.8 192.1h12.67v1.55h-12.67zM89.8 199.7h12.67v1.55h-12.67zM89.8 204.7h12.67v1.55h-12.67zM89.8 212.2h12.67v1.55h-12.67zM89.8 229.7h12.67v2.80h-12.67zM89.8 234.7h12.67v1.55h-12.67zM89.8 245.9h12.67v1.55h-12.67zM89.8 248.4h12.67v1.55h-12.67zM89.8 263.5h12.67v1.55h-12.67zM89.8 276.0h12.67v1.55h-12.67zM89.8 296.0h12.67v1.55h-12.67zM89.8 316.0h12.67v1.55h-12.67zM89.8 321.0h12.67v1.55h-12.67zM89.8 326.0h12.67v1.55h-12.67zM89.8 339.8h12.67v1.55h-12.67zM89.8 344.8h12.67v1.55h-12.67zM89.8 354.8h12.67v1.55h-12.67zM89.8 361.0h12.67v1.55h-12.67zM89.8 363.5h12.67v4.05h-12.67zM89.8 371.0h12.67v1.55h-12.67zM89.8 374.8h12.67v2.80h-12.67zM102.1 9.5h12.67v1.55h-12.67zM102.1 19.5h12.67v1.55h-12.67zM102.1 24.5h12.67v1.55h-12.67zM102.1 68.3h12.67v1.55h-12.67zM102.1 73.3h12.67v1.55h-12.67zM102.1 88.3h12.67v1.55h-12.67zM102.1 90.8h12.67v2.80h-12.67zM102.1 115.8h12.67v1.55h-12.67zM102.1 129.6h12.67v1.55h-12.67zM102.1 132.1h12.67v1.55h-12.67zM102.1 148.4h12.67v1.55h-12.67zM102.1 175.9h12.67v1.55h-12.67zM102.1 190.9h12.67v1.55h-12.67zM102.1 202.2h12.67v2.80h-12.67zM102.1 223.4h12.67v1.55h-12.67zM102.1 248.4h12.67v1.55h-12.67zM102.1 253.4h12.67v1.55h-12.67zM102.1 279.7h12.67v1.55h-12.67zM102.1 282.2h12.67v1.55h-12.67zM102.1 284.7h12.67v1.55h-12.67zM102.1 293.5h12.67v1.55h-12.67zM102.1 297.2h12.67v1.55h-12.67zM102.1 314.7h12.67v1.55h-12.67zM102.1 317.2h12.67v1.55h-12.67zM102.1 327.3h12.67v1.55h-12.67zM102.1 332.3h12.67v1.55h-12.67zM102.1 337.3h12.67v1.55h-12.67zM102.1 342.3h12.67v1.55h-12.67zM102.1 348.5h12.67v1.55h-12.67zM102.1 353.5h12.67v1.55h-12.67zM102.1 362.3h12.67v1.55h-12.67zM102.1 364.8h12.67v2.80h-12.67zM102.1 378.5h12.67v1.55h-12.67zM114.4 24.5h12.67v1.55h-12.67zM114.4 44.5h12.67v1.55h-12.67zM114.4 59.5h12.67v1.55h-12.67zM114.4 64.5h12.67v1.55h-12.67zM114.4 67.0h12.67v1.55h-12.67zM114.4 73.3h12.67v2.80h-12.67zM114.4 77.1h12.67v1.55h-12.67zM114.4 85.8h12.67v1.55h-12.67zM114.4 125.8h12.67v1.55h-12.67zM114.4 139.6h12.67v1.55h-12.67zM114.4 148.4h12.67v1.55h-12.67zM114.4 177.1h12.67v1.55h-12.67zM114.4 179.6h12.67v1.55h-12.67zM114.4 194.7h12.67v1.55h-12.67zM114.4 203.4h12.67v1.55h-12.67zM114.4 205.9h12.67v1.55h-12.67zM114.4 215.9h12.67v1.55h-12.67zM114.4 218.4h12.67v1.55h-12.67zM114.4 239.7h12.67v1.55h-12.67zM114.4 250.9h12.67v1.55h-12.67zM114.4 253.4h12.67v1.55h-12.67zM114.4 261.0h12.67v1.55h-12.67zM114.4 271.0h12.67v2.80h-12.67zM114.4 284.7h12.67v4.05h-12.67zM114.4 296.0h12.67v2.80h-12.67zM114.4 302.2h12.67v1.55h-12.67zM114.4 318.5h12.67v2.80h-12.67zM114.4 328.5h12.67v1.55h-12.67zM114.4 334.8h12.67v2.80h-12.67zM114.4 343.5h12.67v1.55h-12.67zM114.4 354.8h12.67v2.80h-12.67zM114.4 362.3h12.67v1.55h-12.67zM114.4 364.8h12.67v1.55h-12.67zM126.6 9.5h12.67v2.80h-12.67zM126.6 14.5h12.67v1.55h-12.67zM126.6 20.8h12.67v1.55h-12.67zM126.6 33.3h12.67v1.55h-12.67zM126.6 38.3h12.67v1.55h-12.67zM126.6 47.0h12.67v1.55h-12.67zM126.6 53.3h12.67v2.80h-12.67zM126.6 59.5h12.67v1.55h-12.67zM126.6 65.8h12.67v1.55h-12.67zM126.6 68.3h12.67v1.55h-12.67zM126.6 72.1h12.67v2.80h-12.67zM126.6 94.6h12.67v1.55h-12.67zM126.6 100.8h12.67v1.55h-12.67zM126.6 108.3h12.67v1.55h-12.67zM126.6 115.8h12.67v1.55h-12.67zM126.6 118.3h12.67v1.55h-12.67zM126.6 149.6h12.67v1.55h-12.67zM126.6 155.9h12.67v2.80h-12.67zM126.6 160.9h12.67v1.55h-12.67zM126.6 163.4h12.67v1.55h-12.67zM126.6 174.6h12.67v2.80h-12.67zM126.6 183.4h12.67v2.80h-12.67zM126.6 189.6h12.67v1.55h-12.67zM126.6 194.7h12.67v1.55h-12.67zM126.6 202.2h12.67v1.55h-12.67zM126.6 208.4h12.67v1.55h-12.67zM126.6 215.9h12.67v1.55h-12.67zM126.6 218.4h12.67v1.55h-12.67zM126.6 228.4h12.67v1.55h-12.67zM126.6 234.7h12.67v1.55h-12.67zM126.6 257.2h12.67v2.80h-12.67zM126.6 272.2h12.67v1.55h-12.67zM126.6 276.0h12.67v1.55h-12.67zM126.6 293.5h12.67v1.55h-12.67zM126.6 323.5h12.67v1.55h-12.67zM126.6 326.0h12.67v1.55h-12.67zM126.6 328.5h12.67v1.55h-12.67zM126.6 332.3h12.67v1.55h-12.67zM126.6 336.0h12.67v1.55h-12.67zM126.6 342.3h12.67v1.55h-12.67zM126.6 344.8h12.67v1.55h-12.67zM126.6 358.5h12.67v1.55h-12.67zM126.6 368.5h12.67v1.55h-12.67zM126.6 371.0h12.67v1.55h-12.67zM126.6 376.0h12.67v1.55h-12.67zM138.9 12.0h12.67v1.55h-12.67zM138.9 14.5h12.67v1.55h-12.67zM138.9 39.5h12.67v1.55h-12.67zM138.9 42.0h12.67v1.55h-12.67zM138.9 50.8h12.67v1.55h-12.67zM138.9 79.6h12.67v1.55h-12.67zM138.9 87.1h12.67v1.55h-12.67zM138.9 89.6h12.67v2.80h-12.67zM138.9 97.1h12.67v1.55h-12.67zM138.9 118.3h12.67v1.55h-12.67zM138.9 129.6h12.67v1.55h-12.67zM138.9 148.4h12.67v1.55h-12.67zM138.9 157.1h12.67v1.55h-12.67zM138.9 177.1h12.67v1.55h-12.67zM138.9 189.6h12.67v2.80h-12.67zM138.9 199.7h12.67v1.55h-12.67zM138.9 213.4h12.67v1.55h-12.67zM138.9 227.2h12.67v1.55h-12.67zM138.9 245.9h12.67v1.55h-12.67zM138.9 248.4h12.67v1.55h-12.67zM138.9 261.0h12.67v1.55h-12.67zM138.9 271.0h12.67v1.55h-12.67zM138.9 274.7h12.67v4.05h-12.67zM138.9 282.2h12.67v1.55h-12.67zM138.9 289.7h12.67v1.55h-12.67zM138.9 312.2h12.67v1.55h-12.67zM138.9 319.8h12.67v1.55h-12.67zM138.9 323.5h12.67v1.55h-12.67zM138.9 353.5h12.67v1.55h-12.67zM138.9 377.3h12.67v2.80h-12.67zM151.2 13.3h12.67v1.55h-12.67zM151.2 38.3h12.67v1.55h-12.67zM151.2 49.5h12.67v2.80h-12.67zM151.2 59.5h12.67v2.80h-12.67zM151.2 74.6h12.67v1.55h-12.67zM151.2 83.3h12.67v1.55h-12.67zM151.2 107.1h12.67v1.55h-12.67zM151.2 110.8h12.67v1.55h-12.67zM151.2 117.1h12.67v1.55h-12.67zM151.2 123.3h12.67v1.55h-12.67zM151.2 128.3h12.67v1.55h-12.67zM151.2 132.1h12.67v1.55h-12.67zM151.2 134.6h12.67v1.55h-12.67zM151.2 147.1h12.67v1.55h-12.67zM151.2 162.1h12.67v1.55h-12.67zM151.2 175.9h12.67v1.55h-12.67zM151.2 185.9h12.67v1.55h-12.67zM151.2 188.4h12.67v1.55h-12.67zM151.2 190.9h12.67v1.55h-12.67zM151.2 200.9h12.67v2.80h-12.67zM151.2 204.7h12.67v1.55h-12.67zM151.2 208.4h12.67v1.55h-12.67zM151.2 214.7h12.67v1.55h-12.67zM151.2 218.4h12.67v1.55h-12.67zM151.2 220.9h12.67v1.55h-12.67zM151.2 230.9h12.67v1.55h-12.67zM151.2 239.7h12.67v1.55h-12.67zM151.2 243.4h12.67v1.55h-12.67zM151.2 250.9h12.67v1.55h-12.67zM151.2 257.2h12.67v1.55h-12.67zM151.2 268.5h12.67v1.55h-12.67zM151.2 273.5h12.67v1.55h-12.67zM151.2 276.0h12.67v1.55h-12.67zM151.2 291.0h12.67v1.55h-12.67zM151.2 297.2h12.67v1.55h-12.67zM151.2 307.2h12.67v1.55h-12.67zM151.2 316.0h12.67v1.55h-12.67zM151.2 329.8h12.67v1.55h-12.67zM151.2 333.5h12.67v1.55h-12.67zM151.2 344.8h12.67v1.55h-12.67zM151.2 358.5h12.67v1.55h-12.67zM151.2 371.0h12.67v1.55h-12.67zM151.2 377.3h12.67v1.55h-12.67zM163.5 22.0h12.67v1.55h-12.67zM163.5 30.8h12.67v1.55h-12.67zM163.5 34.5h12.67v1.55h-12.67zM163.5 38.3h12.67v1.55h-12.67zM163.5 45.8h12.67v2.80h-12.67zM163.5 78.3h12.67v1.55h-12.67zM163.5 95.8h12.67v1.55h-12.67zM163.5 104.6h12.67v1.55h-12.67zM163.5 115.8h12.67v1.55h-12.67zM163.5 179.6h12.67v1.55h-12.67zM163.5 185.9h12.67v1.55h-12.67zM163.5 190.9h12.67v1.55h-12.67zM163.5 193.4h12.67v4.05h-12.67zM163.5 199.7h12.67v1.55h-12.67zM163.5 205.9h12.67v1.55h-12.67zM163.5 223.4h12.67v1.55h-12.67zM163.5 243.4h12.67v1.55h-12.67zM163.5 259.7h12.67v1.55h-12.67zM163.5 263.5h12.67v1.55h-12.67zM163.5 273.5h12.67v2.80h-12.67zM163.5 277.2h12.67v2.80h-12.67zM163.5 293.5h12.67v1.55h-12.67zM163.5 299.7h12.67v1.55h-12.67zM163.5 304.7h12.67v1.55h-12.67zM163.5 317.2h12.67v1.55h-12.67zM163.5 321.0h12.67v1.55h-12.67zM163.5 327.3h12.67v1.55h-12.67zM163.5 338.5h12.67v2.80h-12.67zM163.5 342.3h12.67v1.55h-12.67zM163.5 349.8h12.67v1.55h-12.67zM163.5 361.0h12.67v1.55h-12.67zM175.7 15.8h12.67v2.80h-12.67zM175.7 25.8h12.67v1.55h-12.67zM175.7 82.1h12.67v1.55h-12.67zM175.7 90.8h12.67v2.80h-12.67zM175.7 115.8h12.67v1.55h-12.67zM175.7 152.1h12.67v1.55h-12.67zM175.7 155.9h12.67v1.55h-12.67zM175.7 158.4h12.67v2.80h-12.67zM175.7 162.1h12.67v1.55h-12.67zM175.7 165.9h12.67v1.55h-12.67zM175.7 168.4h12.67v1.55h-12.67zM175.7 177.1h12.67v1.55h-12.67zM175.7 179.6h12.67v4.05h-12.67zM175.7 184.6h12.67v1.55h-12.67zM175.7 207.2h12.67v1.55h-12.67zM175.7 210.9h12.67v1.55h-12.67zM175.7 220.9h12.67v1.55h-12.67zM175.7 223.4h12.67v1.55h-12.67zM175.7 229.7h12.67v1.55h-12.67zM175.7 242.2h12.67v1.55h-12.67zM175.7 258.5h12.67v1.55h-12.67zM175.7 272.2h12.67v1.55h-12.67zM175.7 276.0h12.67v1.55h-12.67zM175.7 288.5h12.67v2.80h-12.67zM175.7 293.5h12.67v1.55h-12.67zM175.7 296.0h12.67v1.55h-12.67zM175.7 302.2h12.67v1.55h-12.67zM175.7 311.0h12.67v1.55h-12.67zM175.7 324.8h12.67v1.55h-12.67zM175.7 328.5h12.67v1.55h-12.67zM175.7 348.5h12.67v1.55h-12.67zM175.7 367.3h12.67v1.55h-12.67zM175.7 379.8h12.67v1.55h-12.67zM188.0 35.8h12.67v1.55h-12.67zM188.0 42.0h12.67v4.05h-12.67zM188.0 48.3h12.67v1.55h-12.67zM188.0 59.5h12.67v1.55h-12.67zM188.0 63.3h12.67v2.80h-12.67zM188.0 88.3h12.67v1.55h-12.67zM188.0 90.8h12.67v1.55h-12.67zM188.0 110.8h12.67v1.55h-12.67zM188.0 115.8h12.67v1.55h-12.67zM188.0 118.3h12.67v1.55h-12.67zM188.0 123.3h12.67v1.55h-12.67zM188.0 130.8h12.67v1.55h-12.67zM188.0 140.9h12.67v1.55h-12.67zM188.0 148.4h12.67v4.05h-12.67zM188.0 154.6h12.67v1.55h-12.67zM188.0 160.9h12.67v1.55h-12.67zM188.0 168.4h12.67v1.55h-12.67zM188.0 173.4h12.67v1.55h-12.67zM188.0 204.7h12.67v1.55h-12.67zM188.0 208.4h12.67v2.80h-12.67zM188.0 225.9h12.67v2.80h-12.67zM188.0 229.7h12.67v2.80h-12.67zM188.0 258.5h12.67v1.55h-12.67zM188.0 268.5h12.67v1.55h-12.67zM188.0 272.2h12.67v1.55h-12.67zM188.0 279.7h12.67v1.55h-12.67zM188.0 283.5h12.67v1.55h-12.67zM188.0 293.5h12.67v2.80h-12.67zM188.0 297.2h12.67v1.55h-12.67zM188.0 307.2h12.67v1.55h-12.67zM188.0 336.0h12.67v1.55h-12.67zM188.0 338.5h12.67v1.55h-12.67zM188.0 341.0h12.67v2.80h-12.67zM188.0 356.0h12.67v1.55h-12.67zM188.0 366.0h12.67v2.80h-12.67zM200.3 7.0h12.67v1.55h-12.67zM200.3 13.3h12.67v2.80h-12.67zM200.3 39.5h12.67v1.55h-12.67zM200.3 42.0h12.67v1.55h-12.67zM200.3 48.3h12.67v1.55h-12.67zM200.3 50.8h12.67v1.55h-12.67zM200.3 53.3h12.67v1.55h-12.67zM200.3 58.3h12.67v2.80h-12.67zM200.3 62.0h12.67v1.55h-12.67zM200.3 65.8h12.67v4.05h-12.67zM200.3 78.3h12.67v1.55h-12.67zM200.3 95.8h12.67v1.55h-12.67zM200.3 98.3h12.67v1.55h-12.67zM200.3 100.8h12.67v1.55h-12.67zM200.3 115.8h12.67v1.55h-12.67zM200.3 119.6h12.67v1.55h-12.67zM200.3 134.6h12.67v1.55h-12.67zM200.3 149.6h12.67v1.55h-12.67zM200.3 154.6h12.67v1.55h-12.67zM200.3 160.9h12.67v1.55h-12.67zM200.3 168.4h12.67v1.55h-12.67zM200.3 179.6h12.67v1.55h-12.67zM200.3 207.2h12.67v2.80h-12.67zM200.3 212.2h12.67v1.55h-12.67zM200.3 225.9h12.67v1.55h-12.67zM200.3 228.4h12.67v1.55h-12.67zM200.3 243.4h12.67v1.55h-12.67zM200.3 247.2h12.67v1.55h-12.67zM200.3 249.7h12.67v1.55h-12.67zM200.3 255.9h12.67v1.55h-12.67zM200.3 266.0h12.67v1.55h-12.67zM200.3 282.2h12.67v1.55h-12.67zM200.3 293.5h12.67v1.55h-12.67zM200.3 301.0h12.67v1.55h-12.67zM200.3 304.7h12.67v1.55h-12.67zM200.3 318.5h12.67v1.55h-12.67zM200.3 339.8h12.67v1.55h-12.67zM200.3 348.5h12.67v2.80h-12.67zM200.3 371.0h12.67v1.55h-12.67zM212.5 24.5h12.67v1.55h-12.67zM212.5 29.5h12.67v1.55h-12.67zM212.5 34.5h12.67v1.55h-12.67zM212.5 42.0h12.67v1.55h-12.67zM212.5 49.5h12.67v1.55h-12.67zM212.5 55.8h12.67v1.55h-12.67zM212.5 65.8h12.67v1.55h-12.67zM212.5 72.1h12.67v1.55h-12.67zM212.5 74.6h12.67v1.55h-12.67zM212.5 84.6h12.67v1.55h-12.67zM212.5 89.6h12.67v1.55h-12.67zM212.5 99.6h12.67v1.55h-12.67zM212.5 123.3h12.67v1.55h-12.67zM212.5 127.1h12.67v2.80h-12.67zM212.5 144.6h12.67v1.55h-12.67zM212.5 169.6h12.67v1.55h-12.67zM212.5 174.6h12.67v1.55h-12.67zM212.5 188.4h12.67v1.55h-12.67zM212.5 204.7h12.67v1.55h-12.67zM212.5 208.4h12.67v1.55h-12.67zM212.5 234.7h12.67v1.55h-12.67zM212.5 244.7h12.67v1.55h-12.67zM212.5 252.2h12.67v1.55h-12.67zM212.5 255.9h12.67v1.55h-12.67zM212.5 277.2h12.67v1.55h-12.67zM212.5 281.0h12.67v2.80h-12.67zM212.5 287.2h12.67v1.55h-12.67zM224.8 12.0h12.67v4.05h-12.67zM224.8 22.0h12.67v1.55h-12.67zM224.8 29.5h12.67v1.55h-12.67zM224.8 35.8h12.67v2.80h-12.67zM224.8 44.5h12.67v4.05h-12.67zM224.8 65.8h12.67v1.55h-12.67zM224.8 68.3h12.67v1.55h-12.67zM224.8 70.8h12.67v1.55h-12.67zM224.8 73.3h12.67v1.55h-12.67zM224.8 79.6h12.67v1.55h-12.67zM224.8 87.1h12.67v2.80h-12.67zM224.8 90.8h12.67v1.55h-12.67zM224.8 93.3h12.67v1.55h-12.67zM224.8 100.8h12.67v1.55h-12.67zM224.8 103.3h12.67v2.80h-12.67zM224.8 122.1h12.67v2.80h-12.67zM224.8 128.3h12.67v1.55h-12.67zM224.8 143.4h12.67v2.80h-12.67zM224.8 149.6h12.67v1.55h-12.67zM224.8 152.1h12.67v1.55h-12.67zM224.8 159.6h12.67v1.55h-12.67zM224.8 187.1h12.67v1.55h-12.67zM224.8 194.7h12.67v1.55h-12.67zM224.8 200.9h12.67v1.55h-12.67zM224.8 205.9h12.67v1.55h-12.67zM224.8 212.2h12.67v1.55h-12.67zM224.8 215.9h12.67v1.55h-12.67zM224.8 218.4h12.67v1.55h-12.67zM224.8 227.2h12.67v1.55h-12.67zM224.8 229.7h12.67v1.55h-12.67zM224.8 239.7h12.67v1.55h-12.67zM224.8 252.2h12.67v1.55h-12.67zM224.8 254.7h12.67v1.55h-12.67zM224.8 264.7h12.67v1.55h-12.67zM224.8 296.0h12.67v1.55h-12.67zM224.8 309.7h12.67v1.55h-12.67zM224.8 338.5h12.67v1.55h-12.67zM224.8 349.8h12.67v1.55h-12.67zM224.8 352.3h12.67v1.55h-12.67zM224.8 361.0h12.67v1.55h-12.67zM224.8 363.5h12.67v1.55h-12.67zM224.8 372.3h12.67v1.55h-12.67zM224.8 379.8h12.67v1.55h-12.67zM237.1 9.5h12.67v1.55h-12.67zM237.1 13.3h12.67v1.55h-12.67zM237.1 20.8h12.67v1.55h-12.67zM237.1 23.3h12.67v2.80h-12.67zM237.1 39.5h12.67v1.55h-12.67zM237.1 42.0h12.67v1.55h-12.67zM237.1 47.0h12.67v1.55h-12.67zM237.1 50.8h12.67v2.80h-12.67zM237.1 62.0h12.67v1.55h-12.67zM237.1 68.3h12.67v1.55h-12.67zM237.1 74.6h12.67v1.55h-12.67zM237.1 87.1h12.67v1.55h-12.67zM237.1 92.1h12.67v1.55h-12.67zM237.1 104.6h12.67v1.55h-12.67zM237.1 108.3h12.67v1.55h-12.67zM237.1 123.3h12.67v1.55h-12.67zM237.1 128.3h12.67v1.55h-12.67zM237.1 132.1h12.67v1.55h-12.67zM237.1 134.6h12.67v1.55h-12.67zM237.1 139.6h12.67v2.80h-12.67zM237.1 157.1h12.67v1.55h-12.67zM237.1 163.4h12.67v1.55h-12.67zM237.1 165.9h12.67v1.55h-12.67zM237.1 169.6h12.67v2.80h-12.67zM237.1 178.4h12.67v1.55h-12.67zM237.1 187.1h12.67v1.55h-12.67zM237.1 190.9h12.67v1.55h-12.67zM237.1 197.2h12.67v1.55h-12.67zM237.1 200.9h12.67v1.55h-12.67zM237.1 209.7h12.67v1.55h-12.67zM237.1 217.2h12.67v1.55h-12.67zM237.1 219.7h12.67v1.55h-12.67zM237.1 223.4h12.67v1.55h-12.67zM237.1 258.5h12.67v1.55h-12.67zM237.1 271.0h12.67v1.55h-12.67zM237.1 277.2h12.67v1.55h-12.67zM237.1 291.0h12.67v1.55h-12.67zM237.1 293.5h12.67v1.55h-12.67zM237.1 314.7h12.67v1.55h-12.67zM237.1 331.0h12.67v1.55h-12.67zM237.1 336.0h12.67v1.55h-12.67zM237.1 342.3h12.67v1.55h-12.67zM237.1 368.5h12.67v1.55h-12.67zM237.1 371.0h12.67v1.55h-12.67zM237.1 374.8h12.67v1.55h-12.67zM249.3 7.0h12.67v2.80h-12.67zM249.3 12.0h12.67v1.55h-12.67zM249.3 14.5h12.67v1.55h-12.67zM249.3 27.0h12.67v1.55h-12.67zM249.3 35.8h12.67v1.55h-12.67zM249.3 39.5h12.67v1.55h-12.67zM249.3 42.0h12.67v1.55h-12.67zM249.3 54.5h12.67v1.55h-12.67zM249.3 59.5h12.67v1.55h-12.67zM249.3 67.0h12.67v2.80h-12.67zM249.3 79.6h12.67v1.55h-12.67zM249.3 85.8h12.67v1.55h-12.67zM249.3 89.6h12.67v1.55h-12.67zM249.3 100.8h12.67v1.55h-12.67zM249.3 103.3h12.67v1.55h-12.67zM249.3 105.8h12.67v1.55h-12.67zM249.3 110.8h12.67v1.55h-12.67zM249.3 118.3h12.67v1.55h-12.67zM249.3 122.1h12.67v2.80h-12.67zM249.3 128.3h12.67v1.55h-12.67zM249.3 130.8h12.67v1.55h-12.67zM249.3 135.9h12.67v2.80h-12.67zM249.3 140.9h12.67v1.55h-12.67zM249.3 143.4h12.67v1.55h-12.67zM249.3 147.1h12.67v1.55h-12.67zM249.3 149.6h12.67v1.55h-12.67zM249.3 155.9h12.67v1.55h-12.67zM249.3 158.4h12.67v1.55h-12.67zM249.3 165.9h12.67v1.55h-12.67zM249.3 169.6h12.67v1.55h-12.67zM249.3 172.1h12.67v1.55h-12.67zM249.3 177.1h12.67v1.55h-12.67zM249.3 180.9h12.67v1.55h-12.67zM249.3 187.1h12.67v1.55h-12.67zM249.3 213.4h12.67v1.55h-12.67zM249.3 217.2h12.67v1.55h-12.67zM249.3 227.2h12.67v2.80h-12.67zM249.3 230.9h12.67v2.80h-12.67zM249.3 240.9h12.67v1.55h-12.67zM249.3 252.2h12.67v1.55h-12.67zM249.3 271.0h12.67v1.55h-12.67zM249.3 273.5h12.67v1.55h-12.67zM249.3 278.5h12.67v1.55h-12.67zM249.3 286.0h12.67v1.55h-12.67zM249.3 289.7h12.67v2.80h-12.67zM249.3 306.0h12.67v2.80h-12.67zM249.3 322.3h12.67v1.55h-12.67zM249.3 326.0h12.67v1.55h-12.67zM249.3 346.0h12.67v1.55h-12.67zM249.3 348.5h12.67v1.55h-12.67zM249.3 366.0h12.67v1.55h-12.67zM249.3 374.8h12.67v1.55h-12.67zM249.3 379.8h12.67v1.55h-12.67zM261.6 9.5h12.67v2.80h-12.67zM261.6 15.8h12.67v1.55h-12.67zM261.6 18.3h12.67v1.55h-12.67zM261.6 20.8h12.67v1.55h-12.67zM261.6 25.8h12.67v1.55h-12.67zM261.6 29.5h12.67v1.55h-12.67zM261.6 32.0h12.67v1.55h-12.67zM261.6 37.0h12.67v1.55h-12.67zM261.6 39.5h12.67v1.55h-12.67zM261.6 42.0h12.67v1.55h-12.67zM261.6 54.5h12.67v1.55h-12.67zM261.6 57.0h12.67v1.55h-12.67zM261.6 70.8h12.67v2.80h-12.67zM261.6 80.8h12.67v1.55h-12.67zM261.6 89.6h12.67v1.55h-12.67zM261.6 103.3h12.67v2.80h-12.67zM261.6 117.1h12.67v1.55h-12.67zM261.6 119.6h12.67v1.55h-12.67zM261.6 128.3h12.67v1.55h-12.67zM261.6 130.8h12.67v1.55h-12.67zM261.6 139.6h12.67v1.55h-12.67zM261.6 142.1h12.67v1.55h-12.67zM261.6 145.9h12.67v1.55h-12.67zM261.6 152.1h12.67v1.55h-12.67zM261.6 174.6h12.67v1.55h-12.67zM261.6 187.1h12.67v1.55h-12.67zM261.6 213.4h12.67v1.55h-12.67zM261.6 217.2h12.67v4.05h-12.67zM261.6 228.4h12.67v1.55h-12.67zM261.6 234.7h12.67v1.55h-12.67zM261.6 237.2h12.67v1.55h-12.67zM261.6 240.9h12.67v1.55h-12.67zM261.6 266.0h12.67v1.55h-12.67zM261.6 273.5h12.67v4.05h-12.67zM261.6 288.5h12.67v2.80h-12.67zM261.6 298.5h12.67v1.55h-12.67zM261.6 301.0h12.67v1.55h-12.67zM261.6 306.0h12.67v1.55h-12.67zM261.6 312.2h12.67v1.55h-12.67zM261.6 321.0h12.67v1.55h-12.67zM261.6 329.8h12.67v1.55h-12.67zM261.6 342.3h12.67v2.80h-12.67zM261.6 359.8h12.67v1.55h-12.67zM261.6 363.5h12.67v1.55h-12.67zM261.6 378.5h12.67v1.55h-12.67zM273.9 12.0h12.67v1.55h-12.67zM273.9 22.0h12.67v1.55h-12.67zM273.9 24.5h12.67v1.55h-12.67zM273.9 28.3h12.67v1.55h-12.67zM273.9 35.8h12.67v1.55h-12.67zM273.9 39.5h12.67v1.55h-12.67zM273.9 44.5h12.67v1.55h-12.67zM273.9 47.0h12.67v2.80h-12.67zM273.9 50.8h12.67v1.55h-12.67zM273.9 54.5h12.67v1.55h-12.67zM273.9 57.0h12.67v1.55h-12.67zM273.9 69.6h12.67v1.55h-12.67zM273.9 78.3h12.67v1.55h-12.67zM273.9 80.8h12.67v1.55h-12.67zM273.9 85.8h12.67v1.55h-12.67zM273.9 92.1h12.67v1.55h-12.67zM273.9 100.8h12.67v1.55h-12.67zM273.9 103.3h12.67v2.80h-12.67zM273.9 109.6h12.67v2.80h-12.67zM273.9 115.8h12.67v1.55h-12.67zM273.9 118.3h12.67v1.55h-12.67zM273.9 122.1h12.67v1.55h-12.67zM273.9 129.6h12.67v4.05h-12.67zM273.9 157.1h12.67v2.80h-12.67zM273.9 162.1h12.67v2.80h-12.67zM273.9 165.9h12.67v1.55h-12.67zM273.9 172.1h12.67v2.80h-12.67zM273.9 179.6h12.67v1.55h-12.67zM273.9 198.4h12.67v1.55h-12.67zM273.9 200.9h12.67v1.55h-12.67zM273.9 203.4h12.67v1.55h-12.67zM273.9 208.4h12.67v1.55h-12.67zM273.9 240.9h12.67v1.55h-12.67zM273.9 250.9h12.67v1.55h-12.67zM273.9 277.2h12.67v1.55h-12.67zM273.9 281.0h12.67v1.55h-12.67zM273.9 291.0h12.67v1.55h-12.67zM273.9 294.7h12.67v2.80h-12.67zM273.9 299.7h12.67v1.55h-12.67zM273.9 303.5h12.67v1.55h-12.67zM273.9 313.5h12.67v2.80h-12.67zM273.9 323.5h12.67v1.55h-12.67zM273.9 344.8h12.67v1.55h-12.67zM273.9 366.0h12.67v1.55h-12.67zM273.9 368.5h12.67v2.80h-12.67zM286.2 8.3h12.67v2.80h-12.67zM286.2 13.3h12.67v2.80h-12.67zM286.2 28.3h12.67v2.80h-12.67zM286.2 33.3h12.67v5.30h-12.67zM286.2 44.5h12.67v1.55h-12.67zM286.2 58.3h12.67v2.80h-12.67zM286.2 68.3h12.67v1.55h-12.67zM286.2 88.3h12.67v1.55h-12.67zM286.2 109.6h12.67v1.55h-12.67zM286.2 114.6h12.67v2.80h-12.67zM286.2 123.3h12.67v1.55h-12.67zM286.2 125.8h12.67v1.55h-12.67zM286.2 130.8h12.67v1.55h-12.67zM286.2 134.6h12.67v1.55h-12.67zM286.2 142.1h12.67v1.55h-12.67zM286.2 149.6h12.67v1.55h-12.67zM286.2 157.1h12.67v1.55h-12.67zM286.2 162.1h12.67v1.55h-12.67zM286.2 169.6h12.67v1.55h-12.67zM286.2 178.4h12.67v1.55h-12.67zM286.2 183.4h12.67v1.55h-12.67zM286.2 189.6h12.67v1.55h-12.67zM286.2 200.9h12.67v1.55h-12.67zM286.2 203.4h12.67v1.55h-12.67zM286.2 207.2h12.67v1.55h-12.67zM286.2 227.2h12.67v1.55h-12.67zM286.2 233.4h12.67v1.55h-12.67zM286.2 238.4h12.67v2.80h-12.67zM286.2 248.4h12.67v1.55h-12.67zM286.2 257.2h12.67v1.55h-12.67zM286.2 259.7h12.67v1.55h-12.67zM286.2 301.0h12.67v1.55h-12.67zM286.2 303.5h12.67v1.55h-12.67zM286.2 317.2h12.67v1.55h-12.67zM286.2 319.8h12.67v1.55h-12.67zM286.2 348.5h12.67v1.55h-12.67zM286.2 352.3h12.67v1.55h-12.67z"/><path fill="#137cca" d="M65.3 58.3h12.67v1.55h-12.67zM65.3 60.8h12.67v1.55h-12.67zM65.3 92.1h12.67v1.55h-12.67zM65.3 124.6h12.67v1.55h-12.67zM65.3 145.9h12.67v1.55h-12.67zM65.3 172.1h12.67v1.55h-12.67zM65.3 178.4h12.67v1.55h-12.67zM65.3 207.2h12.67v1.55h-12.67zM65.3 214.7h12.67v1.55h-12.67zM65.3 238.4h12.67v1.55h-12.67zM65.3 264.7h12.67v1.55h-12.67zM65.3 358.5h12.67v1.55h-12.67zM65.3 369.8h12.67v1.55h-12.67zM77.6 42.0h12.67v1.55h-12.67zM77.6 49.5h12.67v1.55h-12.67zM77.6 62.0h12.67v1.55h-12.67zM77.6 87.1h12.67v2.80h-12.67zM77.6 98.3h12.67v1.55h-12.67zM77.6 147.1h12.67v1.55h-12.67zM77.6 168.4h12.67v1.55h-12.67zM77.6 179.6h12.67v1.55h-12.67zM77.6 193.4h12.67v1.55h-12.67zM77.6 195.9h12.67v4.05h-12.67zM77.6 204.7h12.67v1.55h-12.67zM77.6 245.9h12.67v1.55h-12.67zM77.6 252.2h12.67v1.55h-12.67zM77.6 278.5h12.67v1.55h-12.67zM77.6 333.5h12.67v1.55h-12.67zM77.6 343.5h12.67v1.55h-12.67zM77.6 347.3h12.67v1.55h-12.67zM77.6 361.0h12.67v2.80h-12.67zM77.6 364.8h12.67v1.55h-12.67zM77.6 378.5h12.67v1.55h-12.67zM89.8 13.3h12.67v1.55h-12.67zM89.8 32.0h12.67v1.55h-12.67zM89.8 38.3h12.67v1.55h-12.67zM89.8 148.4h12.67v1.55h-12.67zM89.8 184.6h12.67v1.55h-12.67zM89.8 195.9h12.67v1.55h-12.67zM89.8 219.7h12.67v1.55h-12.67zM89.8 286.0h12.67v1.55h-12.67zM89.8 301.0h12.67v1.55h-12.67zM89.8 308.5h12.67v1.55h-12.67zM89.8 319.8h12.67v1.55h-12.67zM89.8 351.0h12.67v1.55h-12.67zM89.8 367.3h12.67v1.55h-12.67zM89.8 381.0h12.67v1.55h-12.67zM102.1 8.3h12.67v1.55h-12.67zM102.1 18.3h12.67v1.55h-12.67zM102.1 20.8h12.67v1.55h-12.67zM102.1 74.6h12.67v1.55h-12.67zM102.1 87.1h12.67v1.55h-12.67zM102.1 110.8h12.67v1.55h-12.67zM102.1 113.3h12.67v1.55h-12.67zM102.1 135.9h12.67v1.55h-12.67zM102.1 140.9h12.67v1.55h-12.67zM102.1 153.4h12.67v1.55h-12.67zM102.1 164.6h12.67v1.55h-12.67zM102.1 232.2h12.67v1.55h-12.67zM102.1 242.2h12.67v1.55h-12.67zM102.1 257.2h12.67v1.55h-12.67zM102.1 302.2h12.67v1.55h-12.67zM102.1 306.0h12.67v1.55h-12.67zM102.1 311.0h12.67v1.55h-12.67zM102.1 356.0h12.67v1.55h-12.67zM102.1 376.0h12.67v1.55h-12.67zM114.4 13.3h12.67v1.55h-12.67zM114.4 62.0h12.67v1.55h-12.67zM114.4 94.6h12.67v1.55h-12.67zM114.4 138.4h12.67v1.55h-12.67zM114.4 198.4h12.67v1.55h-12.67zM114.4 202.2h12.67v1.55h-12.67zM114.4 204.7h12.67v1.55h-12.67zM114.4 230.9h12.67v1.55h-12.67zM114.4 255.9h12.67v1.55h-12.67zM114.4 292.2h12.67v1.55h-12.67zM114.4 298.5h12.67v1.55h-12.67zM114.4 314.7h12.67v1.55h-12.67zM114.4 322.3h12.67v1.55h-12.67zM114.4 342.3h12.67v1.55h-12.67zM114.4 357.3h12.67v1.55h-12.67zM114.4 361.0h12.67v1.55h-12.67zM114.4 369.8h12.67v2.80h-12.67zM126.6 124.6h12.67v1.55h-12.67zM126.6 127.1h12.67v1.55h-12.67zM126.6 139.6h12.67v1.55h-12.67zM126.6 190.9h12.67v1.55h-12.67zM126.6 240.9h12.67v1.55h-12.67zM126.6 252.2h12.67v1.55h-12.67zM126.6 261.0h12.67v2.80h-12.67zM126.6 274.7h12.67v1.55h-12.67zM126.6 303.5h12.67v1.55h-12.67zM126.6 317.2h12.67v2.80h-12.67zM126.6 329.8h12.67v2.80h-12.67zM126.6 337.3h12.67v2.80h-12.67zM126.6 366.0h12.67v1.55h-12.67zM126.6 381.0h12.67v1.55h-12.67zM138.9 37.0h12.67v1.55h-12.67zM138.9 73.3h12.67v1.55h-12.67zM138.9 114.6h12.67v2.80h-12.67zM138.9 124.6h12.67v1.55h-12.67zM138.9 164.6h12.67v1.55h-12.67zM138.9 204.7h12.67v1.55h-12.67zM138.9 207.2h12.67v1.55h-12.67zM138.9 240.9h12.67v1.55h-12.67zM138.9 273.5h12.67v1.55h-12.67zM138.9 288.5h12.67v1.55h-12.67zM138.9 303.5h12.67v1.55h-12.67zM138.9 308.5h12.67v1.55h-12.67zM138.9 364.8h12.67v1.55h-12.67zM151.2 22.0h12.67v2.80h-12.67zM151.2 42.0h12.67v1.55h-12.67zM151.2 85.8h12.67v2.80h-12.67zM151.2 122.1h12.67v1.55h-12.67zM151.2 124.6h12.67v1.55h-12.67zM151.2 179.6h12.67v1.55h-12.67zM151.2 197.2h12.67v2.80h-12.67zM151.2 215.9h12.67v1.55h-12.67zM151.2 286.0h12.67v1.55h-12.67zM151.2 311.0h12.67v1.55h-12.67zM151.2 334.8h12.67v1.55h-12.67zM151.2 356.0h12.67v1.55h-12.67zM151.2 366.0h12.67v1.55h-12.67zM151.2 372.3h12.67v5.30h-12.67zM151.2 381.0h12.67v1.55h-12.67zM163.5 50.8h12.67v1.55h-12.67zM163.5 73.3h12.67v1.55h-12.67zM163.5 98.3h12.67v1.55h-12.67zM163.5 103.3h12.67v1.55h-12.67zM163.5 117.1h12.67v1.55h-12.67zM163.5 135.9h12.67v1.55h-12.67zM163.5 138.4h12.67v1.55h-12.67zM163.5 182.1h12.67v1.55h-12.67zM163.5 219.7h12.67v1.55h-12.67zM163.5 228.4h12.67v1.55h-12.67zM163.5 238.4h12.67v1.55h-12.67zM163.5 242.2h12.67v1.55h-12.67zM163.5 255.9h12.67v1.55h-12.67zM163.5 268.5h12.67v1.55h-12.67zM163.5 296.0h12.67v1.55h-12.67zM163.5 314.7h12.67v1.55h-12.67zM163.5 326.0h12.67v1.55h-12.67zM163.5 348.5h12.67v1.55h-12.67zM163.5 367.3h12.67v1.55h-12.67zM163.5 373.5h12.67v1.55h-12.67zM175.7 37.0h12.67v1.55h-12.67zM175.7 50.8h12.67v1.55h-12.67zM175.7 83.3h12.67v1.55h-12.67zM175.7 97.1h12.67v1.55h-12.67zM175.7 102.1h12.67v1.55h-12.67zM175.7 190.9h12.67v1.55h-12.67zM175.7 202.2h12.67v1.55h-12.67zM175.7 232.2h12.67v1.55h-12.67zM175.7 279.7h12.67v1.55h-12.67zM175.7 297.2h12.67v1.55h-12.67zM175.7 309.7h12.67v1.55h-12.67zM175.7 344.8h12.67v1.55h-12.67zM175.7 373.5h12.67v1.55h-12.67zM188.0 33.3h12.67v1.55h-12.67zM188.0 58.3h12.67v1.55h-12.67zM188.0 67.0h12.67v1.55h-12.67zM188.0 74.6h12.67v1.55h-12.67zM188.0 112.1h12.67v1.55h-12.67zM188.0 117.1h12.67v1.55h-12.67zM188.0 119.6h12.67v1.55h-12.67zM188.0 185.9h12.67v1.55h-12.67zM188.0 200.9h12.67v2.80h-12.67zM188.0 205.9h12.67v1.55h-12.67zM188.0 235.9h12.67v1.55h-12.67zM188.0 243.4h12.67v1.55h-12.67zM188.0 278.5h12.67v1.55h-12.67zM188.0 299.7h12.67v1.55h-12.67zM188.0 334.8h12.67v1.55h-12.67zM188.0 368.5h12.67v1.55h-12.67zM200.3 24.5h12.67v1.55h-12.67zM200.3 118.3h12.67v1.55h-12.67zM200.3 158.4h12.67v1.55h-12.67zM200.3 177.1h12.67v1.55h-12.67zM200.3 199.7h12.67v1.55h-12.67zM200.3 238.4h12.67v1.55h-12.67zM200.3 271.0h12.67v1.55h-12.67zM200.3 307.2h12.67v1.55h-12.67zM200.3 312.2h12.67v1.55h-12.67zM200.3 317.2h12.67v1.55h-12.67zM200.3 319.8h12.67v1.55h-12.67zM200.3 359.8h12.67v2.80h-12.67zM212.5 14.5h12.67v1.55h-12.67zM212.5 73.3h12.67v1.55h-12.67zM212.5 80.8h12.67v1.55h-12.67zM212.5 93.3h12.67v1.55h-12.67zM212.5 138.4h12.67v1.55h-12.67zM212.5 145.9h12.67v1.55h-12.67zM212.5 148.4h12.67v1.55h-12.67zM212.5 159.6h12.67v1.55h-12.67zM212.5 200.9h12.67v1.55h-12.67zM212.5 203.4h12.67v1.55h-12.67zM212.5 220.9h12.67v1.55h-12.67zM212.5 229.7h12.67v1.55h-12.67zM212.5 237.2h12.67v1.55h-12.67zM212.5 240.9h12.67v1.55h-12.67zM212.5 253.4h12.67v1.55h-12.67zM212.5 259.7h12.67v1.55h-12.67zM212.5 271.0h12.67v1.55h-12.67zM212.5 292.2h12.67v1.55h-12.67zM212.5 297.2h12.67v1.55h-12.67zM224.8 57.0h12.67v1.55h-12.67zM224.8 94.6h12.67v2.80h-12.67zM224.8 98.3h12.67v1.55h-12.67zM224.8 108.3h12.67v1.55h-12.67zM224.8 210.9h12.67v1.55h-12.67zM224.8 257.2h12.67v1.55h-12.67zM224.8 283.5h12.67v1.55h-12.67zM224.8 292.2h12.67v2.80h-12.67zM224.8 306.0h12.67v1.55h-12.67zM224.8 312.2h12.67v1.55h-12.67zM224.8 324.8h12.67v2.80h-12.67zM224.8 347.3h12.67v1.55h-12.67zM224.8 374.8h12.67v1.55h-12.67zM237.1 34.5h12.67v1.55h-12.67zM237.1 80.8h12.67v1.55h-12.67zM237.1 88.3h12.67v1.55h-12.67zM237.1 95.8h12.67v1.55h-12.67zM237.1 119.6h12.67v1.55h-12.67zM237.1 173.4h12.67v1.55h-12.67zM237.1 177.1h12.67v1.55h-12.67zM237.1 192.1h12.67v1.55h-12.67zM237.1 296.0h12.67v1.55h-12.67zM237.1 373.5h12.67v1.55h-12.67zM249.3 17.0h12.67v1.55h-12.67zM249.3 60.8h12.67v1.55h-12.67zM249.3 83.3h12.67v1.55h-12.67zM249.3 99.6h12.67v1.55h-12.67zM249.3 117.1h12.67v1.55h-12.67zM249.3 138.4h12.67v1.55h-12.67zM249.3 167.1h12.67v1.55h-12.67zM249.3 170.9h12.67v1.55h-12.67zM249.3 179.6h12.67v1.55h-12.67zM249.3 253.4h12.67v1.55h-12.67zM249.3 259.7h12.67v1.55h-12.67zM249.3 262.2h12.67v1.55h-12.67zM249.3 279.7h12.67v1.55h-12.67zM249.3 319.8h12.67v1.55h-12.67zM249.3 336.0h12.67v1.55h-12.67zM249.3 344.8h12.67v1.55h-12.67zM249.3 352.3h12.67v1.55h-12.67zM249.3 357.3h12.67v1.55h-12.67zM249.3 359.8h12.67v1.55h-12.67zM261.6 45.8h12.67v1.55h-12.67zM261.6 94.6h12.67v1.55h-12.67zM261.6 98.3h12.67v1.55h-12.67zM261.6 124.6h12.67v2.80h-12.67zM261.6 137.1h12.67v1.55h-12.67zM261.6 162.1h12.67v1.55h-12.67zM261.6 173.4h12.67v1.55h-12.67zM261.6 203.4h12.67v1.55h-12.67zM261.6 229.7h12.67v1.55h-12.67zM261.6 238.4h12.67v1.55h-12.67zM261.6 282.2h12.67v1.55h-12.67zM261.6 308.5h12.67v1.55h-12.67zM261.6 316.0h12.67v1.55h-12.67zM261.6 356.0h12.67v2.80h-12.67zM261.6 366.0h12.67v1.55h-12.67zM273.9 74.6h12.67v1.55h-12.67zM273.9 94.6h12.67v2.80h-12.67zM273.9 148.4h12.67v1.55h-12.67zM273.9 152.1h12.67v1.55h-12.67zM273.9 167.1h12.67v1.55h-12.67zM273.9 262.2h12.67v1.55h-12.67zM273.9 284.7h12.67v1.55h-12.67zM273.9 289.7h12.67v1.55h-12.67zM273.9 302.2h12.67v1.55h-12.67zM273.9 363.5h12.67v1.55h-12.67zM273.9 377.3h12.67v1.55h-12.67zM286.2 219.7h12.67v1.55h-12.67zM286.2 234.7h12.67v1.55h-12.67zM286.2 243.4h12.67v1.55h-12.67zM286.2 250.9h12.67v1.55h-12.67zM286.2 253.4h12.67v1.55h-12.67zM286.2 258.5h12.67v1.55h-12.67zM286.2 313.5h12.67v1.55h-12.67zM286.2 318.5h12.67v1.55h-12.67zM286.2 331.0h12.67v1.55h-12.67zM286.2 334.8h12.67v1.55h-12.67zM286.2 344.8h12.67v1.55h-12.67z"/><path fill="#0f51b8" d="M65.3 59.5h12.67v1.55h-12.67zM65.3 133.4h12.67v1.55h-12.67zM102.1 107.1h12.67v1.55h-12.67zM102.1 244.7h12.67v1.55h-12.67zM102.1 346.0h12.67v1.55h-12.67zM114.4 162.1h12.67v1.55h-12.67zM114.4 313.5h12.67v1.55h-12.67zM114.4 326.0h12.67v1.55h-12.67zM114.4 332.3h12.67v1.55h-12.67zM114.4 374.8h12.67v1.55h-12.67zM126.6 179.6h12.67v1.55h-12.67zM126.6 213.4h12.67v1.55h-12.67zM175.7 217.2h12.67v1.55h-12.67zM175.7 263.5h12.67v1.55h-12.67zM175.7 347.3h12.67v1.55h-12.67zM188.0 326.0h12.67v1.55h-12.67zM188.0 348.5h12.67v1.55h-12.67zM188.0 369.8h12.67v1.55h-12.67zM188.0 381.0h12.67v1.55h-12.67zM200.3 378.5h12.67v1.55h-12.67zM212.5 90.8h12.67v1.55h-12.67zM212.5 124.6h12.67v1.55h-12.67zM212.5 182.1h12.67v1.55h-12.67zM237.1 127.1h12.67v1.55h-12.67zM237.1 377.3h12.67v1.55h-12.67zM249.3 52.0h12.67v1.55h-12.67zM249.3 90.8h12.67v1.55h-12.67zM261.6 324.8h12.67v1.55h-12.67zM273.9 14.5h12.67v1.55h-12.67zM286.2 57.0h12.67v1.55h-12.67zM286.2 307.2h12.67v1.55h-12.67z"/><path fill="#34ebcf" d="M65.3 70.8h12.67v1.55h-12.67zM65.3 309.7h12.67v1.55h-12.67zM65.3 316.0h12.67v1.55h-12.67zM77.6 100.8h12.67v1.55h-12.67zM77.6 107.1h12.67v1.55h-12.67zM77.6 369.8h12.67v1.55h-12.67zM89.8 243.4h12.67v1.55h-12.67zM89.8 307.2h12.67v1.55h-12.67zM89.8 349.8h12.67v1.55h-12.67zM89.8 368.5h12.67v1.55h-12.67zM102.1 213.4h12.67v1.55h-12.67zM114.4 165.9h12.67v1.55h-12.67zM114.4 197.2h12.67v1.55h-12.67zM114.4 208.4h12.67v1.55h-12.67zM114.4 212.2h12.67v1.55h-12.67zM114.4 234.7h12.67v1.55h-12.67zM126.6 75.8h12.67v1.55h-12.67zM126.6 103.3h12.67v1.55h-12.67zM126.6 129.6h12.67v1.55h-12.67zM126.6 352.3h12.67v1.55h-12.67zM126.6 362.3h12.67v1.55h-12.67zM138.9 53.3h12.67v1.55h-12.67zM138.9 69.6h12.67v1.55h-12.67zM138.9 75.8h12.67v1.55h-12.67zM138.9 233.4h12.67v1.55h-12.67zM138.9 257.2h12.67v1.55h-12.67zM138.9 263.5h12.67v1.55h-12.67zM138.9 372.3h12.67v1.55h-12.67zM151.2 105.8h12.67v1.55h-12.67zM151.2 140.9h12.67v2.80h-12.67zM151.2 229.7h12.67v1.55h-12.67zM151.2 279.7h12.67v1.55h-12.67zM163.5 8.3h12.67v1.55h-12.67zM163.5 197.2h12.67v1.55h-12.67zM163.5 319.8h12.67v1.55h-12.67zM163.5 366.0h12.67v1.55h-12.67zM163.5 374.8h12.67v1.55h-12.67zM175.7 112.1h12.67v1.55h-12.67zM175.7 154.6h12.67v1.55h-12.67zM175.7 192.1h12.67v1.55h-12.67zM175.7 224.7h12.67v1.55h-12.67zM175.7 228.4h12.67v1.55h-12.67zM175.7 298.5h12.67v1.55h-12.67zM175.7 369.8h12.67v1.55h-12.67zM188.0 129.6h12.67v1.55h-12.67zM200.3 25.8h12.67v1.55h-12.67zM200.3 92.1h12.67v1.55h-12.67zM200.3 262.2h12.67v1.55h-12.67zM200.3 327.3h12.67v1.55h-12.67zM212.5 152.1h12.67v1.55h-12.67zM212.5 243.4h12.67v1.55h-12.67zM224.8 107.1h12.67v1.55h-12.67zM224.8 342.3h12.67v1.55h-12.67zM224.8 366.0h12.67v1.55h-12.67zM237.1 28.3h12.67v1.55h-12.67zM237.1 316.0h12.67v1.55h-12.67zM249.3 77.1h12.67v1.55h-12.67zM249.3 237.2h12.67v1.55h-12.67zM249.3 343.5h12.67v1.55h-12.67zM261.6 64.5h12.67v1.55h-12.67zM261.6 183.4h12.67v1.55h-12.67zM261.6 190.9h12.67v1.55h-12.67zM261.6 328.5h12.67v1.55h-12.67zM273.9 178.4h12.67v1.55h-12.67zM273.9 338.5h12.67v1.55h-12.67zM286.2 210.9h12.67v1.55h-12.67zM286.2 299.7h12.67v1.55h-12.67zM286.2 327.3h12.67v1.55h-12.67z"/><path fill="#55eeae" d="M65.3 73.3h12.67v1.55h-12.67zM89.8 237.2h12.67v1.55h-12.67zM102.1 235.9h12.67v1.55h-12.67zM102.1 377.3h12.67v1.55h-12.67zM126.6 214.7h12.67v1.55h-12.67zM138.9 9.5h12.67v1.55h-12.67zM138.9 18.3h12.67v1.55h-12.67zM138.9 103.3h12.67v1.55h-12.67zM138.9 113.3h12.67v1.55h-12.67zM138.9 122.1h12.67v1.55h-12.67zM138.9 284.7h12.67v1.55h-12.67zM151.2 173.4h12.67v1.55h-12.67zM151.2 194.7h12.67v1.55h-12.67zM151.2 332.3h12.67v1.55h-12.67zM163.5 55.8h12.67v1.55h-12.67zM163.5 68.3h12.67v1.55h-12.67zM163.5 207.2h12.67v1.55h-12.67zM163.5 258.5h12.67v1.55h-12.67zM175.7 122.1h12.67v1.55h-12.67zM175.7 187.1h12.67v1.55h-12.67zM188.0 180.9h12.67v1.55h-12.67zM188.0 276.0h12.67v1.55h-12.67zM188.0 301.0h12.67v1.55h-12.67zM200.3 40.8h12.67v1.55h-12.67zM200.3 213.4h12.67v1.55h-12.67zM224.8 34.5h12.67v1.55h-12.67zM237.1 153.4h12.67v1.55h-12.67zM237.1 210.9h12.67v1.55h-12.67zM237.1 367.3h12.67v1.55h-12.67zM249.3 62.0h12.67v1.55h-12.67zM261.6 23.3h12.67v1.55h-12.67zM261.6 170.9h12.67v1.55h-12.67zM273.9 65.8h12.67v1.55h-12.67zM273.9 373.5h12.67v1.55h-12.67zM286.2 87.1h12.67v1.55h-12.67zM286.2 179.6h12.67v1.55h-12.67zM286.2 242.2h12.67v1.55h-12.67zM286.2 321.0h12.67v1.55h-12.67z"/><path fill="#bb0004" d="M65.3 74.6h12.67v1.55h-12.67zM65.3 78.3h12.67v4.05h-12.67zM114.4 114.6h12.67v5.30h-12.67zM163.5 160.9h12.67v1.55h-12.67zM175.7 132.1h12.67v1.55h-12.67zM200.3 192.1h12.67v1.55h-12.67zM237.1 237.2h12.67v1.55h-12.67zM237.1 239.7h12.67v4.05h-12.67zM237.1 244.7h12.67v4.05h-12.67zM261.6 250.9h12.67v1.55h-12.67zM286.2 277.2h12.67v1.55h-12.67zM286.2 282.2h12.67v1.55h-12.67z"/><path fill="#a70003" d="M65.3 75.8h12.67v2.80h-12.67zM77.6 55.8h12.67v5.30h-12.67zM102.1 40.8h12.67v2.80h-12.67zM102.1 45.8h12.67v1.55h-12.67zM114.4 112.1h12.67v2.80h-12.67zM126.6 84.6h12.67v5.30h-12.67zM126.6 90.8h12.67v4.05h-12.67zM138.9 59.5h12.67v4.05h-12.67zM138.9 64.5h12.67v1.55h-12.67zM163.5 158.4h12.67v2.80h-12.67zM163.5 162.1h12.67v6.56h-12.67zM175.7 128.3h12.67v4.05h-12.67zM175.7 134.6h12.67v1.55h-12.67zM175.7 137.1h12.67v1.55h-12.67zM175.7 139.6h12.67v5.30h-12.67zM188.0 19.5h12.67v1.55h-12.67zM188.0 27.0h12.67v1.55h-12.67zM188.0 29.5h12.67v1.55h-12.67zM200.3 190.9h12.67v1.55h-12.67zM200.3 193.4h12.67v1.55h-12.67zM200.3 195.9h12.67v1.55h-12.67zM212.5 298.5h12.67v1.55h-12.67zM212.5 301.0h12.67v1.55h-12.67zM212.5 324.8h12.67v1.55h-12.67zM212.5 333.5h12.67v1.55h-12.67zM212.5 341.0h12.67v1.55h-12.67zM237.1 238.4h12.67v1.55h-12.67zM237.1 243.4h12.67v1.55h-12.67zM249.3 202.2h12.67v6.56h-12.67zM261.6 248.4h12.67v2.80h-12.67zM261.6 252.2h12.67v2.80h-12.67zM261.6 255.9h12.67v1.55h-12.67zM273.9 209.7h12.67v4.05h-12.67zM273.9 214.7h12.67v2.80h-12.67zM286.2 276.0h12.67v1.55h-12.67zM286.2 278.5h12.67v4.05h-12.67zM286.2 286.0h12.67v9.06h-12.67z"/><path fill="#fb6e0d" d="M65.3 82.1h12.67v1.55h-12.67zM65.3 149.6h12.67v1.55h-12.67zM77.6 302.2h12.67v1.55h-12.67zM102.1 264.7h12.67v1.55h-12.67zM102.1 372.3h12.67v1.55h-12.67zM126.6 18.3h12.67v1.55h-12.67zM126.6 104.6h12.67v1.55h-12.67zM151.2 70.8h12.67v4.05h-12.67zM151.2 155.9h12.67v1.55h-12.67zM151.2 158.4h12.67v1.55h-12.67zM151.2 169.6h12.67v1.55h-12.67zM175.7 103.3h12.67v2.80h-12.67zM175.7 318.5h12.67v1.55h-12.67zM188.0 53.3h12.67v1.55h-12.67zM188.0 82.1h12.67v2.80h-12.67zM188.0 147.1h12.67v1.55h-12.67zM188.0 269.7h12.67v2.80h-12.67zM200.3 185.9h12.67v1.55h-12.67zM212.5 306.0h12.67v2.80h-12.67zM212.5 313.5h12.67v2.80h-12.67zM212.5 356.0h12.67v6.56h-12.67zM212.5 369.8h12.67v1.55h-12.67zM224.8 174.6h12.67v1.55h-12.67zM224.8 266.0h12.67v1.55h-12.67zM224.8 272.2h12.67v1.55h-12.67zM224.8 289.7h12.67v1.55h-12.67zM237.1 232.2h12.67v1.55h-12.67zM237.1 234.7h12.67v1.55h-12.67zM237.1 272.2h12.67v1.55h-12.67zM249.3 18.3h12.67v1.55h-12.67zM249.3 198.4h12.67v1.55h-12.67zM249.3 200.9h12.67v1.55h-12.67zM261.6 175.9h12.67v1.55h-12.67zM261.6 277.2h12.67v1.55h-12.67zM273.9 175.9h12.67v1.55h-12.67zM273.9 220.9h12.67v1.55h-12.67zM286.2 230.9h12.67v1.55h-12.67zM286.2 267.2h12.67v4.05h-12.67zM286.2 357.3h12.67v1.55h-12.67zM286.2 368.5h12.67v1.55h-12.67z"/><path fill="#f95d0d" d="M65.3 83.3h12.67v1.55h-12.67zM102.1 37.0h12.67v2.80h-12.67zM114.4 103.3h12.67v4.05h-12.67zM126.6 105.8h12.67v2.80h-12.67zM175.7 147.1h12.67v2.80h-12.67zM200.3 184.6h12.67v1.55h-12.67zM212.5 304.7h12.67v1.55h-12.67zM212.5 322.3h12.67v2.80h-12.67zM212.5 368.5h12.67v1.55h-12.67zM212.5 371.0h12.67v1.55h-12.67zM224.8 172.1h12.67v2.80h-12.67zM224.8 190.9h12.67v1.55h-12.67zM249.3 197.2h12.67v1.55h-12.67zM249.3 199.7h12.67v1.55h-12.67zM286.2 377.3h12.67v2.80h-12.67z"/><path fill="#23e9df" d="M65.3 129.6h12.67v1.55h-12.67zM65.3 227.2h12.67v1.55h-12.67zM65.3 254.7h12.67v1.55h-12.67zM89.8 182.1h12.67v1.55h-12.67zM89.8 208.4h12.67v1.55h-12.67zM89.8 217.2h12.67v1.55h-12.67zM89.8 322.3h12.67v1.55h-12.67zM89.8 347.3h12.67v1.55h-12.67zM102.1 89.6h12.67v1.55h-12.67zM102.1 133.4h12.67v1.55h-12.67zM102.1 147.1h12.67v1.55h-12.67zM102.1 249.7h12.67v1.55h-12.67zM114.4 54.5h12.67v2.80h-12.67zM114.4 143.4h12.67v1.55h-12.67zM114.4 160.9h12.67v1.55h-12.67zM126.6 82.1h12.67v1.55h-12.67zM126.6 98.3h12.67v1.55h-12.67zM126.6 299.7h12.67v1.55h-12.67zM138.9 28.3h12.67v1.55h-12.67zM138.9 175.9h12.67v1.55h-12.67zM138.9 281.0h12.67v1.55h-12.67zM151.2 227.2h12.67v1.55h-12.67zM151.2 282.2h12.67v1.55h-12.67zM151.2 338.5h12.67v1.55h-12.67zM163.5 65.8h12.67v1.55h-12.67zM163.5 303.5h12.67v1.55h-12.67zM163.5 307.2h12.67v1.55h-12.67zM163.5 322.3h12.67v1.55h-12.67zM175.7 38.3h12.67v1.55h-12.67zM175.7 65.8h12.67v1.55h-12.67zM188.0 69.6h12.67v1.55h-12.67zM188.0 120.8h12.67v2.80h-12.67zM188.0 247.2h12.67v1.55h-12.67zM200.3 217.2h12.67v1.55h-12.67zM224.8 230.9h12.67v1.55h-12.67zM224.8 258.5h12.67v1.55h-12.67zM224.8 268.5h12.67v1.55h-12.67zM237.1 97.1h12.67v1.55h-12.67zM249.3 248.4h12.67v1.55h-12.67zM261.6 179.6h12.67v1.55h-12.67zM261.6 184.6h12.67v1.55h-12.67zM261.6 189.6h12.67v1.55h-12.67zM261.6 293.5h12.67v1.55h-12.67zM261.6 303.5h12.67v1.55h-12.67zM273.9 89.6h12.67v1.55h-12.67zM273.9 353.5h12.67v1.55h-12.67zM286.2 150.9h12.67v1.55h-12.67z"/><path fill="#115ebe" d="M65.3 135.9h12.67v1.55h-12.67zM65.3 189.6h12.67v1.55h-12.67zM65.3 228.4h12.67v1.55h-12.67zM65.3 314.7h12.67v1.55h-12.67zM65.3 336.0h12.67v1.55h-12.67zM65.3 344.8h12.67v1.55h-12.67zM77.6 97.1h12.67v1.55h-12.67zM77.6 187.1h12.67v1.55h-12.67zM77.6 212.2h12.67v1.55h-12.67zM77.6 218.4h12.67v1.55h-12.67zM77.6 259.7h12.67v1.55h-12.67zM77.6 354.8h12.67v1.55h-12.67zM89.8 84.6h12.67v1.55h-12.67zM89.8 318.5h12.67v1.55h-12.67zM89.8 348.5h12.67v1.55h-12.67zM89.8 352.3h12.67v1.55h-12.67zM89.8 359.8h12.67v1.55h-12.67zM89.8 378.5h12.67v1.55h-12.67zM102.1 145.9h12.67v1.55h-12.67zM102.1 167.1h12.67v1.55h-12.67zM102.1 209.7h12.67v1.55h-12.67zM102.1 224.7h12.67v1.55h-12.67zM102.1 308.5h12.67v1.55h-12.67zM102.1 313.5h12.67v1.55h-12.67zM102.1 322.3h12.67v1.55h-12.67zM102.1 333.5h12.67v1.55h-12.67zM102.1 351.0h12.67v1.55h-12.67zM114.4 98.3h12.67v1.55h-12.67zM114.4 140.9h12.67v1.55h-12.67zM114.4 153.4h12.67v1.55h-12.67zM114.4 238.4h12.67v1.55h-12.67zM114.4 327.3h12.67v1.55h-12.67zM114.4 333.5h12.67v1.55h-12.67zM126.6 58.3h12.67v1.55h-12.67zM126.6 109.6h12.67v1.55h-12.67zM126.6 168.4h12.67v1.55h-12.67zM126.6 187.1h12.67v1.55h-12.67zM126.6 220.9h12.67v1.55h-12.67zM126.6 232.2h12.67v1.55h-12.67zM126.6 235.9h12.67v1.55h-12.67zM126.6 278.5h12.67v1.55h-12.67zM126.6 327.3h12.67v1.55h-12.67zM138.9 30.8h12.67v1.55h-12.67zM138.9 80.8h12.67v1.55h-12.67zM138.9 93.3h12.67v1.55h-12.67zM138.9 169.6h12.67v1.55h-12.67zM138.9 187.1h12.67v1.55h-12.67zM138.9 208.4h12.67v1.55h-12.67zM138.9 258.5h12.67v1.55h-12.67zM138.9 363.5h12.67v1.55h-12.67zM151.2 163.4h12.67v1.55h-12.67zM151.2 303.5h12.67v1.55h-12.67zM151.2 313.5h12.67v1.55h-12.67zM151.2 323.5h12.67v1.55h-12.67zM163.5 276.0h12.67v1.55h-12.67zM163.5 308.5h12.67v1.55h-12.67zM163.5 344.8h12.67v1.55h-12.67zM175.7 294.7h12.67v1.55h-12.67zM175.7 301.0h12.67v1.55h-12.67zM175.7 308.5h12.67v1.55h-12.67zM175.7 313.5h12.67v2.80h-12.67zM175.7 322.3h12.67v1.55h-12.67zM188.0 55.8h12.67v1.55h-12.67zM188.0 97.1h12.67v1.55h-12.67zM188.0 199.7h12.67v1.55h-12.67zM188.0 213.4h12.67v1.55h-12.67zM188.0 296.0h12.67v1.55h-12.67zM188.0 316.0h12.67v1.55h-12.67zM188.0 331.0h12.67v2.80h-12.67zM200.3 84.6h12.67v1.55h-12.67zM200.3 135.9h12.67v1.55h-12.67zM200.3 200.9h12.67v1.55h-12.67zM200.3 203.4h12.67v1.55h-12.67zM200.3 333.5h12.67v1.55h-12.67zM200.3 358.5h12.67v1.55h-12.67zM212.5 175.9h12.67v1.55h-12.67zM212.5 184.6h12.67v1.55h-12.67zM212.5 276.0h12.67v1.55h-12.67zM224.8 214.7h12.67v1.55h-12.67zM224.8 253.4h12.67v1.55h-12.67zM224.8 274.7h12.67v1.55h-12.67zM224.8 319.8h12.67v1.55h-12.67zM224.8 329.8h12.67v1.55h-12.67zM237.1 189.6h12.67v1.55h-12.67zM249.3 23.3h12.67v1.55h-12.67zM249.3 225.9h12.67v1.55h-12.67zM249.3 261.0h12.67v1.55h-12.67zM249.3 284.7h12.67v1.55h-12.67zM249.3 308.5h12.67v1.55h-12.67zM249.3 364.8h12.67v1.55h-12.67zM249.3 368.5h12.67v1.55h-12.67zM261.6 178.4h12.67v1.55h-12.67zM261.6 242.2h12.67v1.55h-12.67zM261.6 294.7h12.67v1.55h-12.67zM261.6 353.5h12.67v1.55h-12.67zM261.6 373.5h12.67v1.55h-12.67zM273.9 125.8h12.67v1.55h-12.67zM273.9 190.9h12.67v1.55h-12.67zM273.9 232.2h12.67v1.55h-12.67zM273.9 244.7h12.67v1.55h-12.67zM273.9 329.8h12.67v1.55h-12.67zM273.9 337.3h12.67v1.55h-12.67zM273.9 367.3h12.67v1.55h-12.67zM273.9 371.0h12.67v1.55h-12.67zM273.9 374.8h12.67v1.55h-12.67zM286.2 70.8h12.67v1.55h-12.67zM286.2 122.1h12.67v1.55h-12.67zM286.2 124.6h12.67v1.55h-12.67zM286.2 263.5h12.67v1.55h-12.67zM286.2 342.3h12.67v1.55h-12.67z"/><path fill="#fc8f0e" d="M65.3 162.1h12.67v1.55h-12.67zM102.1 12.0h12.67v1.55h-12.67zM175.7 326.0h12.67v1.55h-12.67zM249.3 272.2h12.67v1.55h-12.67zM273.9 349.8h12.67v1.55h-12.67z"/><path fill="#77f18d" d="M65.3 224.7h12.67v1.55h-12.67zM65.3 332.3h12.67v1.55h-12.67zM77.6 9.5h12.67v1.55h-12.67zM77.6 165.9h12.67v1.55h-12.67zM77.6 180.9h12.67v1.55h-12.67zM77.6 207.2h12.67v1.55h-12.67zM77.6 366.0h12.67v1.55h-12.67zM89.8 35.8h12.67v1.55h-12.67zM89.8 39.5h12.67v1.55h-12.67zM89.8 128.3h12.67v1.55h-12.67zM89.8 140.9h12.67v1.55h-12.67zM102.1 294.7h12.67v1.55h-12.67zM114.4 84.6h12.67v1.55h-12.67zM114.4 123.3h12.67v1.55h-12.67zM114.4 269.7h12.67v1.55h-12.67zM114.4 277.2h12.67v1.55h-12.67zM126.6 224.7h12.67v1.55h-12.67zM126.6 266.0h12.67v1.55h-12.67zM151.2 170.9h12.67v1.55h-12.67zM151.2 324.8h12.67v1.55h-12.67zM163.5 23.3h12.67v1.55h-12.67zM163.5 32.0h12.67v1.55h-12.67zM163.5 233.4h12.67v1.55h-12.67zM163.5 378.5h12.67v1.55h-12.67zM175.7 44.5h12.67v1.55h-12.67zM175.7 94.6h12.67v1.55h-12.67zM175.7 119.6h12.67v1.55h-12.67zM175.7 188.4h12.67v1.55h-12.67zM175.7 357.3h12.67v1.55h-12.67zM188.0 68.3h12.67v1.55h-12.67zM188.0 183.4h12.67v1.55h-12.67zM200.3 18.3h12.67v1.55h-12.67zM200.3 105.8h12.67v1.55h-12.67zM200.3 227.2h12.67v1.55h-12.67zM200.3 296.0h12.67v1.55h-12.67zM200.3 367.3h12.67v1.55h-12.67zM212.5 230.9h12.67v1.55h-12.67zM224.8 24.5h12.67v1.55h-12.67zM224.8 193.4h12.67v1.55h-12.67zM224.8 267.2h12.67v1.55h-12.67zM224.8 308.5h12.67v1.55h-12.67zM237.1 172.1h12.67v1.55h-12.67zM237.1 354.8h12.67v1.55h-12.67zM237.1 366.0h12.67v1.55h-12.67zM249.3 55.8h12.67v1.55h-12.67zM249.3 145.9h12.67v1.55h-12.67zM273.9 27.0h12.67v1.55h-12.67zM273.9 155.9h12.67v1.55h-12.67zM273.9 332.3h12.67v1.55h-12.67zM286.2 67.0h12.67v1.55h-12.67z"/><path fill="#aef25b" d="M65.3 253.4h12.67v1.55h-12.67zM89.8 118.3h12.67v1.55h-12.67zM126.6 377.3h12.67v1.55h-12.67zM151.2 326.0h12.67v1.55h-12.67zM175.7 274.7h12.67v1.55h-12.67zM188.0 89.6h12.67v1.55h-12.67zM200.3 159.6h12.67v1.55h-12.67zM212.5 235.9h12.67v1.55h-12.67zM224.8 250.9h12.67v1.55h-12.67zM249.3 293.5h12.67v1.55h-12.67zM261.6 102.1h12.67v1.55h-12.67zM273.9 341.0h12.67v1.55h-12.67z"/><path fill="#88f27d" d="M65.3 268.5h12.67v1.55h-12.67zM65.3 312.2h12.67v1.55h-12.67zM77.6 123.3h12.67v1.55h-12.67zM77.6 293.5h12.67v1.55h-12.67zM89.8 59.5h12.67v1.55h-12.67zM89.8 122.1h12.67v1.55h-12.67zM89.8 139.6h12.67v1.55h-12.67zM89.8 202.2h12.67v1.55h-12.67zM89.8 273.5h12.67v1.55h-12.67zM89.8 306.0h12.67v1.55h-12.67zM102.1 80.8h12.67v1.55h-12.67zM102.1 189.6h12.67v1.55h-12.67zM102.1 220.9h12.67v1.55h-12.67zM102.1 286.0h12.67v1.55h-12.67zM102.1 374.8h12.67v1.55h-12.67zM114.4 43.3h12.67v1.55h-12.67zM114.4 304.7h12.67v1.55h-12.67zM126.6 110.8h12.67v1.55h-12.67zM126.6 250.9h12.67v1.55h-12.67zM126.6 253.4h12.67v1.55h-12.67zM126.6 356.0h12.67v1.55h-12.67zM138.9 38.3h12.67v1.55h-12.67zM151.2 45.8h12.67v1.55h-12.67zM151.2 109.6h12.67v1.55h-12.67zM163.5 102.1h12.67v1.55h-12.67zM163.5 177.1h12.67v1.55h-12.67zM163.5 187.1h12.67v1.55h-12.67zM163.5 212.2h12.67v1.55h-12.67zM163.5 283.5h12.67v1.55h-12.67zM175.7 68.3h12.67v1.55h-12.67zM175.7 254.7h12.67v1.55h-12.67zM188.0 184.6h12.67v1.55h-12.67zM200.3 252.2h12.67v1.55h-12.67zM200.3 272.2h12.67v1.55h-12.67zM200.3 288.5h12.67v1.55h-12.67zM200.3 306.0h12.67v1.55h-12.67zM212.5 15.8h12.67v1.55h-12.67zM212.5 225.9h12.67v1.55h-12.67zM224.8 150.9h12.67v1.55h-12.67zM237.1 259.7h12.67v1.55h-12.67zM237.1 339.8h12.67v1.55h-12.67zM249.3 58.3h12.67v1.55h-12.67zM261.6 133.4h12.67v1.55h-12.67zM261.6 245.9h12.67v1.55h-12.67zM286.2 333.5h12.67v1.55h-12.67z"/><path fill="#fbd115" d="M65.3 333.5h12.67v1.55h-12.67zM77.6 308.5h12.67v1.55h-12.67zM89.8 7.0h12.67v2.80h-12.67zM89.8 268.5h12.67v1.55h-12.67zM138.9 125.8h12.67v1.55h-12.67zM163.5 129.6h12.67v1.55h-12.67zM163.5 354.8h12.67v2.80h-12.67zM188.0 34.5h12.67v1.55h-12.67zM200.3 187.1h12.67v1.55h-12.67zM212.5 309.7h12.67v4.05h-12.67zM212.5 363.5h12.67v2.80h-12.67zM224.8 139.6h12.67v1.55h-12.67zM237.1 183.4h12.67v1.55h-12.67zM237.1 228.4h12.67v1.55h-12.67zM237.1 230.9h12.67v1.55h-12.67zM237.1 318.5h12.67v2.80h-12.67zM261.6 268.5h12.67v2.80h-12.67zM286.2 363.5h12.67v1.55h-12.67zM286.2 373.5h12.67v4.05h-12.67z"/><path fill="#fae117" d="M65.3 352.3h12.67v2.80h-12.67zM89.8 269.7h12.67v1.55h-12.67zM102.1 369.8h12.67v2.80h-12.67zM212.5 366.0h12.67v2.80h-12.67zM237.1 184.6h12.67v1.55h-12.67zM249.3 224.7h12.67v1.55h-12.67zM273.9 188.4h12.67v1.55h-12.67z"/><path fill="#66ef9e" d="M77.6 119.6h12.67v1.55h-12.67zM77.6 154.6h12.67v1.55h-12.67zM89.8 109.6h12.67v1.55h-12.67zM89.8 169.6h12.67v1.55h-12.67zM89.8 313.5h12.67v1.55h-12.67zM102.1 63.3h12.67v1.55h-12.67zM102.1 75.8h12.67v1.55h-12.67zM102.1 225.9h12.67v1.55h-12.67zM102.1 250.9h12.67v1.55h-12.67zM114.4 57.0h12.67v1.55h-12.67zM114.4 80.8h12.67v1.55h-12.67zM126.6 199.7h12.67v1.55h-12.67zM126.6 239.7h12.67v1.55h-12.67zM126.6 259.7h12.67v1.55h-12.67zM138.9 45.8h12.67v1.55h-12.67zM138.9 100.8h12.67v1.55h-12.67zM138.9 230.9h12.67v1.55h-12.67zM151.2 143.4h12.67v1.55h-12.67zM151.2 145.9h12.67v1.55h-12.67zM151.2 222.2h12.67v1.55h-12.67zM151.2 261.0h12.67v1.55h-12.67zM151.2 343.5h12.67v1.55h-12.67zM163.5 82.1h12.67v2.80h-12.67zM163.5 107.1h12.67v1.55h-12.67zM163.5 287.2h12.67v1.55h-12.67zM163.5 328.5h12.67v1.55h-12.67zM188.0 322.3h12.67v1.55h-12.67zM212.5 117.1h12.67v1.55h-12.67zM212.5 193.4h12.67v1.55h-12.67zM212.5 205.9h12.67v1.55h-12.67zM212.5 293.5h12.67v1.55h-12.67zM224.8 165.9h12.67v1.55h-12.67zM224.8 354.8h12.67v1.55h-12.67zM237.1 53.3h12.67v1.55h-12.67zM237.1 89.6h12.67v1.55h-12.67zM237.1 124.6h12.67v1.55h-12.67zM237.1 220.9h12.67v1.55h-12.67zM237.1 357.3h12.67v1.55h-12.67zM249.3 229.7h12.67v1.55h-12.67zM249.3 324.8h12.67v1.55h-12.67zM273.9 45.8h12.67v1.55h-12.67z"/><path fill="#fc7f0c" d="M77.6 125.8h12.67v1.55h-12.67zM102.1 10.8h12.67v1.55h-12.67zM114.4 263.5h12.67v1.55h-12.67zM200.3 328.5h12.67v1.55h-12.67zM212.5 362.3h12.67v1.55h-12.67zM224.8 294.7h12.67v1.55h-12.67zM237.1 233.4h12.67v1.55h-12.67zM249.3 50.8h12.67v1.55h-12.67zM273.9 169.6h12.67v1.55h-12.67zM273.9 222.2h12.67v1.55h-12.67zM286.2 232.2h12.67v1.55h-12.67zM286.2 271.0h12.67v1.55h-12.67zM286.2 356.0h12.67v1.55h-12.67zM286.2 369.8h12.67v1.55h-12.67z"/><path fill="#f41810" d="M89.8 9.5h12.67v1.55h-12.67zM102.1 35.8h12.67v1.55h-12.67zM114.4 107.1h12.67v2.80h-12.67zM175.7 107.1h12.67v2.80h-12.67zM175.7 123.3h12.67v1.55h-12.67zM175.7 127.1h12.67v1.55h-12.67zM188.0 12.0h12.67v2.80h-12.67zM200.3 188.4h12.67v1.55h-12.67zM212.5 316.0h12.67v1.55h-12.67zM212.5 318.5h12.67v1.55h-12.67zM212.5 354.8h12.67v1.55h-12.67zM273.9 218.4h12.67v2.80h-12.67zM273.9 227.2h12.67v1.55h-12.67zM286.2 228.4h12.67v2.80h-12.67zM286.2 264.7h12.67v2.80h-12.67zM286.2 296.0h12.67v1.55h-12.67zM286.2 364.8h12.67v1.55h-12.67z"/><path fill="#cc0407" d="M89.8 94.6h12.67v4.05h-12.67zM89.8 99.6h12.67v4.05h-12.67zM188.0 14.5h12.67v5.30h-12.67z"/><path fill="#da0a0a" d="M89.8 98.3h12.67v1.55h-12.67zM102.1 39.5h12.67v1.55h-12.67zM151.2 64.5h12.67v2.80h-12.67zM151.2 68.3h12.67v2.80h-12.67zM188.0 10.8h12.67v1.55h-12.67zM212.5 346.0h12.67v1.55h-12.67zM212.5 351.0h12.67v1.55h-12.67zM212.5 378.5h12.67v4.05h-12.67zM224.8 182.1h12.67v1.55h-12.67zM224.8 184.6h12.67v1.55h-12.67zM261.6 257.2h12.67v1.55h-12.67zM273.9 224.7h12.67v1.55h-12.67z"/><path fill="#fbc113" d="M89.8 302.2h12.67v1.55h-12.67zM224.8 222.2h12.67v1.55h-12.67zM237.1 229.7h12.67v1.55h-12.67zM273.9 242.2h12.67v1.55h-12.67zM286.2 362.3h12.67v1.55h-12.67zM286.2 379.8h12.67v2.80h-12.67z"/><path fill="#e7f229" d="M102.1 13.3h12.67v1.55h-12.67zM102.1 15.8h12.67v1.55h-12.67z"/><path fill="#d4f23a" d="M102.1 14.5h12.67v1.55h-12.67z"/><path fill="#f73a0f" d="M102.1 33.3h12.67v1.55h-12.67zM102.1 49.5h12.67v1.55h-12.67zM163.5 152.1h12.67v1.55h-12.67zM163.5 169.6h12.67v1.55h-12.67zM188.0 7.0h12.67v1.55h-12.67zM200.3 309.7h12.67v1.55h-12.67zM237.1 168.4h12.67v1.55h-12.67z"/><path fill="#f5290f" d="M102.1 34.5h12.67v1.55h-12.67zM114.4 109.6h12.67v2.80h-12.67zM138.9 127.1h12.67v2.80h-12.67zM163.5 145.9h12.67v6.56h-12.67zM163.5 168.4h12.67v1.55h-12.67zM175.7 105.8h12.67v1.55h-12.67zM175.7 109.6h12.67v1.55h-12.67zM200.3 311.0h12.67v1.55h-12.67zM237.1 317.2h12.67v1.55h-12.67zM237.1 321.0h12.67v4.05h-12.67zM286.2 367.3h12.67v1.55h-12.67z"/><path fill="#930001" d="M102.1 43.3h12.67v2.80h-12.67zM126.6 89.6h12.67v1.55h-12.67zM138.9 63.3h12.67v1.55h-12.67zM175.7 133.4h12.67v1.55h-12.67zM175.7 135.9h12.67v1.55h-12.67zM175.7 138.4h12.67v1.55h-12.67zM188.0 20.8h12.67v6.56h-12.67zM188.0 28.3h12.67v1.55h-12.67zM188.0 30.8h12.67v2.80h-12.67zM200.3 194.7h12.67v1.55h-12.67zM212.5 299.7h12.67v1.55h-12.67zM212.5 326.0h12.67v7.81h-12.67zM212.5 334.8h12.67v6.56h-12.67zM212.5 342.3h12.67v2.80h-12.67zM261.6 254.7h12.67v1.55h-12.67zM273.9 213.4h12.67v1.55h-12.67zM273.9 217.2h12.67v1.55h-12.67zM286.2 283.5h12.67v2.80h-12.67z"/><path fill="#e8100d" d="M102.1 47.0h12.67v2.80h-12.67zM102.1 52.0h12.67v4.05h-12.67zM151.2 67.0h12.67v1.55h-12.67zM175.7 124.6h12.67v2.80h-12.67zM188.0 9.5h12.67v1.55h-12.67zM200.3 189.6h12.67v1.55h-12.67zM212.5 302.2h12.67v2.80h-12.67zM212.5 317.2h12.67v1.55h-12.67zM212.5 344.8h12.67v1.55h-12.67zM212.5 347.3h12.67v4.05h-12.67zM212.5 352.3h12.67v2.80h-12.67zM212.5 372.3h12.67v6.56h-12.67zM224.8 178.4h12.67v4.05h-12.67zM224.8 183.4h12.67v1.55h-12.67zM261.6 258.5h12.67v5.30h-12.67zM273.9 223.4h12.67v1.55h-12.67zM273.9 225.9h12.67v1.55h-12.67zM286.2 294.7h12.67v1.55h-12.67zM286.2 297.2h12.67v1.55h-12.67zM286.2 358.5h12.67v4.05h-12.67zM286.2 366.0h12.67v1.55h-12.67zM286.2 371.0h12.67v2.80h-12.67z"/><path fill="#f84c0e" d="M102.1 50.8h12.67v1.55h-12.67zM114.4 119.6h12.67v2.80h-12.67zM163.5 153.4h12.67v5.30h-12.67zM188.0 8.3h12.67v1.55h-12.67zM212.5 308.5h12.67v1.55h-12.67zM286.2 272.2h12.67v4.05h-12.67z"/><path fill="#fbb011" d="M138.9 326.0h12.67v1.55h-12.67zM200.3 137.1h12.67v1.55h-12.67z"/><path fill="#fba00f" d="M175.7 144.6h12.67v2.80h-12.67zM224.8 175.9h12.67v2.80h-12.67zM224.8 367.3h12.67v1.55h-12.67zM273.9 68.3h12.67v1.55h-12.67z"/><path fill="#0e47b2" d="M175.7 351.0h12.67v1.55h-12.67z"/></g>
<g><rect x="62.6" y="7.0" width="3.0" height="163.8" fill="#3cc3c3"/><rect x="62.6" y="170.8" width="3.0" height="127.8" fill="#e1473a"/><rect x="62.6" y="298.6" width="3.0" height="83.7" fill="#3c8c5f"/><path stroke="#3cc3c3" stroke-width="1.3" fill="none" d="M64.4 7.6L64.4 8.9M64.4 7.6L65.3 7.6M64.4 8.9L65.3 8.9M64.5 10.1L64.5 11.4M64.5 10.1L65.3 10.1M64.5 11.4L65.3 11.4M64.2 12.6L64.2 13.9M64.2 12.6L65.3 12.6M64.2 13.9L65.3 13.9M64.0 15.1L64.0 16.4M64.0 15.1L65.3 15.1M64.0 16.4L65.3 16.4M64.1 17.6L64.1 18.9M64.1 17.6L65.3 17.6M64.1 18.9L65.3 18.9M64.5 20.1L64.5 21.4M64.5 20.1L65.3 20.1M64.5 21.4L65.3 21.4M63.6 22.6L63.6 23.9M63.6 22.6L65.3 22.6M63.6 23.9L65.3 23.9M64.3 25.1L64.3 26.4M64.3 25.1L65.3 25.1M64.3 26.4L65.3 26.4M62.6 8.3L62.6 10.8M62.6 8.3L64.4 8.3M62.6 10.8L64.5 10.8M62.8 13.3L62.8 15.8M62.8 13.3L64.2 13.3M62.8 15.8L64.0 15.8M62.9 18.3L62.9 20.8M62.9 18.3L64.1 18.3M62.9 20.8L64.5 20.8M62.9 19.5L62.9 23.3M62.9 19.5L62.9 19.5M62.9 23.3L63.6 23.3M61.7 9.5L61.7 14.5M61.7 9.5L62.6 9.5M61.7 14.5L62.8 14.5M61.8 21.4L61.8 25.8M61.8 21.4L62.9 21.4M61.8 25.8L64.3 25.8M58.7 12.0L58.7 23.6M58.7 12.0L61.7 12.0M58.7 23.6L61.8 23.6M58.7 16.9L58.7 17.8M64.4 27.6L64.4 28.9M64.4 27.6L65.3 27.6M64.4 28.9L65.3 28.9M64.4 28.3L64.4 30.1M64.4 28.3L64.4 28.3M64.4 30.1L65.3 30.1M63.8 31.4L63.8 32.6M63.8 31.4L65.3 31.4M63.8 32.6L65.3 32.6M63.9 33.9L63.9 35.1M63.9 33.9L65.3 33.9M63.9 35.1L65.3 35.1M64.5 36.4L64.5 37.6M64.5 36.4L65.3 36.4M64.5 37.6L65.3 37.6M63.8 38.9L63.8 40.1M63.8 38.9L65.3 38.9M63.8 40.1L65.3 40.1M64.2 41.4L64.2 42.6M64.2 41.4L65.3 41.4M64.2 42.6L65.3 42.6M64.1 43.9L64.1 45.1M64.1 43.9L65.3 43.9M64.1 45.1L65.3 45.1M63.6 46.4L63.6 47.6M63.6 46.4L65.3 46.4M63.6 47.6L65.3 47.6M64.3 48.9L64.3 50.1M64.3 48.9L65.3 48.9M64.3 50.1L65.3 50.1M64.0 51.4L64.0 52.6M64.0 51.4L65.3 51.4M64.0 52.6L65.3 52.6M63.7 53.9L63.7 55.1M63.7 53.9L65.3 53.9M63.7 55.1L65.3 55.1M63.7 54.5L63.7 56.4M63.7 54.5L63.7 54.5M63.7 56.4L65.3 56.4M63.4 57.6L63.4 58.9M63.4 57.6L65.3 57.6M63.4 58.9L65.3 58.9M64.1 60.2L64.1 61.4M64.1 60.2L65.3 60.2M64.1 61.4L65.3 61.4M63.0 29.2L63.0 32.0M63.0 29.2L64.4 29.2M63.0 32.0L63.8 32.0M63.0 30.6L63.0 34.5M63.0 30.6L63.0 30.6M63.0 34.5L63.9 34.5M63.0 37.0L63.0 39.5M63.0 37.0L64.5 37.0M63.0 39.5L63.8 39.5M62.4 42.0L62.4 44.5M62.4 42.0L64.2 42.0M62.4 44.5L64.1 44.5M61.9 47.0L61.9 49.5M61.9 47.0L63.6 47.0M61.9 49.5L64.3 49.5M62.2 52.0L62.2 55.5M62.2 52.0L64.0 52.0M62.2 55.5L63.7 55.5M62.0 58.3L62.0 60.8M62.0 58.3L63.4 58.3M62.0 60.8L64.1 60.8M61.2 32.6L61.2 38.3M61.2 32.6L63.0 32.6M61.2 38.3L63.0 38.3M60.6 43.3L60.6 48.3M60.6 43.3L62.4 43.3M60.6 48.3L61.9 48.3M60.6 45.8L60.6 53.7M60.6 45.8L60.6 45.8M60.6 53.7L62.2 53.7M59.3 35.4L59.3 49.8M59.3 35.4L61.2 35.4M59.3 49.8L60.6 49.8M58.7 42.6L58.7 59.5M58.7 42.6L59.3 42.6M58.7 59.5L62.0 59.5M58.7 46.6L58.7 51.1M40.0 16.9L40.0 46.6M40.0 16.9L58.7 16.9M40.0 46.6L58.7 46.6M63.6 62.6L63.6 63.9M63.6 62.6L65.3 62.6M63.6 63.9L65.3 63.9M63.6 63.3L63.6 65.1M63.6 63.3L63.6 63.3M63.6 65.1L65.3 65.1M64.1 66.4L64.1 67.6M64.1 66.4L65.3 66.4M64.1 67.6L65.3 67.6M62.4 64.2L62.4 67.0M62.4 64.2L63.6 64.2M62.4 67.0L64.1 67.0M58.0 65.6L58.0 68.9M58.0 65.6L62.4 65.6M58.0 68.9L65.3 68.9M64.5 70.6L64.5 71.9M64.5 70.6L65.3 70.6M64.5 71.9L65.3 71.9M64.4 73.1L64.4 74.4M64.4 73.1L65.3 73.1M64.4 74.4L65.3 74.4M64.4 73.8L64.4 75.6M64.4 73.8L64.4 73.8M64.4 75.6L65.3 75.6M64.1 76.9L64.1 78.1M64.1 76.9L65.3 76.9M64.1 78.1L65.3 78.1M63.2 71.3L63.2 74.7M63.2 71.3L64.5 71.3M63.2 74.7L64.4 74.7M62.4 77.5L62.4 79.4M62.4 77.5L64.1 77.5M62.4 79.4L65.3 79.4M58.0 73.0L58.0 78.4M58.0 73.0L63.2 73.0M58.0 78.4L62.4 78.4M51.0 67.2L51.0 75.7M51.0 67.2L58.0 67.2M51.0 75.7L58.0 75.7M63.6 80.6L63.6 81.9M63.6 80.6L65.3 80.6M63.6 81.9L65.3 81.9M63.6 81.3L63.6 83.1M63.6 81.3L63.6 81.3M63.6 83.1L65.3 83.1M64.1 84.4L64.1 85.6M64.1 84.4L65.3 84.4M64.1 85.6L65.3 85.6M63.5 86.9L63.5 88.1M63.5 86.9L65.3 86.9M63.5 88.1L65.3 88.1M62.7 82.2L62.7 85.0M62.7 82.2L63.6 82.2M62.7 85.0L64.1 85.0M62.6 87.5L62.6 89.4M62.6 87.5L63.5 87.5M62.6 89.4L65.3 89.4M58.0 83.6L58.0 88.4M58.0 83.6L62.7 83.6M58.0 88.4L62.6 88.4M49.5 71.5L49.5 86.0M49.5 71.5L51.0 71.5M49.5 86.0L58.0 86.0M63.9 90.6L63.9 91.9M63.9 90.6L65.3 90.6M63.9 91.9L65.3 91.9M64.6 93.1L64.6 94.4M64.6 93.1L65.3 93.1M64.6 94.4L65.3 94.4M64.2 95.6L64.2 96.9M64.2 95.6L65.3 95.6M64.2 96.9L65.3 96.9M63.5 98.1L63.5 99.4M63.5 98.1L65.3 98.1M63.5 99.4L65.3 99.4M62.6 91.3L62.6 93.8M62.6 91.3L63.9 91.3M62.6 93.8L64.6 93.8M61.9 96.3L61.9 98.8M61.9 96.3L64.2 96.3M61.9 98.8L63.5 98.8M58.0 92.5L58.0 97.5M58.0 92.5L62.6 92.5M58.0 97.5L61.9 97.5M48.0 78.7L48.0 95.0M48.0 78.7L49.5 78.7M48.0 95.0L58.0 95.0M63.5 100.6L63.5 101.9M63.5 100.6L65.3 100.6M63.5 101.9L65.3 101.9M63.6 103.1L63.6 104.4M63.6 103.1L65.3 103.1M63.6 104.4L65.3 104.4M63.6 103.8L63.6 105.6M63.6 103.8L63.6 103.8M63.6 105.6L65.3 105.6M64.1 106.9L64.1 108.1M64.1 106.9L65.3 106.9M64.1 108.1L65.3 108.1M64.1 107.5L64.1 109.4M64.1 107.5L64.1 107.5M64.1 109.4L65.3 109.4M62.1 101.3L62.1 104.7M62.1 101.3L63.5 101.3M62.1 104.7L63.6 104.7M63.3 108.4L63.3 110.6M63.3 108.4L64.1 108.4M63.3 110.6L65.3 110.6M58.0 103.0L58.0 109.5M58.0 103.0L62.1 103.0M58.0 109.5L63.3 109.5M46.5 86.9L46.5 106.3M46.5 86.9L48.0 86.9M46.5 106.3L58.0 106.3M64.4 112.6L64.4 113.9M64.4 112.6L65.3 112.6M64.4 113.9L65.3 113.9M64.5 115.1L64.5 116.4M64.5 115.1L65.3 115.1M64.5 116.4L65.3 116.4M64.4 117.6L64.4 118.9M64.4 117.6L65.3 117.6M64.4 118.9L65.3 118.9M64.2 120.1L64.2 121.4M64.2 120.1L65.3 120.1M64.2 121.4L65.3 121.4M63.6 122.6L63.6 123.9M63.6 122.6L65.3 122.6M63.6 123.9L65.3 123.9M64.4 125.1L64.4 126.4M64.4 125.1L65.3 125.1M64.4 126.4L65.3 126.4M64.2 127.6L64.2 128.9M64.2 127.6L65.3 127.6M64.2 128.9L65.3 128.9M64.5 130.1L64.5 131.4M64.5 130.1L65.3 130.1M64.5 131.4L65.3 131.4M63.1 113.3L63.1 115.8M63.1 113.3L64.4 113.3M63.1 115.8L64.5 115.8M63.1 114.5L63.1 118.3M63.1 114.5L63.1 114.5M63.1 118.3L64.4 118.3M62.7 120.8L62.7 123.3M62.7 120.8L64.2 120.8M62.7 123.3L63.6 123.3M63.1 125.8L63.1 128.3M63.1 125.8L64.4 125.8M63.1 128.3L64.2 128.3M62.8 130.8L62.8 132.6M62.8 130.8L64.5 130.8M62.8 132.6L65.3 132.6M62.0 116.4L62.0 122.0M62.0 116.4L63.1 116.4M62.0 122.0L62.7 122.0M61.4 127.0L61.4 131.7M61.4 127.0L63.1 127.0M61.4 131.7L62.8 131.7M58.0 119.2L58.0 129.4M58.0 119.2L62.0 119.2M58.0 129.4L61.4 129.4M58.0 124.3L58.0 133.3M44.5 96.6L44.5 133.3M44.5 96.6L46.5 96.6M44.5 133.3L58.0 133.3M63.9 133.9L63.9 135.2M63.9 133.9L65.3 133.9M63.9 135.2L65.3 135.2M64.0 136.4L64.0 137.7M64.0 136.4L65.3 136.4M64.0 137.7L65.3 137.7M63.6 138.9L63.6 140.2M63.6 138.9L65.3 138.9M63.6 140.2L65.3 140.2M63.6 139.6L63.6 141.4M63.6 139.6L63.6 139.6M63.6 141.4L65.3 141.4M64.3 142.7L64.3 143.9M64.3 142.7L65.3 142.7M64.3 143.9L65.3 143.9M64.4 145.2L64.4 146.4M64.4 145.2L65.3 145.2M64.4 146.4L65.3 146.4M64.0 147.7L64.0 148.9M64.0 147.7L65.3 147.7M64.0 148.9L65.3 148.9M62.5 134.6L62.5 137.1M62.5 134.6L63.9 134.6M62.5 137.1L64.0 137.1M62.5 135.8L62.5 140.5M62.5 135.8L62.5 135.8M62.5 140.5L63.6 140.5M62.6 143.3L62.6 145.8M62.6 143.3L64.3 143.3M62.6 145.8L64.4 145.8M60.8 138.1L60.8 144.6M60.8 138.1L62.5 138.1M60.8 144.6L62.6 144.6M60.8 141.4L60.8 148.3M60.8 141.4L60.8 141.4M60.8 148.3L64.0 148.3M59.0 144.8L59.0 144.8M59.0 144.8L60.8 144.8M59.0 144.8L60.8 144.8M63.7 150.6L63.7 151.9M63.7 150.6L65.3 150.6M63.7 151.9L65.3 151.9M63.7 151.3L63.7 153.1M63.7 151.3L63.7 151.3M63.7 153.1L65.3 153.1M64.0 154.4L64.0 155.6M64.0 154.4L65.3 154.4M64.0 155.6L65.3 155.6M64.6 156.9L64.6 158.1M64.6 156.9L65.3 156.9M64.6 158.1L65.3 158.1M64.3 159.4L64.3 160.6M64.3 159.4L65.3 159.4M64.3 160.6L65.3 160.6M63.8 161.9L63.8 163.1M63.8 161.9L65.3 161.9M63.8 163.1L65.3 163.1M64.1 164.4L64.1 165.6M64.1 164.4L65.3 164.4M64.1 165.6L65.3 165.6M64.1 165.0L64.1 166.9M64.1 165.0L64.1 165.0M64.1 166.9L65.3 166.9M63.4 168.1L63.4 169.4M63.4 168.1L65.3 168.1M63.4 169.4L65.3 169.4M62.6 152.2L62.6 155.0M62.6 152.2L63.7 152.2M62.6 155.0L64.0 155.0M62.6 153.6L62.6 157.5M62.6 153.6L62.6 153.6M62.6 157.5L64.6 157.5M62.8 160.0L62.8 162.5M62.8 160.0L64.3 160.0M62.8 162.5L63.8 162.5M62.5 166.0L62.5 168.8M62.5 166.0L64.1 166.0M62.5 168.8L63.4 168.8M60.8 155.6L60.8 161.3M60.8 155.6L62.6 155.6M60.8 161.3L62.8 161.3M59.0 158.4L59.0 167.4M59.0 158.4L60.8 158.4M59.0 167.4L62.5 167.4M46.0 144.8L46.0 162.9M46.0 144.8L59.0 144.8M46.0 162.9L59.0 162.9M42.5 117.2L42.5 161.4M42.5 117.2L44.5 117.2M42.5 161.4L46.0 161.4M37.9 31.5L37.9 139.3M37.9 31.5L40.0 31.5M37.9 139.3L42.5 139.3"/><path stroke="#e1473a" stroke-width="1.3" fill="none" d="M63.8 171.4L63.8 172.7M63.8 171.4L65.3 171.4M63.8 172.7L65.3 172.7M64.5 173.9L64.5 175.2M64.5 173.9L65.3 173.9M64.5 175.2L65.3 175.2M64.5 174.6L64.5 176.4M64.5 174.6L64.5 174.6M64.5 176.4L65.3 176.4M63.5 177.7L63.5 178.9M63.5 177.7L65.3 177.7M63.5 178.9L65.3 178.9M63.7 180.2L63.7 181.4M63.7 180.2L65.3 180.2M63.7 181.4L65.3 181.4M63.7 180.8L63.7 182.7M63.7 180.8L63.7 180.8M63.7 182.7L65.3 182.7M64.4 183.9L64.4 185.2M64.4 183.9L65.3 183.9M64.4 185.2L65.3 185.2M64.2 186.4L64.2 187.7M64.2 186.4L65.3 186.4M64.2 187.7L65.3 187.7M61.6 172.1L61.6 175.5M61.6 172.1L63.8 172.1M61.6 175.5L64.5 175.5M61.6 173.8L61.6 178.3M61.6 173.8L61.6 173.8M61.6 178.3L63.5 178.3M62.5 181.7L62.5 184.6M62.5 181.7L63.7 181.7M62.5 184.6L64.4 184.6M60.7 176.0L60.7 183.2M60.7 176.0L61.6 176.0M60.7 183.2L62.5 183.2M57.0 179.6L57.0 187.1M57.0 179.6L60.7 179.6M57.0 187.1L64.2 187.1M63.5 188.6L63.5 189.9M63.5 188.6L65.3 188.6M63.5 189.9L65.3 189.9M64.4 191.1L64.4 192.4M64.4 191.1L65.3 191.1M64.4 192.4L65.3 192.4M64.4 191.8L64.4 193.6M64.4 191.8L64.4 191.8M64.4 193.6L65.3 193.6M63.4 194.9L63.4 196.1M63.4 194.9L65.3 194.9M63.4 196.1L65.3 196.1M63.4 195.5L63.4 197.4M63.4 195.5L63.4 195.5M63.4 197.4L65.3 197.4M64.2 198.6L64.2 199.9M64.2 198.6L65.3 198.6M64.2 199.9L65.3 199.9M64.4 201.1L64.4 202.4M64.4 201.1L65.3 201.1M64.4 202.4L65.3 202.4M61.9 189.3L61.9 192.7M61.9 189.3L63.5 189.3M61.9 192.7L64.4 192.7M61.9 191.0L61.9 196.4M61.9 191.0L61.9 191.0M61.9 196.4L63.4 196.4M62.4 199.3L62.4 201.8M62.4 199.3L64.2 199.3M62.4 201.8L64.4 201.8M60.3 193.7L60.3 200.5M60.3 193.7L61.9 193.7M60.3 200.5L62.4 200.5M60.3 197.1L60.3 203.6M60.3 197.1L60.3 197.1M60.3 203.6L65.3 203.6M57.0 200.4L57.0 200.4M57.0 200.4L60.3 200.4M57.0 200.4L60.3 200.4M50.0 183.3L50.0 200.4M50.0 183.3L57.0 183.3M50.0 200.4L57.0 200.4M64.3 205.6L64.3 206.9M64.3 205.6L65.3 205.6M64.3 206.9L65.3 206.9M64.3 208.1L64.3 209.4M64.3 208.1L65.3 208.1M64.3 209.4L65.3 209.4M64.3 210.6L64.3 211.9M64.3 210.6L65.3 210.6M64.3 211.9L65.3 211.9M64.4 213.1L64.4 214.4M64.4 213.1L65.3 213.1M64.4 214.4L65.3 214.4M64.2 215.6L64.2 216.9M64.2 215.6L65.3 215.6M64.2 216.9L65.3 216.9M64.2 216.3L64.2 218.1M64.2 216.3L64.2 216.3M64.2 218.1L65.3 218.1M63.9 219.4L63.9 220.6M63.9 219.4L65.3 219.4M63.9 220.6L65.3 220.6M63.1 206.3L63.1 208.8M63.1 206.3L64.3 206.3M63.1 208.8L64.3 208.8M63.1 207.5L63.1 211.3M63.1 207.5L63.1 207.5M63.1 211.3L64.3 211.3M62.6 213.8L62.6 217.2M62.6 213.8L64.4 213.8M62.6 217.2L64.2 217.2M62.6 215.5L62.6 220.0M62.6 215.5L62.6 215.5M62.6 220.0L63.9 220.0M58.0 209.4L58.0 217.7M58.0 209.4L63.1 209.4M58.0 217.7L62.6 217.7M64.0 222.6L64.0 223.9M64.0 222.6L65.3 222.6M64.0 223.9L65.3 223.9M64.1 225.1L64.1 226.4M64.1 225.1L65.3 225.1M64.1 226.4L65.3 226.4M64.6 227.6L64.6 228.9M64.6 227.6L65.3 227.6M64.6 228.9L65.3 228.9M64.4 230.1L64.4 231.4M64.4 230.1L65.3 230.1M64.4 231.4L65.3 231.4M64.4 230.8L64.4 232.6M64.4 230.8L64.4 230.8M64.4 232.6L65.3 232.6M63.7 233.9L63.7 235.1M63.7 233.9L65.3 233.9M63.7 235.1L65.3 235.1M64.2 236.4L64.2 237.6M64.2 236.4L65.3 236.4M64.2 237.6L65.3 237.6M62.3 223.3L62.3 225.8M62.3 223.3L64.0 223.3M62.3 225.8L64.1 225.8M63.0 228.3L63.0 231.7M63.0 228.3L64.6 228.3M63.0 231.7L64.4 231.7M62.7 234.5L62.7 237.0M62.7 234.5L63.7 234.5M62.7 237.0L64.2 237.0M61.0 224.5L61.0 230.0M61.0 224.5L62.3 224.5M61.0 230.0L63.0 230.0M60.9 235.8L60.9 238.9M60.9 235.8L62.7 235.8M60.9 238.9L65.3 238.9M58.0 227.2L58.0 237.3M58.0 227.2L61.0 227.2M58.0 237.3L60.9 237.3M52.0 213.6L52.0 232.3M52.0 213.6L58.0 213.6M52.0 232.3L58.0 232.3M48.2 191.9L48.2 223.8M48.2 191.9L50.0 191.9M48.2 222.9L52.0 222.9M63.9 240.6L63.9 241.9M63.9 240.6L65.3 240.6M63.9 241.9L65.3 241.9M64.0 243.1L64.0 244.4M64.0 243.1L65.3 243.1M64.0 244.4L65.3 244.4M64.1 245.6L64.1 246.9M64.1 245.6L65.3 245.6M64.1 246.9L65.3 246.9M64.0 248.1L64.0 249.4M64.0 248.1L65.3 248.1M64.0 249.4L65.3 249.4M62.1 241.3L62.1 243.8M62.1 241.3L63.9 241.3M62.1 243.8L64.0 243.8M63.0 246.3L63.0 248.8M63.0 246.3L64.1 246.3M63.0 248.8L64.0 248.8M63.0 247.5L63.0 250.6M63.0 247.5L63.0 247.5M63.0 250.6L65.3 250.6M58.0 242.5L58.0 249.1M58.0 242.5L62.1 242.5M58.0 249.1L63.0 249.1M63.5 252.6L63.5 253.9M63.5 252.6L65.3 252.6M63.5 253.9L65.3 253.9M64.4 255.1L64.4 256.4M64.4 255.1L65.3 255.1M64.4 256.4L65.3 256.4M64.4 255.8L64.4 257.6M64.4 255.8L64.4 255.8M64.4 257.6L65.3 257.6M64.1 258.9L64.1 260.1M64.1 258.9L65.3 258.9M64.1 260.1L65.3 260.1M64.3 261.4L64.3 262.6M64.3 261.4L65.3 261.4M64.3 262.6L65.3 262.6M63.8 263.9L63.8 265.1M63.8 263.9L65.3 263.9M63.8 265.1L65.3 265.1M63.5 266.4L63.5 267.6M63.5 266.4L65.3 266.4M63.5 267.6L65.3 267.6M63.5 267.0L63.5 268.9M63.5 267.0L63.5 267.0M63.5 268.9L65.3 268.9M63.7 270.1L63.7 271.4M63.7 270.1L65.3 270.1M63.7 271.4L65.3 271.4M62.6 253.3L62.6 256.7M62.6 253.3L63.5 253.3M62.6 256.7L64.4 256.7M61.9 259.5L61.9 262.0M61.9 259.5L64.1 259.5M61.9 262.0L64.3 262.0M61.9 260.8L61.9 264.5M61.9 260.8L61.9 260.8M61.9 264.5L63.8 264.5M61.7 268.0L61.7 270.8M61.7 268.0L63.5 268.0M61.7 270.8L63.7 270.8M60.7 255.0L60.7 262.6M60.7 255.0L62.6 255.0M60.7 262.6L61.9 262.6M58.0 258.8L58.0 269.4M58.0 258.8L60.7 258.8M58.0 269.4L61.7 269.4M55.0 245.8L55.0 264.1M55.0 245.8L58.0 245.8M55.0 264.1L58.0 264.1M45.5 223.8L45.5 262.5M45.5 223.8L48.2 223.8M45.5 262.5L55.0 262.5M64.4 272.6L64.4 273.9M64.4 272.6L65.3 272.6M64.4 273.9L65.3 273.9M64.4 273.3L64.4 275.1M64.4 273.3L64.4 273.3M64.4 275.1L65.3 275.1M64.0 276.4L64.0 277.6M64.0 276.4L65.3 276.4M64.0 277.6L65.3 277.6M64.4 278.9L64.4 280.1M64.4 278.9L65.3 278.9M64.4 280.1L65.3 280.1M63.7 281.4L63.7 282.6M63.7 281.4L65.3 281.4M63.7 282.6L65.3 282.6M62.6 274.2L62.6 277.0M62.6 274.2L64.4 274.2M62.6 277.0L64.0 277.0M63.0 279.5L63.0 282.0M63.0 279.5L64.4 279.5M63.0 282.0L63.7 282.0M60.0 275.6L60.0 280.8M60.0 275.6L62.6 275.6M60.0 280.8L63.0 280.8M63.9 284.6L63.9 285.9M63.9 284.6L65.3 284.6M63.9 285.9L65.3 285.9M64.5 287.1L64.5 288.4M64.5 287.1L65.3 287.1M64.5 288.4L65.3 288.4M63.7 289.6L63.7 290.9M63.7 289.6L65.3 289.6M63.7 290.9L65.3 290.9M63.7 290.3L63.7 292.1M63.7 290.3L63.7 290.3M63.7 292.1L65.3 292.1M64.5 293.4L64.5 294.6M64.5 293.4L65.3 293.4M64.5 294.6L65.3 294.6M64.5 294.0L64.5 295.9M64.5 294.0L64.5 294.0M64.5 295.9L65.3 295.9M64.6 297.1L64.6 298.4M64.6 297.1L65.3 297.1M64.6 298.4L65.3 298.4M62.6 285.3L62.6 287.8M62.6 285.3L63.9 285.3M62.6 287.8L64.5 287.8M62.6 286.5L62.6 291.2M62.6 286.5L62.6 286.5M62.6 291.2L63.7 291.2M63.3 294.9L63.3 297.8M63.3 294.9L64.5 294.9M63.3 297.8L64.6 297.8M60.0 288.8L60.0 296.4M60.0 288.8L62.6 288.8M60.0 296.4L63.3 296.4M57.6 278.2L57.6 292.6M57.6 278.2L60.0 278.2M57.6 292.6L60.0 292.6M39.6 241.6L39.6 284.3M39.6 241.6L45.5 241.6M39.6 284.3L57.6 284.3"/><path stroke="#2a6ebe" stroke-width="1.3" fill="none" d="M31.9 85.6L31.9 263.2M31.9 85.6L37.9 85.6M31.9 263.2L39.6 263.2"/><path stroke="#3c8c5f" stroke-width="1.3" fill="none" d="M63.6 299.2L63.6 300.5M63.6 299.2L65.3 299.2M63.6 300.5L65.3 300.5M63.6 299.9L63.6 301.7M63.6 299.9L63.6 299.9M63.6 301.7L65.3 301.7M64.4 303.0L64.4 304.2M64.4 303.0L65.3 303.0M64.4 304.2L65.3 304.2M63.9 305.5L63.9 306.7M63.9 305.5L65.3 305.5M63.9 306.7L65.3 306.7M62.8 300.8L62.8 303.6M62.8 300.8L63.6 300.8M62.8 303.6L64.4 303.6M59.0 302.2L59.0 306.1M59.0 302.2L62.8 302.2M59.0 306.1L63.9 306.1M64.1 308.6L64.1 309.9M64.1 308.6L65.3 308.6M64.1 309.9L65.3 309.9M63.5 311.1L63.5 312.4M63.5 311.1L65.3 311.1M63.5 312.4L65.3 312.4M63.6 313.6L63.6 314.9M63.6 313.6L65.3 313.6M63.6 314.9L65.3 314.9M63.6 316.1L63.6 317.4M63.6 316.1L65.3 316.1M63.6 317.4L65.3 317.4M63.6 318.6L63.6 319.9M63.6 318.6L65.3 318.6M63.6 319.9L65.3 319.9M62.1 309.3L62.1 311.8M62.1 309.3L64.1 309.3M62.1 311.8L63.5 311.8M62.5 314.3L62.5 316.8M62.5 314.3L63.6 314.3M62.5 316.8L63.6 316.8M62.5 315.5L62.5 319.3M62.5 315.5L62.5 315.5M62.5 319.3L63.6 319.3M61.1 310.5L61.1 317.4M61.1 310.5L62.1 310.5M61.1 317.4L62.5 317.4M59.0 313.9L59.0 321.1M59.0 313.9L61.1 313.9M59.0 321.1L65.3 321.1M56.3 304.2L56.3 317.5M56.3 304.2L59.0 304.2M56.3 317.5L59.0 317.5M64.5 322.6L64.5 323.9M64.5 322.6L65.3 322.6M64.5 323.9L65.3 323.9M64.2 325.1L64.2 326.4M64.2 325.1L65.3 325.1M64.2 326.4L65.3 326.4M63.7 327.6L63.7 328.9M63.7 327.6L65.3 327.6M63.7 328.9L65.3 328.9M64.0 330.1L64.0 331.4M64.0 330.1L65.3 330.1M64.0 331.4L65.3 331.4M64.2 332.6L64.2 333.9M64.2 332.6L65.3 332.6M64.2 333.9L65.3 333.9M64.3 335.1L64.3 336.4M64.3 335.1L65.3 335.1M64.3 336.4L65.3 336.4M63.7 337.6L63.7 338.9M63.7 337.6L65.3 337.6M63.7 338.9L65.3 338.9M63.3 323.3L63.3 325.8M63.3 323.3L64.5 323.3M63.3 325.8L64.2 325.8M61.9 328.3L61.9 330.8M61.9 328.3L63.7 328.3M61.9 330.8L64.0 330.8M62.5 333.3L62.5 335.8M62.5 333.3L64.2 333.3M62.5 335.8L64.3 335.8M60.6 324.5L60.6 329.5M60.6 324.5L63.3 324.5M60.6 329.5L61.9 329.5M61.2 334.5L61.2 338.3M61.2 334.5L62.5 334.5M61.2 338.3L63.7 338.3M60.0 327.0L60.0 336.4M60.0 327.0L60.6 327.0M60.0 336.4L61.2 336.4M63.4 340.6L63.4 341.9M63.4 340.6L65.3 340.6M63.4 341.9L65.3 341.9M63.6 343.1L63.6 344.4M63.6 343.1L65.3 343.1M63.6 344.4L65.3 344.4M63.8 345.6L63.8 346.9M63.8 345.6L65.3 345.6M63.8 346.9L65.3 346.9M64.2 348.1L64.2 349.4M64.2 348.1L65.3 348.1M64.2 349.4L65.3 349.4M64.4 350.6L64.4 351.9M64.4 350.6L65.3 350.6M64.4 351.9L65.3 351.9M63.7 353.1L63.7 354.4M63.7 353.1L65.3 353.1M63.7 354.4L65.3 354.4M62.6 341.3L62.6 343.8M62.6 341.3L63.4 341.3M62.6 343.8L63.6 343.8M62.1 346.3L62.1 348.8M62.1 346.3L63.8 346.3M62.1 348.8L64.2 348.8M62.1 347.5L62.1 351.3M62.1 347.5L62.1 347.5M62.1 351.3L64.4 351.3M62.7 353.8L62.7 355.6M62.7 353.8L63.7 353.8M62.7 355.6L65.3 355.6M61.0 342.5L61.0 349.4M61.0 342.5L62.6 342.5M61.0 349.4L62.1 349.4M60.0 345.9L60.0 354.7M60.0 345.9L61.0 345.9M60.0 354.7L62.7 354.7M58.0 331.7L58.0 352.0M58.0 331.7L60.0 331.7M58.0 350.3L60.0 350.3M54.3 313.3L54.3 352.0M54.3 313.3L56.3 313.3M54.3 352.0L58.0 352.0M64.1 356.6L64.1 357.9M64.1 356.6L65.3 356.6M64.1 357.9L65.3 357.9M63.4 359.1L63.4 360.4M63.4 359.1L65.3 359.1M63.4 360.4L65.3 360.4M63.9 361.6L63.9 362.9M63.9 361.6L65.3 361.6M63.9 362.9L65.3 362.9M63.9 362.3L63.9 364.1M63.9 362.3L63.9 362.3M63.9 364.1L65.3 364.1M63.4 365.4L63.4 366.6M63.4 365.4L65.3 365.4M63.4 366.6L65.3 366.6M62.7 357.3L62.7 359.8M62.7 357.3L64.1 357.3M62.7 359.8L63.4 359.8M62.2 363.2L62.2 366.0M62.2 363.2L63.9 363.2M62.2 366.0L63.4 366.0M60.9 358.5L60.9 364.6M60.9 358.5L62.7 358.5M60.9 364.6L62.2 364.6M60.0 361.6L60.0 367.9M60.0 361.6L60.9 361.6M60.0 367.9L65.3 367.9M64.5 369.6L64.5 370.9M64.5 369.6L65.3 369.6M64.5 370.9L65.3 370.9M64.5 372.1L64.5 373.4M64.5 372.1L65.3 372.1M64.5 373.4L65.3 373.4M64.2 374.6L64.2 375.9M64.2 374.6L65.3 374.6M64.2 375.9L65.3 375.9M63.9 377.1L63.9 378.4M63.9 377.1L65.3 377.1M63.9 378.4L65.3 378.4M63.7 379.6L63.7 380.9M63.7 379.6L65.3 379.6M63.7 380.9L65.3 380.9M62.9 370.3L62.9 372.8M62.9 370.3L64.5 370.3M62.9 372.8L64.5 372.8M62.5 375.3L62.5 377.8M62.5 375.3L64.2 375.3M62.5 377.8L63.9 377.8M62.5 376.5L62.5 380.3M62.5 376.5L62.5 376.5M62.5 380.3L63.7 380.3M60.0 371.5L60.0 378.4M60.0 371.5L62.9 371.5M60.0 378.4L62.5 378.4M58.0 364.7L58.0 374.9M58.0 364.7L60.0 364.7M58.0 374.9L60.0 374.9M50.2 334.9L50.2 371.0M50.2 334.9L54.3 334.9M50.2 371.0L58.0 371.0"/><path stroke="#96bee1" stroke-width="1.3" fill="none" d="M25.0 174.5L25.0 354.0"/><path stroke="#1f5fb0" stroke-width="1.3" fill="none" d="M25.0 174.5L31.9 174.5M25.0 354.0L50.2 354.0"/></g>
<g><text x="4.6" y="13.2" font-size="12.00" text-anchor="start" fill="#111" font-weight="bold" >(A)</text><text x="302.2" y="13.2" font-size="12.00" text-anchor="start" fill="#111" font-weight="bold" >(B)</text><text x="307.2" y="223.9" font-size="12.00" text-anchor="start" fill="#111" font-weight="bold" >(C)</text><text x="7.6" y="36.0" font-size="7.00" text-anchor="start" fill="#666" font-weight="normal" >z-score</text><text x="22.0" y="43.6" font-size="5.60" text-anchor="start" fill="#777" font-weight="normal" >4</text><text x="22.0" y="75.6" font-size="5.60" text-anchor="start" fill="#777" font-weight="normal" >2</text><text x="22.0" y="107.6" font-size="5.60" text-anchor="start" fill="#777" font-weight="normal" >0</text><text x="22.0" y="139.6" font-size="5.60" text-anchor="start" fill="#777" font-weight="normal" >&#8722;2</text><text transform="translate(64.5 388.5) rotate(90)" font-size="8.0" fill="#333" dy="0.35em">0</text><text transform="translate(52.1 388.5) rotate(90)" font-size="8.0" fill="#333" dy="0.35em">&#8722;50</text><text transform="translate(39.7 388.5) rotate(90)" font-size="8.0" fill="#333" dy="0.35em">&#8722;100</text><text transform="translate(27.8 388.5) rotate(90)" font-size="8.0" fill="#333" dy="0.35em">&#8722;150</text><text transform="translate(70.6 388.5) rotate(90)" font-size="6.1" fill="#3a3a3a" dy="0.35em">Mut-M1</text><text transform="translate(83.0 388.5) rotate(90)" font-size="6.1" fill="#3a3a3a" dy="0.35em">Mut-M2</text><text transform="translate(95.5 388.5) rotate(90)" font-size="6.1" fill="#3a3a3a" dy="0.35em">Mut-M3</text><text transform="translate(107.9 388.5) rotate(90)" font-size="6.1" fill="#3a3a3a" dy="0.35em">Mut-M4</text><text transform="translate(120.3 388.5) rotate(90)" font-size="6.1" fill="#3a3a3a" dy="0.35em">Mut-M5</text><text transform="translate(132.8 388.5) rotate(90)" font-size="6.1" fill="#3a3a3a" dy="0.35em">Mut-M6</text><text transform="translate(145.2 388.5) rotate(90)" font-size="6.1" fill="#3a3a3a" dy="0.35em">Mut-M7</text><text transform="translate(157.6 388.5) rotate(90)" font-size="6.1" fill="#3a3a3a" dy="0.35em">Mut-M8</text><text transform="translate(170.0 388.5) rotate(90)" font-size="6.1" fill="#3a3a3a" dy="0.35em">Mut-M9</text><text transform="translate(182.5 388.5) rotate(90)" font-size="6.1" fill="#3a3a3a" dy="0.35em">Mut-M10</text><text transform="translate(194.9 388.5) rotate(90)" font-size="6.1" fill="#3a3a3a" dy="0.35em">Mut-M11</text><text transform="translate(207.3 388.5) rotate(90)" font-size="6.1" fill="#3a3a3a" dy="0.35em">WT-M1</text><text transform="translate(219.8 388.5) rotate(90)" font-size="6.1" fill="#3a3a3a" dy="0.35em">WT-M2</text><text transform="translate(232.2 388.5) rotate(90)" font-size="6.1" fill="#3a3a3a" dy="0.35em">WT-M3</text><text transform="translate(244.6 388.5) rotate(90)" font-size="6.1" fill="#3a3a3a" dy="0.35em">WT-M4</text><text transform="translate(257.0 388.5) rotate(90)" font-size="6.1" fill="#3a3a3a" dy="0.35em">WT-M5</text><text transform="translate(269.5 388.5) rotate(90)" font-size="6.1" fill="#3a3a3a" dy="0.35em">WT-M6</text><text transform="translate(281.9 388.5) rotate(90)" font-size="6.1" fill="#3a3a3a" dy="0.35em">WT-M7</text><text transform="translate(294.3 388.5) rotate(90)" font-size="6.1" fill="#3a3a3a" dy="0.35em">WT-M8</text></g>
<path d="M396 139.5h1.3M402 139.5h1.3M421 139.5h4.3M394 140.5h13.3M420 140.5h8.3M429 140.5h2.3M432 140.5h1.3M391 141.5h2.3M394 141.5h2.3M397 141.5h10.3M420 141.5h15.3M389 142.5h2.3M392 142.5h1.3M394 142.5h4.3M399 142.5h8.3M420 142.5h8.3M429 142.5h7.3M438 142.5h1.3M388 143.5h19.3M420 143.5h9.3M430 143.5h2.3M433 143.5h5.3M439 143.5h1.3M360 144.5h1.3M365 144.5h1.3M388 144.5h2.3M392 144.5h15.3M420 144.5h9.3M430 144.5h1.3M432 144.5h2.3M435 144.5h1.3M439 144.5h4.3M385 145.5h2.3M388 145.5h1.3M393 145.5h2.3M396 145.5h11.3M420 145.5h5.3M426 145.5h5.3M432 145.5h1.3M434 145.5h7.3M443 145.5h1.3M386 146.5h2.3M389 146.5h5.3M395 146.5h12.3M420 146.5h8.3M429 146.5h3.3M433 146.5h2.3M437 146.5h4.3M442 146.5h1.3M445 146.5h1.3M379 147.5h1.3M383 147.5h1.3M385 147.5h6.3M392 147.5h3.3M396 147.5h11.3M420 147.5h11.3M432 147.5h6.3M439 147.5h2.3M446 147.5h1.3M363 148.5h1.3M376 148.5h1.3M383 148.5h1.3M386 148.5h2.3M390 148.5h5.3M396 148.5h6.3M403 148.5h4.3M421 148.5h6.3M428 148.5h9.3M439 148.5h1.3M441 148.5h1.3M444 148.5h2.3M450 148.5h1.3M375 149.5h1.3M384 149.5h1.3M387 149.5h4.3M392 149.5h12.3M405 149.5h2.3M420 149.5h11.3M432 149.5h2.3M435 149.5h1.3M437 149.5h1.3M442 149.5h1.3M447 149.5h2.3M451 149.5h1.3M373 150.5h1.3M378 150.5h1.3M380 150.5h3.3M384 150.5h1.3M386 150.5h2.3M392 150.5h9.3M402 150.5h5.3M420 150.5h9.3M430 150.5h3.3M434 150.5h1.3M436 150.5h1.3M438 150.5h1.3M440 150.5h3.3M444 150.5h2.3M462 150.5h1.3M370 151.5h1.3M378 151.5h3.3M382 151.5h4.3M387 151.5h3.3M392 151.5h1.3M394 151.5h13.3M420 151.5h14.3M437 151.5h4.3M442 151.5h2.3M450 151.5h1.3M469 151.5h1.3M375 152.5h1.3M382 152.5h1.3M387 152.5h2.3M391 152.5h16.3M420 152.5h8.3M429 152.5h2.3M432 152.5h1.3M435 152.5h1.3M437 152.5h4.3M444 152.5h2.3M456 152.5h2.3M371 153.5h1.3M378 153.5h2.3M381 153.5h1.3M383 153.5h1.3M385 153.5h2.3M388 153.5h2.3M391 153.5h9.3M401 153.5h6.3M421 153.5h10.3M432 153.5h3.3M441 153.5h1.3M444 153.5h1.3M446 153.5h3.3M458 153.5h1.3M366 154.5h1.3M372 154.5h1.3M378 154.5h1.3M381 154.5h1.3M383 154.5h1.3M385 154.5h1.3M387 154.5h4.3M392 154.5h15.3M420 154.5h11.3M432 154.5h1.3M434 154.5h2.3M440 154.5h1.3M442 154.5h2.3M453 154.5h2.3M458 154.5h1.3M363 155.5h2.3M370 155.5h1.3M374 155.5h2.3M386 155.5h1.3M392 155.5h14.3M420 155.5h9.3M430 155.5h5.3M441 155.5h2.3M444 155.5h2.3M449 155.5h3.3M454 155.5h2.3M462 155.5h1.3M474 155.5h1.3M378 156.5h1.3M380 156.5h1.3M383 156.5h7.3M391 156.5h2.3M394 156.5h1.3M396 156.5h11.3M420 156.5h18.3M439 156.5h2.3M442 156.5h1.3M444 156.5h1.3M449 156.5h1.3M451 156.5h1.3M453 156.5h1.3M361 157.5h1.3M365 157.5h2.3M370 157.5h1.3M374 157.5h1.3M377 157.5h2.3M380 157.5h1.3M383 157.5h1.3M388 157.5h1.3M390 157.5h2.3M393 157.5h1.3M395 157.5h12.3M420 157.5h14.3M435 157.5h1.3M437 157.5h2.3M440 157.5h2.3M443 157.5h1.3M446 157.5h2.3M450 157.5h3.3M455 157.5h2.3M462 157.5h1.3M369 158.5h1.3M376 158.5h1.3M378 158.5h1.3M389 158.5h18.3M420 158.5h12.3M433 158.5h11.3M447 158.5h1.3M449 158.5h1.3M451 158.5h4.3M459 158.5h1.3M464 158.5h1.3M467 158.5h1.3M471 158.5h1.3M354 159.5h1.3M360 159.5h1.3M363 159.5h1.3M369 159.5h2.3M372 159.5h1.3M382 159.5h2.3M385 159.5h2.3M388 159.5h2.3M391 159.5h1.3M393 159.5h3.3M397 159.5h1.3M399 159.5h4.3M404 159.5h3.3M421 159.5h4.3M426 159.5h10.3M440 159.5h3.3M446 159.5h4.3M453 159.5h1.3M456 159.5h2.3M459 159.5h1.3M464 159.5h1.3M469 159.5h2.3M472 159.5h1.3M355 160.5h1.3M360 160.5h1.3M364 160.5h2.3M368 160.5h1.3M370 160.5h1.3M373 160.5h2.3M376 160.5h4.3M381 160.5h2.3M384 160.5h1.3M388 160.5h3.3M392 160.5h2.3M395 160.5h3.3M399 160.5h8.3M420 160.5h6.3M427 160.5h3.3M431 160.5h1.3M434 160.5h1.3M438 160.5h1.3M440 160.5h5.3M446 160.5h1.3M452 160.5h1.3M458 160.5h1.3M463 160.5h1.3M465 160.5h1.3M356 161.5h1.3M369 161.5h1.3M371 161.5h1.3M374 161.5h1.3M379 161.5h1.3M382 161.5h3.3M386 161.5h2.3M392 161.5h4.3M398 161.5h9.3M420 161.5h14.3M435 161.5h11.3M447 161.5h1.3M449 161.5h1.3M452 161.5h1.3M454 161.5h2.3M458 161.5h1.3M460 161.5h1.3M462 161.5h1.3M470 161.5h1.3M365 162.5h1.3M371 162.5h2.3M375 162.5h2.3M379 162.5h1.3M381 162.5h1.3M387 162.5h1.3M389 162.5h9.3M399 162.5h8.3M420 162.5h8.3M429 162.5h9.3M439 162.5h1.3M441 162.5h1.3M443 162.5h1.3M445 162.5h1.3M449 162.5h1.3M453 162.5h1.3M460 162.5h1.3M462 162.5h1.3M468 162.5h1.3M470 162.5h2.3M475 162.5h1.3M481 162.5h1.3M362 163.5h1.3M366 163.5h1.3M371 163.5h1.3M377 163.5h8.3M386 163.5h2.3M389 163.5h4.3M394 163.5h13.3M420 163.5h9.3M430 163.5h6.3M438 163.5h1.3M440 163.5h1.3M443 163.5h1.3M445 163.5h1.3M452 163.5h2.3M456 163.5h1.3M458 163.5h1.3M463 163.5h1.3M466 163.5h1.3M469 163.5h1.3M477 163.5h1.3M353 164.5h1.3M356 164.5h1.3M368 164.5h1.3M371 164.5h1.3M373 164.5h1.3M379 164.5h4.3M385 164.5h3.3M389 164.5h12.3M402 164.5h5.3M420 164.5h12.3M434 164.5h4.3M439 164.5h1.3M443 164.5h2.3M446 164.5h1.3M448 164.5h1.3M451 164.5h2.3M455 164.5h3.3M463 164.5h2.3M470 164.5h1.3M480 164.5h2.3M367 165.5h1.3M371 165.5h1.3M376 165.5h1.3M380 165.5h1.3M383 165.5h1.3M386 165.5h1.3M389 165.5h4.3M395 165.5h2.3M398 165.5h9.3M420 165.5h13.3M435 165.5h6.3M442 165.5h1.3M445 165.5h1.3M447 165.5h1.3M450 165.5h1.3M453 165.5h1.3M455 165.5h2.3M468 165.5h1.3M475 165.5h1.3M352 166.5h2.3M356 166.5h1.3M362 166.5h3.3M366 166.5h1.3M371 166.5h1.3M374 166.5h1.3M376 166.5h3.3M380 166.5h2.3M383 166.5h2.3M386 166.5h3.3M391 166.5h6.3M398 166.5h9.3M420 166.5h16.3M437 166.5h4.3M443 166.5h1.3M446 166.5h1.3M448 166.5h1.3M450 166.5h1.3M452 166.5h1.3M455 166.5h3.3M459 166.5h1.3M462 166.5h1.3M464 166.5h1.3M470 166.5h1.3M472 166.5h1.3M357 167.5h1.3M360 167.5h1.3M365 167.5h1.3M368 167.5h2.3M371 167.5h1.3M374 167.5h2.3M377 167.5h2.3M381 167.5h1.3M384 167.5h1.3M386 167.5h1.3M390 167.5h2.3M393 167.5h6.3M400 167.5h7.3M420 167.5h18.3M439 167.5h8.3M449 167.5h1.3M451 167.5h1.3M453 167.5h1.3M456 167.5h1.3M358 168.5h1.3M360 168.5h1.3M365 168.5h2.3M368 168.5h1.3M375 168.5h1.3M377 168.5h1.3M380 168.5h2.3M383 168.5h2.3M386 168.5h3.3M391 168.5h16.3M420 168.5h20.3M441 168.5h1.3M444 168.5h2.3M447 168.5h1.3M451 168.5h2.3M459 168.5h2.3M463 168.5h1.3M465 168.5h1.3M467 168.5h1.3M471 168.5h2.3M357 169.5h1.3M360 169.5h1.3M364 169.5h1.3M366 169.5h1.3M369 169.5h2.3M373 169.5h1.3M375 169.5h1.3M379 169.5h1.3M381 169.5h2.3M386 169.5h4.3M391 169.5h4.3M396 169.5h11.3M420 169.5h18.3M439 169.5h2.3M442 169.5h1.3M444 169.5h2.3M448 169.5h1.3M450 169.5h3.3M454 169.5h1.3M456 169.5h2.3M459 169.5h1.3M461 169.5h1.3M463 169.5h1.3M468 169.5h1.3M360 170.5h2.3M365 170.5h1.3M367 170.5h1.3M369 170.5h1.3M372 170.5h1.3M374 170.5h6.3M382 170.5h5.3M388 170.5h3.3M392 170.5h14.3M420 170.5h20.3M442 170.5h2.3M445 170.5h2.3M448 170.5h2.3M452 170.5h2.3M456 170.5h1.3M458 170.5h1.3M461 170.5h4.3M368 171.5h4.3M375 171.5h7.3M385 171.5h6.3M392 171.5h4.3M397 171.5h10.3M420 171.5h11.3M433 171.5h7.3M441 171.5h3.3M448 171.5h3.3M371 172.5h2.3M375 172.5h3.3M380 172.5h1.3M382 172.5h1.3M384 172.5h1.3M386 172.5h2.3M389 172.5h5.3M395 172.5h12.3M420 172.5h22.3M443 172.5h3.3M447 172.5h3.3M377 173.5h1.3M379 173.5h1.3M381 173.5h1.3M383 173.5h2.3M386 173.5h21.3M420 173.5h20.3M441 173.5h1.3M446 173.5h1.3M384 174.5h23.3M420 174.5h20.3M387 175.5h20.3M420 175.5h17.3M390 176.5h17.3M420 176.5h14.3M393 177.5h14.3M420 177.5h10.3M396 178.5h11.3M420 178.5h8.3M399 179.5h8.3M420 179.5h5.3M400 180.5h7.3M420 180.5h3.3M402 181.5h5.3M420 181.5h2.3M403 182.5h4.3M404 183.5h3.3M405 184.5h2.3M406 185.5h1.3" stroke="#111" stroke-width="1.3" fill="none"/>
<path d="M405 18.5h1.4M394 42.5h1.4M405 61.5h1.4M399 69.5h1.4M398 82.5h1.4M433 85.5h1.4M395 87.5h1.4M402 90.5h1.4M404 92.5h1.4M406 92.5h1.4M389 93.5h1.4M427 93.5h1.4M429 93.5h1.4M422 94.5h1.4M403 95.5h1.4M431 95.5h1.4M405 97.5h1.4M430 97.5h1.4M402 98.5h1.4M423 99.5h1.4M403 100.5h1.4M405 100.5h1.4M443 100.5h1.4M385 102.5h1.4M402 103.5h1.4M424 103.5h1.4M380 104.5h1.4M460 104.5h1.4M372 105.5h1.4M404 105.5h1.4M421 105.5h1.4M432 105.5h1.4M393 107.5h1.4M396 107.5h1.4M405 107.5h1.4M436 107.5h1.4M372 108.5h1.4M399 108.5h1.4M401 109.5h1.4M421 109.5h1.4M403 110.5h2.4M439 110.5h1.4M403 111.5h1.4M406 111.5h1.4M421 111.5h1.4M389 112.5h1.4M399 112.5h1.4M420 112.5h2.4M423 112.5h1.4M427 112.5h1.4M447 112.5h1.4M366 113.5h1.4M405 113.5h2.4M420 113.5h2.4M424 113.5h1.4M405 114.5h1.4M421 114.5h2.4M454 114.5h1.4M403 115.5h1.4M405 115.5h2.4M421 115.5h1.4M424 115.5h2.4M400 116.5h1.4M404 116.5h2.4M421 116.5h1.4M393 117.5h1.4M404 117.5h2.4M421 117.5h1.4M423 117.5h2.4M401 118.5h1.4M404 118.5h3.4M421 118.5h1.4M424 118.5h1.4M437 118.5h1.4M396 119.5h1.4M398 119.5h1.4M403 119.5h1.4M405 119.5h1.4M422 119.5h2.4M397 120.5h1.4M400 120.5h1.4M406 120.5h1.4M420 120.5h3.4M425 120.5h1.4M431 120.5h1.4M404 121.5h2.4M421 121.5h1.4M423 121.5h3.4M429 121.5h1.4M392 122.5h1.4M400 122.5h4.4M405 122.5h2.4M420 122.5h4.4M429 122.5h1.4M434 122.5h1.4M400 123.5h4.4M405 123.5h1.4M422 123.5h2.4M425 123.5h1.4M431 123.5h1.4M396 124.5h1.4M400 124.5h7.4M420 124.5h2.4M423 124.5h1.4M426 124.5h2.4M432 124.5h1.4M464 124.5h1.4M402 125.5h5.4M421 125.5h1.4M423 125.5h1.4M425 125.5h3.4M436 125.5h1.4M397 126.5h1.4M400 126.5h2.4M403 126.5h4.4M421 126.5h2.4M425 126.5h1.4M428 126.5h2.4M433 126.5h1.4M438 126.5h1.4M388 127.5h1.4M395 127.5h2.4M400 127.5h3.4M405 127.5h1.4M421 127.5h4.4M427 127.5h2.4M439 127.5h1.4M383 128.5h1.4M393 128.5h1.4M396 128.5h1.4M400 128.5h4.4M405 128.5h2.4M420 128.5h4.4M425 128.5h1.4M427 128.5h2.4M430 128.5h1.4M432 128.5h1.4M402 129.5h4.4M420 129.5h8.4M430 129.5h1.4M445 129.5h1.4M466 129.5h1.4M393 130.5h1.4M396 130.5h1.4M398 130.5h4.4M403 130.5h4.4M420 130.5h7.4M428 130.5h1.4M433 130.5h1.4M439 130.5h1.4M463 130.5h1.4M386 131.5h1.4M391 131.5h1.4M393 131.5h1.4M395 131.5h2.4M398 131.5h2.4M401 131.5h6.4M420 131.5h3.4M424 131.5h2.4M429 131.5h2.4M432 131.5h1.4M385 132.5h1.4M391 132.5h2.4M398 132.5h9.4M421 132.5h4.4M426 132.5h1.4M432 132.5h1.4M441 132.5h1.4M360 133.5h1.4M369 133.5h1.4M391 133.5h2.4M395 133.5h1.4M398 133.5h1.4M402 133.5h5.4M420 133.5h6.4M427 133.5h1.4M429 133.5h1.4M431 133.5h1.4M433 133.5h1.4M447 133.5h1.4M377 134.5h1.4M389 134.5h1.4M392 134.5h1.4M394 134.5h1.4M397 134.5h2.4M400 134.5h1.4M402 134.5h5.4M420 134.5h7.4M428 134.5h1.4M433 134.5h1.4M435 134.5h1.4M438 134.5h1.4M473 134.5h1.4M380 135.5h1.4M384 135.5h1.4M389 135.5h1.4M394 135.5h2.4M397 135.5h3.4M402 135.5h5.4M420 135.5h6.4M427 135.5h2.4M434 135.5h1.4M436 135.5h1.4M439 135.5h2.4M370 136.5h1.4M376 136.5h2.4M379 136.5h1.4M387 136.5h1.4M392 136.5h1.4M399 136.5h1.4M401 136.5h6.4M420 136.5h6.4M428 136.5h4.4M434 136.5h1.4M436 136.5h1.4M439 136.5h1.4M444 136.5h1.4M459 136.5h1.4M372 137.5h1.4M380 137.5h1.4M386 137.5h1.4M390 137.5h2.4M395 137.5h1.4M397 137.5h10.4M420 137.5h4.4M425 137.5h1.4M427 137.5h3.4M431 137.5h1.4M433 137.5h1.4M439 137.5h1.4M445 137.5h1.4M453 137.5h1.4M375 138.5h1.4M385 138.5h1.4M387 138.5h1.4M392 138.5h1.4M396 138.5h1.4M398 138.5h9.4M420 138.5h6.4M427 138.5h5.4M433 138.5h3.4M441 138.5h1.4M443 138.5h1.4M358 139.5h1.4M381 139.5h1.4M390 139.5h1.4M394 139.5h2.4M397 139.5h1.4M399 139.5h8.4M420 139.5h3.4M424 139.5h2.4M427 139.5h3.4M440 139.5h1.4M451 139.5h1.4" stroke="#ec3434" stroke-width="1.5" fill="none" opacity="0.9"/>
<rect x="344.2" y="8.1" width="147.2" height="186.7" fill="none" stroke="#777" stroke-width="1"/><path d="M341 187.7H344" stroke="#777" stroke-width="1"/><text x="339.0" y="189.9" font-size="6.40" text-anchor="middle" fill="#222" font-weight="normal" >0</text><path d="M341 150.9H344" stroke="#777" stroke-width="1"/><text x="339.0" y="153.1" font-size="6.40" text-anchor="middle" fill="#222" font-weight="normal" >1</text><path d="M341 114.1H344" stroke="#777" stroke-width="1"/><text x="339.0" y="116.3" font-size="6.40" text-anchor="middle" fill="#222" font-weight="normal" >2</text><path d="M341 77.3H344" stroke="#777" stroke-width="1"/><text x="339.0" y="79.5" font-size="6.40" text-anchor="middle" fill="#222" font-weight="normal" >3</text><path d="M341 40.5H344" stroke="#777" stroke-width="1"/><text x="339.0" y="42.7" font-size="6.40" text-anchor="middle" fill="#222" font-weight="normal" >4</text><path d="M362.5 195V198" stroke="#777" stroke-width="1"/><text x="362.5" y="203.8" font-size="6.40" text-anchor="middle" fill="#222" font-weight="normal" >&#8722;5</text><path d="M411.5 195V198" stroke="#777" stroke-width="1"/><text x="411.5" y="203.8" font-size="6.40" text-anchor="middle" fill="#222" font-weight="normal" >0</text><path d="M460.5 195V198" stroke="#777" stroke-width="1"/><text x="460.5" y="203.8" font-size="6.40" text-anchor="middle" fill="#222" font-weight="normal" >5</text><text x="417.6" y="215.6" font-size="9.70" text-anchor="middle" fill="#222" font-weight="normal" >log2(FoldChange)</text><text transform="translate(321.1 101) rotate(-90)" font-size="8.0" text-anchor="middle" fill="#222" dy="0.35em">-log10(P-value)</text><text x="494.9" y="19.2" font-size="10.00" text-anchor="start" fill="#222" font-weight="normal" letter-spacing="0.42">significant</text><rect x="502.4" y="24.7" width="1" height="1" fill="#000"/><rect x="502.4" y="34.2" width="1.2" height="1.2" fill="#f33"/><text x="511.8" y="28.6" font-size="8.60" text-anchor="start" fill="#222" font-weight="normal" >no</text><text x="511.8" y="37.9" font-size="8.60" text-anchor="start" fill="#222" font-weight="normal" >yes</text>
<g><circle cx="362.9" cy="233.0" r="1.8" fill="#ef6f6f"/><circle cx="356.9" cy="263.1" r="1.8" fill="#ef6f6f"/><circle cx="355.7" cy="277.7" r="1.8" fill="#ef6f6f"/><circle cx="351.9" cy="293.7" r="1.8" fill="#ef6f6f"/><circle cx="373.4" cy="292.7" r="1.8" fill="#ef6f6f"/><circle cx="364.4" cy="335.6" r="1.8" fill="#ef6f6f"/><circle cx="380.5" cy="332.8" r="1.8" fill="#ef6f6f"/><circle cx="402.8" cy="347.7" r="1.8" fill="#ef6f6f"/><circle cx="381.3" cy="369.2" r="1.8" fill="#ef6f6f"/><circle cx="392.6" cy="374.6" r="1.8" fill="#ef6f6f"/><circle cx="483.2" cy="299.2" r="1.8" fill="#ef6f6f"/><circle cx="375.7" cy="342.9" r="1.8" fill="#646464"/><circle cx="373.4" cy="356.5" r="1.8" fill="#646464"/><circle cx="386.4" cy="368.6" r="1.8" fill="#646464"/><circle cx="383.9" cy="374.3" r="1.8" fill="#646464"/><circle cx="383.3" cy="379.9" r="1.8" fill="#646464"/><circle cx="394.1" cy="372.6" r="1.8" fill="#646464"/><circle cx="484.7" cy="292.9" r="1.8" fill="#646464"/><circle cx="445.3" cy="313.4" r="1.8" fill="#646464"/></g>
<rect x="342.5" y="222.3" width="152.1" height="167.9" fill="none" stroke="#777" stroke-width="1"/><path d="M339.5 240.0H342.5" stroke="#777" stroke-width="1"/><text x="338.3" y="242.2" font-size="6.40" text-anchor="end" fill="#222" font-weight="normal" >40</text><path d="M339.5 261.8H342.5" stroke="#777" stroke-width="1"/><text x="338.3" y="264.0" font-size="6.40" text-anchor="end" fill="#222" font-weight="normal" >30</text><path d="M339.5 283.7H342.5" stroke="#777" stroke-width="1"/><text x="338.3" y="285.9" font-size="6.40" text-anchor="end" fill="#222" font-weight="normal" >20</text><path d="M339.5 305.5H342.5" stroke="#777" stroke-width="1"/><text x="338.3" y="307.7" font-size="6.40" text-anchor="end" fill="#222" font-weight="normal" >10</text><path d="M339.5 327.4H342.5" stroke="#777" stroke-width="1"/><text x="338.3" y="329.6" font-size="6.40" text-anchor="end" fill="#222" font-weight="normal" >0</text><path d="M339.5 349.2H342.5" stroke="#777" stroke-width="1"/><text x="338.3" y="351.4" font-size="6.40" text-anchor="end" fill="#222" font-weight="normal" >&#8722;10</text><path d="M339.5 371.1H342.5" stroke="#777" stroke-width="1"/><text x="338.3" y="373.3" font-size="6.40" text-anchor="end" fill="#222" font-weight="normal" >&#8722;20</text><path d="M360.9 390.2V393.2" stroke="#777" stroke-width="1"/><text x="360.9" y="399.9" font-size="6.40" text-anchor="middle" fill="#222" font-weight="normal" >&#8722;20</text><path d="M391.2 390.2V393.2" stroke="#777" stroke-width="1"/><text x="391.2" y="399.9" font-size="6.40" text-anchor="middle" fill="#222" font-weight="normal" >0</text><path d="M421.5 390.2V393.2" stroke="#777" stroke-width="1"/><text x="421.5" y="399.9" font-size="6.40" text-anchor="middle" fill="#222" font-weight="normal" >20</text><path d="M451.9 390.2V393.2" stroke="#777" stroke-width="1"/><text x="451.9" y="399.9" font-size="6.40" text-anchor="middle" fill="#222" font-weight="normal" >40</text><path d="M482.2 390.2V393.2" stroke="#777" stroke-width="1"/><text x="482.2" y="399.9" font-size="6.40" text-anchor="middle" fill="#222" font-weight="normal" >60</text><text x="418.6" y="412.9" font-size="9.00" text-anchor="middle" fill="#1a1a1a" font-weight="normal" >PC1: 36.31% variance</text><text transform="translate(315.8 306.8) rotate(-90)" font-size="8.8" text-anchor="middle" fill="#1a1a1a" dy="0.35em">PC2: 22.15% variance</text><text x="498.4" y="234.4" font-size="9.40" text-anchor="start" fill="#222" font-weight="normal" >Groups</text><circle cx="505.5" cy="241.6" r="1.8" fill="#ef6f6f"/><circle cx="505.5" cy="252.1" r="1.8" fill="#646464"/><text x="513.4" y="244.5" font-size="7.90" text-anchor="start" fill="#111" font-weight="normal" stroke="#111" stroke-width="0.15">Myo-Mut</text><text x="513.4" y="255.0" font-size="7.90" text-anchor="start" fill="#111" font-weight="normal" stroke="#111" stroke-width="0.15">Myo-WT</text>
</svg>
</body></html>
